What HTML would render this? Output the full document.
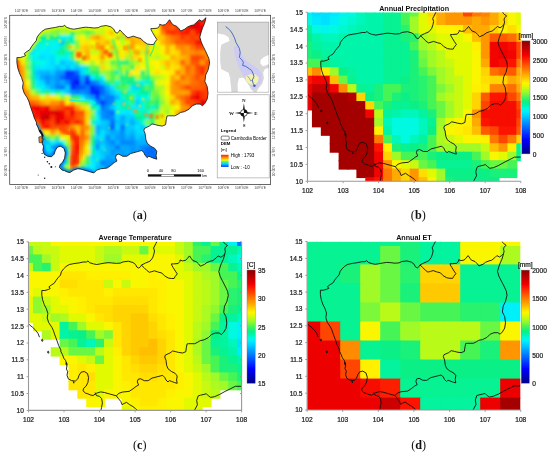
<!DOCTYPE html>
<html><head><meta charset="utf-8"><title>Figure</title>
<style>
html,body{margin:0;padding:0;background:#fff;}
body{width:550px;height:456px;overflow:hidden;}
svg{display:block;}
.tk{font-family:"Liberation Sans",Arial,sans-serif;font-size:6.6px;fill:#222;stroke:#222;stroke-width:0.22px;}
.ttl{font-family:"Liberation Sans",Arial,sans-serif;font-size:7.2px;font-weight:bold;fill:#111;}
.cap{font-family:"Liberation Serif","Times New Roman",serif;font-size:12.2px;fill:#111;}
.ax{stroke:#999;stroke-width:1.1;}
.tka{font-family:"Liberation Sans",Arial,sans-serif;font-size:3.3px;fill:#444;}
.fr{stroke:#444;stroke-width:0.5;}
.lg{font-family:"Liberation Sans",Arial,sans-serif;font-size:4.6px;fill:#000;}
.lgb{font-family:"Liberation Sans",Arial,sans-serif;font-size:4.3px;font-weight:bold;fill:#000;}
.cmp{font-family:"Liberation Serif",serif;font-size:5px;font-weight:bold;fill:#111;}
.tick{stroke:#888;stroke-width:0.8;}
</style></head>
<body>
<svg width="550" height="456" viewBox="0 0 550 456">
<defs><clipPath id="cpa"><path d="M16.9 57.6 L20.1 57.6 L23.5 56.5 L25.6 55.6 L24.2 53.7 L26.9 51.5 L29.7 49.8 L31.6 46.5 L33.7 43.7 L36.2 40.8 L37.1 37.2 L39.2 34.3 L41.9 31.4 L45.3 29.2 L50.0 28.3 L55.5 27.4 L59.5 26.4 L62.9 26.4 L64.7 25.2 L66.3 27.2 L70.4 28.6 L73.8 29.2 L77.2 28.6 L81.3 27.8 L85.3 27.2 L88.6 27.4 L94.0 28.0 L98.1 27.7 L100.8 26.3 L106.3 25.5 L111.0 26.9 L113.7 29.1 L115.1 32.0 L117.1 33.2 L119.2 31.3 L119.8 29.9 L122.6 32.7 L125.3 35.6 L128.0 37.8 L130.6 37.0 L133.3 36.1 L137.1 37.5 L140.9 38.5 L143.7 41.6 L147.5 44.0 L150.8 44.5 L153.6 44.5 L154.5 42.6 L156.9 39.5 L154.9 36.6 L152.6 32.6 L151.2 30.1 L150.8 28.6 L153.0 28.6 L157.8 28.1 L159.7 25.6 L159.7 24.2 L162.0 25.2 L165.2 24.7 L167.2 22.7 L169.5 19.7 L171.4 22.7 L172.8 24.7 L176.6 26.2 L178.9 28.6 L180.7 31.1 L184.9 29.1 L187.6 26.9 L191.0 25.5 L193.7 24.9 L197.1 21.9 L199.2 19.7 L201.9 21.3 L203.9 19.7 L206.0 17.7 L204.6 23.3 L202.6 27.7 L201.2 32.0 L199.8 37.0 L201.2 42.0 L203.2 46.4 L205.3 50.6 L207.3 55.0 L208.9 58.6 L209.6 63.1 L208.1 69.9 L205.7 74.9 L204.9 81.5 L207.2 86.6 L208.1 93.2 L207.2 99.1 L204.9 103.3 L202.5 105.8 L200.1 104.1 L196.2 104.1 L192.3 105.8 L189.1 109.2 L184.3 111.7 L180.4 112.5 L178.0 114.2 L174.8 115.8 L168.5 115.8 L167.0 116.0 L166.3 119.6 L165.6 124.7 L162.2 126.1 L158.1 125.4 L155.4 124.7 L152.0 123.9 L149.3 126.1 L144.6 128.3 L143.9 130.4 L145.2 134.0 L145.9 139.7 L147.3 143.3 L150.7 146.2 L154.7 148.3 L156.8 151.2 L156.1 155.6 L156.8 159.2 L154.1 158.4 L150.7 157.0 L148.6 156.2 L147.3 157.7 L145.2 155.6 L143.9 152.7 L141.8 150.5 L139.1 151.2 L136.0 152.1 L130.7 153.5 L126.8 156.3 L122.8 156.3 L118.9 154.1 L116.3 154.9 L115.6 157.6 L116.9 161.1 L114.3 162.5 L111.0 165.3 L107.1 168.1 L100.5 168.8 L96.6 170.2 L93.9 172.9 L88.2 171.3 L81.6 169.3 L77.8 168.7 L73.8 170.0 L69.9 172.6 L67.3 172.0 L64.6 170.7 L62.0 170.0 L59.4 167.5 L60.0 164.7 L62.7 162.1 L64.6 158.2 L65.3 152.9 L64.0 148.3 L60.7 146.3 L57.5 147.0 L55.4 150.3 L54.1 154.2 L51.5 156.8 L47.5 156.2 L44.2 154.2 L42.9 150.3 L43.6 146.3 L42.3 143.7 L42.9 139.7 L41.6 134.5 L39.6 131.8 L38.2 127.9 L36.3 123.9 L36.7 123.0 L34.3 117.9 L32.7 112.9 L30.3 106.2 L28.8 101.2 L27.2 97.8 L24.0 92.8 L22.5 87.8 L23.2 82.7 L21.6 77.7 L19.3 72.7 L17.7 67.7 L16.9 62.6Z"/></clipPath><filter id="demblur" x="-5%" y="-5%" width="110%" height="110%"><feGaussianBlur stdDeviation="1.8"/></filter><filter id="b06"><feGaussianBlur stdDeviation="0.6"/></filter><filter id="b1"><feGaussianBlur stdDeviation="1"/></filter><filter id="b2" x="-30%" y="-30%" width="160%" height="160%"><feGaussianBlur stdDeviation="2"/></filter></defs>
<g clip-path="url(#cpa)">
<g filter="url(#demblur)">
<rect x="10" y="10" width="5.6" height="5.6" fill="#21f274"/>
<rect x="15" y="10" width="5.6" height="5.6" fill="#12f181"/>
<rect x="20" y="10" width="5.6" height="5.6" fill="#40f55a"/>
<rect x="25" y="10" width="5.6" height="5.6" fill="#1bf179"/>
<rect x="30" y="10" width="5.6" height="5.6" fill="#66f745"/>
<rect x="35" y="10" width="5.6" height="5.6" fill="#74f83e"/>
<rect x="40" y="10" width="5.6" height="5.6" fill="#73f73f"/>
<rect x="45" y="10" width="5.6" height="5.6" fill="#aafa22"/>
<rect x="50" y="10" width="5.6" height="5.6" fill="#73f73f"/>
<rect x="55" y="10" width="5.6" height="5.6" fill="#99fa2c"/>
<rect x="60" y="10" width="5.6" height="5.6" fill="#72f73f"/>
<rect x="65" y="10" width="5.6" height="5.6" fill="#74f83e"/>
<rect x="70" y="10" width="5.6" height="5.6" fill="#98fa2c"/>
<rect x="75" y="10" width="5.6" height="5.6" fill="#bdfa16"/>
<rect x="80" y="10" width="5.6" height="5.6" fill="#85f836"/>
<rect x="85" y="10" width="5.6" height="5.6" fill="#a4fa25"/>
<rect x="90" y="10" width="5.6" height="5.6" fill="#defa02"/>
<rect x="95" y="10" width="5.6" height="5.6" fill="#fff300"/>
<rect x="100" y="10" width="5.6" height="5.6" fill="#e7f900"/>
<rect x="105" y="10" width="5.6" height="5.6" fill="#dffa01"/>
<rect x="110" y="10" width="5.6" height="5.6" fill="#ffe400"/>
<rect x="115" y="10" width="5.6" height="5.6" fill="#d8fa06"/>
<rect x="120" y="10" width="5.6" height="5.6" fill="#ffe600"/>
<rect x="125" y="10" width="5.6" height="5.6" fill="#fcf600"/>
<rect x="130" y="10" width="5.6" height="5.6" fill="#ffe400"/>
<rect x="135" y="10" width="5.6" height="5.6" fill="#ffdc00"/>
<rect x="140" y="10" width="5.6" height="5.6" fill="#ffda00"/>
<rect x="145" y="10" width="5.6" height="5.6" fill="#ffb300"/>
<rect x="150" y="10" width="5.6" height="5.6" fill="#ffc100"/>
<rect x="155" y="10" width="5.6" height="5.6" fill="#ff8500"/>
<rect x="160" y="10" width="5.6" height="5.6" fill="#ff5400"/>
<rect x="165" y="10" width="5.6" height="5.6" fill="#ff4b00"/>
<rect x="170" y="10" width="5.6" height="5.6" fill="#fe3c00"/>
<rect x="175" y="10" width="5.6" height="5.6" fill="#ff4d00"/>
<rect x="180" y="10" width="5.6" height="5.6" fill="#fe3c00"/>
<rect x="185" y="10" width="5.6" height="5.6" fill="#fd2900"/>
<rect x="190" y="10" width="5.6" height="5.6" fill="#f70c00"/>
<rect x="195" y="10" width="5.6" height="5.6" fill="#fc1800"/>
<rect x="200" y="10" width="5.6" height="5.6" fill="#fd1f00"/>
<rect x="205" y="10" width="5.6" height="5.6" fill="#fa1000"/>
<rect x="210" y="10" width="5.6" height="5.6" fill="#fc1700"/>
<rect x="10" y="15" width="5.6" height="5.6" fill="#1ef276"/>
<rect x="15" y="15" width="5.6" height="5.6" fill="#4df552"/>
<rect x="20" y="15" width="5.6" height="5.6" fill="#44f556"/>
<rect x="25" y="15" width="5.6" height="5.6" fill="#2af36c"/>
<rect x="30" y="15" width="5.6" height="5.6" fill="#6af743"/>
<rect x="35" y="15" width="5.6" height="5.6" fill="#85f935"/>
<rect x="40" y="15" width="5.6" height="5.6" fill="#bffa15"/>
<rect x="45" y="15" width="5.6" height="5.6" fill="#bcfa17"/>
<rect x="50" y="15" width="5.6" height="5.6" fill="#8ef931"/>
<rect x="55" y="15" width="5.6" height="5.6" fill="#c5fa11"/>
<rect x="60" y="15" width="5.6" height="5.6" fill="#77f83d"/>
<rect x="65" y="15" width="5.6" height="5.6" fill="#97fa2c"/>
<rect x="70" y="15" width="5.6" height="5.6" fill="#b4fa1c"/>
<rect x="75" y="15" width="5.6" height="5.6" fill="#7ff839"/>
<rect x="80" y="15" width="5.6" height="5.6" fill="#a9fa23"/>
<rect x="85" y="15" width="5.6" height="5.6" fill="#92f92f"/>
<rect x="90" y="15" width="5.6" height="5.6" fill="#e1fa00"/>
<rect x="95" y="15" width="5.6" height="5.6" fill="#f4f700"/>
<rect x="100" y="15" width="5.6" height="5.6" fill="#e6f900"/>
<rect x="105" y="15" width="5.6" height="5.6" fill="#fff300"/>
<rect x="110" y="15" width="5.6" height="5.6" fill="#e6f900"/>
<rect x="115" y="15" width="5.6" height="5.6" fill="#ffef00"/>
<rect x="120" y="15" width="5.6" height="5.6" fill="#fff400"/>
<rect x="125" y="15" width="5.6" height="5.6" fill="#ffe700"/>
<rect x="130" y="15" width="5.6" height="5.6" fill="#ffd100"/>
<rect x="135" y="15" width="5.6" height="5.6" fill="#ffaf00"/>
<rect x="140" y="15" width="5.6" height="5.6" fill="#ffb300"/>
<rect x="145" y="15" width="5.6" height="5.6" fill="#ffc800"/>
<rect x="150" y="15" width="5.6" height="5.6" fill="#ffa300"/>
<rect x="155" y="15" width="5.6" height="5.6" fill="#ffa400"/>
<rect x="160" y="15" width="5.6" height="5.6" fill="#ff5000"/>
<rect x="165" y="15" width="5.6" height="5.6" fill="#fe3b00"/>
<rect x="170" y="15" width="5.6" height="5.6" fill="#fd2100"/>
<rect x="175" y="15" width="5.6" height="5.6" fill="#fd2000"/>
<rect x="180" y="15" width="5.6" height="5.6" fill="#fe2f00"/>
<rect x="185" y="15" width="5.6" height="5.6" fill="#fd1f00"/>
<rect x="190" y="15" width="5.6" height="5.6" fill="#f80d00"/>
<rect x="195" y="15" width="5.6" height="5.6" fill="#fe3100"/>
<rect x="200" y="15" width="5.6" height="5.6" fill="#fc1600"/>
<rect x="205" y="15" width="5.6" height="5.6" fill="#fd2800"/>
<rect x="210" y="15" width="5.6" height="5.6" fill="#fd2b00"/>
<rect x="10" y="20" width="5.6" height="5.6" fill="#0af089"/>
<rect x="15" y="20" width="5.6" height="5.6" fill="#45f556"/>
<rect x="20" y="20" width="5.6" height="5.6" fill="#09f08a"/>
<rect x="25" y="20" width="5.6" height="5.6" fill="#1df277"/>
<rect x="30" y="20" width="5.6" height="5.6" fill="#46f555"/>
<rect x="35" y="20" width="5.6" height="5.6" fill="#9ffa28"/>
<rect x="40" y="20" width="5.6" height="5.6" fill="#71f73f"/>
<rect x="45" y="20" width="5.6" height="5.6" fill="#a6fa24"/>
<rect x="50" y="20" width="5.6" height="5.6" fill="#a7fa24"/>
<rect x="55" y="20" width="5.6" height="5.6" fill="#befa16"/>
<rect x="60" y="20" width="5.6" height="5.6" fill="#b9fa19"/>
<rect x="65" y="20" width="5.6" height="5.6" fill="#bcfa17"/>
<rect x="70" y="20" width="5.6" height="5.6" fill="#88f934"/>
<rect x="75" y="20" width="5.6" height="5.6" fill="#9bfa2a"/>
<rect x="80" y="20" width="5.6" height="5.6" fill="#9efa29"/>
<rect x="85" y="20" width="5.6" height="5.6" fill="#d8fa06"/>
<rect x="90" y="20" width="5.6" height="5.6" fill="#f6f700"/>
<rect x="95" y="20" width="5.6" height="5.6" fill="#c6fa11"/>
<rect x="100" y="20" width="5.6" height="5.6" fill="#c8fa10"/>
<rect x="105" y="20" width="5.6" height="5.6" fill="#d3fa09"/>
<rect x="110" y="20" width="5.6" height="5.6" fill="#e0fa01"/>
<rect x="115" y="20" width="5.6" height="5.6" fill="#f8f600"/>
<rect x="120" y="20" width="5.6" height="5.6" fill="#fff500"/>
<rect x="125" y="20" width="5.6" height="5.6" fill="#faf600"/>
<rect x="130" y="20" width="5.6" height="5.6" fill="#ffec00"/>
<rect x="135" y="20" width="5.6" height="5.6" fill="#ffc900"/>
<rect x="140" y="20" width="5.6" height="5.6" fill="#ffd700"/>
<rect x="145" y="20" width="5.6" height="5.6" fill="#ffc800"/>
<rect x="150" y="20" width="5.6" height="5.6" fill="#ff9000"/>
<rect x="155" y="20" width="5.6" height="5.6" fill="#ff8900"/>
<rect x="160" y="20" width="5.6" height="5.6" fill="#ff6400"/>
<rect x="165" y="20" width="5.6" height="5.6" fill="#fe3b00"/>
<rect x="170" y="20" width="5.6" height="5.6" fill="#fd2c00"/>
<rect x="175" y="20" width="5.6" height="5.6" fill="#ff5e00"/>
<rect x="180" y="20" width="5.6" height="5.6" fill="#ef0000"/>
<rect x="185" y="20" width="5.6" height="5.6" fill="#f10100"/>
<rect x="190" y="20" width="5.6" height="5.6" fill="#e70000"/>
<rect x="195" y="20" width="5.6" height="5.6" fill="#ec0000"/>
<rect x="200" y="20" width="5.6" height="5.6" fill="#fd1f00"/>
<rect x="205" y="20" width="5.6" height="5.6" fill="#fd1e00"/>
<rect x="210" y="20" width="5.6" height="5.6" fill="#fe3c00"/>
<rect x="10" y="25" width="5.6" height="5.6" fill="#3af45f"/>
<rect x="15" y="25" width="5.6" height="5.6" fill="#07f191"/>
<rect x="20" y="25" width="5.6" height="5.6" fill="#03f39f"/>
<rect x="25" y="25" width="5.6" height="5.6" fill="#07f191"/>
<rect x="30" y="25" width="5.6" height="5.6" fill="#17f17c"/>
<rect x="35" y="25" width="5.6" height="5.6" fill="#4ef551"/>
<rect x="40" y="25" width="5.6" height="5.6" fill="#66f745"/>
<rect x="45" y="25" width="5.6" height="5.6" fill="#78f83c"/>
<rect x="50" y="25" width="5.6" height="5.6" fill="#7ff839"/>
<rect x="55" y="25" width="5.6" height="5.6" fill="#75f83e"/>
<rect x="60" y="25" width="5.6" height="5.6" fill="#91f92f"/>
<rect x="65" y="25" width="5.6" height="5.6" fill="#6df742"/>
<rect x="70" y="25" width="5.6" height="5.6" fill="#bdfa16"/>
<rect x="75" y="25" width="5.6" height="5.6" fill="#acfa21"/>
<rect x="80" y="25" width="5.6" height="5.6" fill="#88f934"/>
<rect x="85" y="25" width="5.6" height="5.6" fill="#a7fa24"/>
<rect x="90" y="25" width="5.6" height="5.6" fill="#c8fa0f"/>
<rect x="95" y="25" width="5.6" height="5.6" fill="#d6fa07"/>
<rect x="100" y="25" width="5.6" height="5.6" fill="#c4fa12"/>
<rect x="105" y="25" width="5.6" height="5.6" fill="#fff400"/>
<rect x="110" y="25" width="5.6" height="5.6" fill="#ffe300"/>
<rect x="115" y="25" width="5.6" height="5.6" fill="#f7f600"/>
<rect x="120" y="25" width="5.6" height="5.6" fill="#f8f600"/>
<rect x="125" y="25" width="5.6" height="5.6" fill="#edf800"/>
<rect x="130" y="25" width="5.6" height="5.6" fill="#ffe600"/>
<rect x="135" y="25" width="5.6" height="5.6" fill="#ffce00"/>
<rect x="140" y="25" width="5.6" height="5.6" fill="#ffdd00"/>
<rect x="145" y="25" width="5.6" height="5.6" fill="#ffc400"/>
<rect x="150" y="25" width="5.6" height="5.6" fill="#f1f700"/>
<rect x="155" y="25" width="5.6" height="5.6" fill="#fff000"/>
<rect x="160" y="25" width="5.6" height="5.6" fill="#ff4c00"/>
<rect x="165" y="25" width="5.6" height="5.6" fill="#ff4a00"/>
<rect x="170" y="25" width="5.6" height="5.6" fill="#ff6000"/>
<rect x="175" y="25" width="5.6" height="5.6" fill="#fd2a00"/>
<rect x="180" y="25" width="5.6" height="5.6" fill="#ff5200"/>
<rect x="185" y="25" width="5.6" height="5.6" fill="#fc1800"/>
<rect x="190" y="25" width="5.6" height="5.6" fill="#df0000"/>
<rect x="195" y="25" width="5.6" height="5.6" fill="#e70000"/>
<rect x="200" y="25" width="5.6" height="5.6" fill="#f30400"/>
<rect x="205" y="25" width="5.6" height="5.6" fill="#fd2c00"/>
<rect x="210" y="25" width="5.6" height="5.6" fill="#fd2100"/>
<rect x="10" y="30" width="5.6" height="5.6" fill="#1cf278"/>
<rect x="15" y="30" width="5.6" height="5.6" fill="#3ff45b"/>
<rect x="20" y="30" width="5.6" height="5.6" fill="#08f18d"/>
<rect x="25" y="30" width="5.6" height="5.6" fill="#11f181"/>
<rect x="30" y="30" width="5.6" height="5.6" fill="#08f18e"/>
<rect x="35" y="30" width="5.6" height="5.6" fill="#18f17c"/>
<rect x="40" y="30" width="5.6" height="5.6" fill="#7df839"/>
<rect x="45" y="30" width="5.6" height="5.6" fill="#a1fa27"/>
<rect x="50" y="30" width="5.6" height="5.6" fill="#88f934"/>
<rect x="55" y="30" width="5.6" height="5.6" fill="#7ef839"/>
<rect x="60" y="30" width="5.6" height="5.6" fill="#b1fa1d"/>
<rect x="65" y="30" width="5.6" height="5.6" fill="#a8fa23"/>
<rect x="70" y="30" width="5.6" height="5.6" fill="#2ef369"/>
<rect x="75" y="30" width="5.6" height="5.6" fill="#99fa2c"/>
<rect x="80" y="30" width="5.6" height="5.6" fill="#90f930"/>
<rect x="85" y="30" width="5.6" height="5.6" fill="#56f64d"/>
<rect x="90" y="30" width="5.6" height="5.6" fill="#78f83c"/>
<rect x="95" y="30" width="5.6" height="5.6" fill="#c3fa12"/>
<rect x="100" y="30" width="5.6" height="5.6" fill="#bffa15"/>
<rect x="105" y="30" width="5.6" height="5.6" fill="#ffe200"/>
<rect x="110" y="30" width="5.6" height="5.6" fill="#ffb300"/>
<rect x="115" y="30" width="5.6" height="5.6" fill="#eff800"/>
<rect x="120" y="30" width="5.6" height="5.6" fill="#ffb400"/>
<rect x="125" y="30" width="5.6" height="5.6" fill="#ff9d00"/>
<rect x="130" y="30" width="5.6" height="5.6" fill="#ff8400"/>
<rect x="135" y="30" width="5.6" height="5.6" fill="#ffdb00"/>
<rect x="140" y="30" width="5.6" height="5.6" fill="#f9f600"/>
<rect x="145" y="30" width="5.6" height="5.6" fill="#e7f900"/>
<rect x="150" y="30" width="5.6" height="5.6" fill="#dcfa03"/>
<rect x="155" y="30" width="5.6" height="5.6" fill="#fdf500"/>
<rect x="160" y="30" width="5.6" height="5.6" fill="#ff8200"/>
<rect x="165" y="30" width="5.6" height="5.6" fill="#fe3600"/>
<rect x="170" y="30" width="5.6" height="5.6" fill="#fd2500"/>
<rect x="175" y="30" width="5.6" height="5.6" fill="#fe3900"/>
<rect x="180" y="30" width="5.6" height="5.6" fill="#fd1e00"/>
<rect x="185" y="30" width="5.6" height="5.6" fill="#f60a00"/>
<rect x="190" y="30" width="5.6" height="5.6" fill="#ff4800"/>
<rect x="195" y="30" width="5.6" height="5.6" fill="#f70c00"/>
<rect x="200" y="30" width="5.6" height="5.6" fill="#e50000"/>
<rect x="205" y="30" width="5.6" height="5.6" fill="#ed0000"/>
<rect x="210" y="30" width="5.6" height="5.6" fill="#f00000"/>
<rect x="10" y="35" width="5.6" height="5.6" fill="#54f64e"/>
<rect x="15" y="35" width="5.6" height="5.6" fill="#15f17e"/>
<rect x="20" y="35" width="5.6" height="5.6" fill="#0af087"/>
<rect x="25" y="35" width="5.6" height="5.6" fill="#00f8c7"/>
<rect x="30" y="35" width="5.6" height="5.6" fill="#07f191"/>
<rect x="35" y="35" width="5.6" height="5.6" fill="#19f17a"/>
<rect x="40" y="35" width="5.6" height="5.6" fill="#05f399"/>
<rect x="45" y="35" width="5.6" height="5.6" fill="#05f399"/>
<rect x="50" y="35" width="5.6" height="5.6" fill="#17f17c"/>
<rect x="55" y="35" width="5.6" height="5.6" fill="#07f292"/>
<rect x="60" y="35" width="5.6" height="5.6" fill="#00f3f3"/>
<rect x="65" y="35" width="5.6" height="5.6" fill="#00f7ea"/>
<rect x="70" y="35" width="5.6" height="5.6" fill="#00f6b0"/>
<rect x="75" y="35" width="5.6" height="5.6" fill="#d3fa09"/>
<rect x="80" y="35" width="5.6" height="5.6" fill="#fff300"/>
<rect x="85" y="35" width="5.6" height="5.6" fill="#a8fa23"/>
<rect x="90" y="35" width="5.6" height="5.6" fill="#ffbd00"/>
<rect x="95" y="35" width="5.6" height="5.6" fill="#ff9c00"/>
<rect x="100" y="35" width="5.6" height="5.6" fill="#ffd100"/>
<rect x="105" y="35" width="5.6" height="5.6" fill="#ecf800"/>
<rect x="110" y="35" width="5.6" height="5.6" fill="#ffee00"/>
<rect x="115" y="35" width="5.6" height="5.6" fill="#aefa1f"/>
<rect x="120" y="35" width="5.6" height="5.6" fill="#92f92f"/>
<rect x="125" y="35" width="5.6" height="5.6" fill="#ffa000"/>
<rect x="130" y="35" width="5.6" height="5.6" fill="#ffb500"/>
<rect x="135" y="35" width="5.6" height="5.6" fill="#ffc000"/>
<rect x="140" y="35" width="5.6" height="5.6" fill="#ff8800"/>
<rect x="145" y="35" width="5.6" height="5.6" fill="#ffeb00"/>
<rect x="150" y="35" width="5.6" height="5.6" fill="#ffd800"/>
<rect x="155" y="35" width="5.6" height="5.6" fill="#ffc900"/>
<rect x="160" y="35" width="5.6" height="5.6" fill="#ffc500"/>
<rect x="165" y="35" width="5.6" height="5.6" fill="#ff9200"/>
<rect x="170" y="35" width="5.6" height="5.6" fill="#ff7200"/>
<rect x="175" y="35" width="5.6" height="5.6" fill="#ff6500"/>
<rect x="180" y="35" width="5.6" height="5.6" fill="#fe3800"/>
<rect x="185" y="35" width="5.6" height="5.6" fill="#ff5000"/>
<rect x="190" y="35" width="5.6" height="5.6" fill="#fe3700"/>
<rect x="195" y="35" width="5.6" height="5.6" fill="#ff4a00"/>
<rect x="200" y="35" width="5.6" height="5.6" fill="#e80000"/>
<rect x="205" y="35" width="5.6" height="5.6" fill="#fd2300"/>
<rect x="210" y="35" width="5.6" height="5.6" fill="#fc1800"/>
<rect x="10" y="40" width="5.6" height="5.6" fill="#9ffa29"/>
<rect x="15" y="40" width="5.6" height="5.6" fill="#84f836"/>
<rect x="20" y="40" width="5.6" height="5.6" fill="#02f4a2"/>
<rect x="25" y="40" width="5.6" height="5.6" fill="#01f4a6"/>
<rect x="30" y="40" width="5.6" height="5.6" fill="#00f8d0"/>
<rect x="35" y="40" width="5.6" height="5.6" fill="#00f8c9"/>
<rect x="40" y="40" width="5.6" height="5.6" fill="#00f7c5"/>
<rect x="45" y="40" width="5.6" height="5.6" fill="#00f2f6"/>
<rect x="50" y="40" width="5.6" height="5.6" fill="#00fae1"/>
<rect x="55" y="40" width="5.6" height="5.6" fill="#00f1f6"/>
<rect x="60" y="40" width="5.6" height="5.6" fill="#00c2ff"/>
<rect x="65" y="40" width="5.6" height="5.6" fill="#27f26f"/>
<rect x="70" y="40" width="5.6" height="5.6" fill="#00f5a8"/>
<rect x="75" y="40" width="5.6" height="5.6" fill="#86f935"/>
<rect x="80" y="40" width="5.6" height="5.6" fill="#ffeb00"/>
<rect x="85" y="40" width="5.6" height="5.6" fill="#ffe300"/>
<rect x="90" y="40" width="5.6" height="5.6" fill="#f6f700"/>
<rect x="95" y="40" width="5.6" height="5.6" fill="#ffd900"/>
<rect x="100" y="40" width="5.6" height="5.6" fill="#ffcf00"/>
<rect x="105" y="40" width="5.6" height="5.6" fill="#ffb200"/>
<rect x="110" y="40" width="5.6" height="5.6" fill="#b0fa1e"/>
<rect x="115" y="40" width="5.6" height="5.6" fill="#fff500"/>
<rect x="120" y="40" width="5.6" height="5.6" fill="#c0fa14"/>
<rect x="125" y="40" width="5.6" height="5.6" fill="#dbfa04"/>
<rect x="130" y="40" width="5.6" height="5.6" fill="#ffa300"/>
<rect x="135" y="40" width="5.6" height="5.6" fill="#ffc300"/>
<rect x="140" y="40" width="5.6" height="5.6" fill="#ffc400"/>
<rect x="145" y="40" width="5.6" height="5.6" fill="#ffb800"/>
<rect x="150" y="40" width="5.6" height="5.6" fill="#ffd800"/>
<rect x="155" y="40" width="5.6" height="5.6" fill="#f8f600"/>
<rect x="160" y="40" width="5.6" height="5.6" fill="#ffb800"/>
<rect x="165" y="40" width="5.6" height="5.6" fill="#ff9c00"/>
<rect x="170" y="40" width="5.6" height="5.6" fill="#ff8000"/>
<rect x="175" y="40" width="5.6" height="5.6" fill="#ff5800"/>
<rect x="180" y="40" width="5.6" height="5.6" fill="#ff6100"/>
<rect x="185" y="40" width="5.6" height="5.6" fill="#ff4b00"/>
<rect x="190" y="40" width="5.6" height="5.6" fill="#ff4400"/>
<rect x="195" y="40" width="5.6" height="5.6" fill="#f70c00"/>
<rect x="200" y="40" width="5.6" height="5.6" fill="#fc1700"/>
<rect x="205" y="40" width="5.6" height="5.6" fill="#f20400"/>
<rect x="210" y="40" width="5.6" height="5.6" fill="#ef0000"/>
<rect x="10" y="45" width="5.6" height="5.6" fill="#ccfa0d"/>
<rect x="15" y="45" width="5.6" height="5.6" fill="#a4fa26"/>
<rect x="20" y="45" width="5.6" height="5.6" fill="#25f270"/>
<rect x="25" y="45" width="5.6" height="5.6" fill="#00f7bd"/>
<rect x="30" y="45" width="5.6" height="5.6" fill="#00ebff"/>
<rect x="35" y="45" width="5.6" height="5.6" fill="#00ebff"/>
<rect x="40" y="45" width="5.6" height="5.6" fill="#00f9e4"/>
<rect x="45" y="45" width="5.6" height="5.6" fill="#00effb"/>
<rect x="50" y="45" width="5.6" height="5.6" fill="#00f3f2"/>
<rect x="55" y="45" width="5.6" height="5.6" fill="#00f0fb"/>
<rect x="60" y="45" width="5.6" height="5.6" fill="#03f4a0"/>
<rect x="65" y="45" width="5.6" height="5.6" fill="#45f556"/>
<rect x="70" y="45" width="5.6" height="5.6" fill="#dafa04"/>
<rect x="75" y="45" width="5.6" height="5.6" fill="#84f836"/>
<rect x="80" y="45" width="5.6" height="5.6" fill="#ffcf00"/>
<rect x="85" y="45" width="5.6" height="5.6" fill="#ffc300"/>
<rect x="90" y="45" width="5.6" height="5.6" fill="#d8fa06"/>
<rect x="95" y="45" width="5.6" height="5.6" fill="#ff9900"/>
<rect x="100" y="45" width="5.6" height="5.6" fill="#ff8000"/>
<rect x="105" y="45" width="5.6" height="5.6" fill="#eef800"/>
<rect x="110" y="45" width="5.6" height="5.6" fill="#ffb000"/>
<rect x="115" y="45" width="5.6" height="5.6" fill="#d2fa09"/>
<rect x="120" y="45" width="5.6" height="5.6" fill="#e5f900"/>
<rect x="125" y="45" width="5.6" height="5.6" fill="#ffa800"/>
<rect x="130" y="45" width="5.6" height="5.6" fill="#ff9c00"/>
<rect x="135" y="45" width="5.6" height="5.6" fill="#faf600"/>
<rect x="140" y="45" width="5.6" height="5.6" fill="#ffda00"/>
<rect x="145" y="45" width="5.6" height="5.6" fill="#ffe000"/>
<rect x="150" y="45" width="5.6" height="5.6" fill="#e0fa01"/>
<rect x="155" y="45" width="5.6" height="5.6" fill="#cdfa0c"/>
<rect x="160" y="45" width="5.6" height="5.6" fill="#fff300"/>
<rect x="165" y="45" width="5.6" height="5.6" fill="#ffb100"/>
<rect x="170" y="45" width="5.6" height="5.6" fill="#ffe200"/>
<rect x="175" y="45" width="5.6" height="5.6" fill="#ff9300"/>
<rect x="180" y="45" width="5.6" height="5.6" fill="#ff8500"/>
<rect x="185" y="45" width="5.6" height="5.6" fill="#ff9a00"/>
<rect x="190" y="45" width="5.6" height="5.6" fill="#ff6a00"/>
<rect x="195" y="45" width="5.6" height="5.6" fill="#ff4200"/>
<rect x="200" y="45" width="5.6" height="5.6" fill="#ff4900"/>
<rect x="205" y="45" width="5.6" height="5.6" fill="#ff7400"/>
<rect x="210" y="45" width="5.6" height="5.6" fill="#fc1800"/>
<rect x="10" y="50" width="5.6" height="5.6" fill="#ffac00"/>
<rect x="15" y="50" width="5.6" height="5.6" fill="#ffdc00"/>
<rect x="20" y="50" width="5.6" height="5.6" fill="#2ef369"/>
<rect x="25" y="50" width="5.6" height="5.6" fill="#00f7bf"/>
<rect x="30" y="50" width="5.6" height="5.6" fill="#00eaff"/>
<rect x="35" y="50" width="5.6" height="5.6" fill="#00fae0"/>
<rect x="40" y="50" width="5.6" height="5.6" fill="#00effc"/>
<rect x="45" y="50" width="5.6" height="5.6" fill="#00ecff"/>
<rect x="50" y="50" width="5.6" height="5.6" fill="#00f5ed"/>
<rect x="55" y="50" width="5.6" height="5.6" fill="#00f6b6"/>
<rect x="60" y="50" width="5.6" height="5.6" fill="#09f08a"/>
<rect x="65" y="50" width="5.6" height="5.6" fill="#00f8c8"/>
<rect x="70" y="50" width="5.6" height="5.6" fill="#2af36c"/>
<rect x="75" y="50" width="5.6" height="5.6" fill="#ffcb00"/>
<rect x="80" y="50" width="5.6" height="5.6" fill="#ffd900"/>
<rect x="85" y="50" width="5.6" height="5.6" fill="#ffb300"/>
<rect x="90" y="50" width="5.6" height="5.6" fill="#cafa0e"/>
<rect x="95" y="50" width="5.6" height="5.6" fill="#c8fa0f"/>
<rect x="100" y="50" width="5.6" height="5.6" fill="#ffa900"/>
<rect x="105" y="50" width="5.6" height="5.6" fill="#ffe300"/>
<rect x="110" y="50" width="5.6" height="5.6" fill="#92f92f"/>
<rect x="115" y="50" width="5.6" height="5.6" fill="#ffd600"/>
<rect x="120" y="50" width="5.6" height="5.6" fill="#ecf800"/>
<rect x="125" y="50" width="5.6" height="5.6" fill="#ffda00"/>
<rect x="130" y="50" width="5.6" height="5.6" fill="#c1fa14"/>
<rect x="135" y="50" width="5.6" height="5.6" fill="#ff9e00"/>
<rect x="140" y="50" width="5.6" height="5.6" fill="#c1fa13"/>
<rect x="145" y="50" width="5.6" height="5.6" fill="#ffb600"/>
<rect x="150" y="50" width="5.6" height="5.6" fill="#e7f900"/>
<rect x="155" y="50" width="5.6" height="5.6" fill="#d9fa05"/>
<rect x="160" y="50" width="5.6" height="5.6" fill="#ffec00"/>
<rect x="165" y="50" width="5.6" height="5.6" fill="#ffb200"/>
<rect x="170" y="50" width="5.6" height="5.6" fill="#ffe100"/>
<rect x="175" y="50" width="5.6" height="5.6" fill="#ffd600"/>
<rect x="180" y="50" width="5.6" height="5.6" fill="#ff8e00"/>
<rect x="185" y="50" width="5.6" height="5.6" fill="#ff9300"/>
<rect x="190" y="50" width="5.6" height="5.6" fill="#ff8d00"/>
<rect x="195" y="50" width="5.6" height="5.6" fill="#ff8000"/>
<rect x="200" y="50" width="5.6" height="5.6" fill="#ff8d00"/>
<rect x="205" y="50" width="5.6" height="5.6" fill="#ff7f00"/>
<rect x="210" y="50" width="5.6" height="5.6" fill="#ff7400"/>
<rect x="10" y="55" width="5.6" height="5.6" fill="#ff5800"/>
<rect x="15" y="55" width="5.6" height="5.6" fill="#ff7a00"/>
<rect x="20" y="55" width="5.6" height="5.6" fill="#dffa01"/>
<rect x="25" y="55" width="5.6" height="5.6" fill="#54f64e"/>
<rect x="30" y="55" width="5.6" height="5.6" fill="#00f9db"/>
<rect x="35" y="55" width="5.6" height="5.6" fill="#00ecff"/>
<rect x="40" y="55" width="5.6" height="5.6" fill="#00ddff"/>
<rect x="45" y="55" width="5.6" height="5.6" fill="#00eaff"/>
<rect x="50" y="55" width="5.6" height="5.6" fill="#00deff"/>
<rect x="55" y="55" width="5.6" height="5.6" fill="#00fae1"/>
<rect x="60" y="55" width="5.6" height="5.6" fill="#00f9e5"/>
<rect x="65" y="55" width="5.6" height="5.6" fill="#00effc"/>
<rect x="70" y="55" width="5.6" height="5.6" fill="#44f557"/>
<rect x="75" y="55" width="5.6" height="5.6" fill="#ffe400"/>
<rect x="80" y="55" width="5.6" height="5.6" fill="#c5fa11"/>
<rect x="85" y="55" width="5.6" height="5.6" fill="#ff9c00"/>
<rect x="90" y="55" width="5.6" height="5.6" fill="#fff200"/>
<rect x="95" y="55" width="5.6" height="5.6" fill="#ffe700"/>
<rect x="100" y="55" width="5.6" height="5.6" fill="#ff9600"/>
<rect x="105" y="55" width="5.6" height="5.6" fill="#ffed00"/>
<rect x="110" y="55" width="5.6" height="5.6" fill="#d8fa06"/>
<rect x="115" y="55" width="5.6" height="5.6" fill="#d7fa06"/>
<rect x="120" y="55" width="5.6" height="5.6" fill="#ffe700"/>
<rect x="125" y="55" width="5.6" height="5.6" fill="#a2fa27"/>
<rect x="130" y="55" width="5.6" height="5.6" fill="#ffd500"/>
<rect x="135" y="55" width="5.6" height="5.6" fill="#ffe000"/>
<rect x="140" y="55" width="5.6" height="5.6" fill="#fff300"/>
<rect x="145" y="55" width="5.6" height="5.6" fill="#cdfa0c"/>
<rect x="150" y="55" width="5.6" height="5.6" fill="#cdfa0c"/>
<rect x="155" y="55" width="5.6" height="5.6" fill="#b4fa1c"/>
<rect x="160" y="55" width="5.6" height="5.6" fill="#d8fa06"/>
<rect x="165" y="55" width="5.6" height="5.6" fill="#e9f900"/>
<rect x="170" y="55" width="5.6" height="5.6" fill="#ffb000"/>
<rect x="175" y="55" width="5.6" height="5.6" fill="#ffc900"/>
<rect x="180" y="55" width="5.6" height="5.6" fill="#ffb300"/>
<rect x="185" y="55" width="5.6" height="5.6" fill="#ffa300"/>
<rect x="190" y="55" width="5.6" height="5.6" fill="#ff4700"/>
<rect x="195" y="55" width="5.6" height="5.6" fill="#ff4000"/>
<rect x="200" y="55" width="5.6" height="5.6" fill="#ff5c00"/>
<rect x="205" y="55" width="5.6" height="5.6" fill="#ff8600"/>
<rect x="210" y="55" width="5.6" height="5.6" fill="#ff8a00"/>
<rect x="10" y="60" width="5.6" height="5.6" fill="#fc1900"/>
<rect x="15" y="60" width="5.6" height="5.6" fill="#ff4e00"/>
<rect x="20" y="60" width="5.6" height="5.6" fill="#ffe000"/>
<rect x="25" y="60" width="5.6" height="5.6" fill="#96f92d"/>
<rect x="30" y="60" width="5.6" height="5.6" fill="#00f7bf"/>
<rect x="35" y="60" width="5.6" height="5.6" fill="#00fade"/>
<rect x="40" y="60" width="5.6" height="5.6" fill="#00fae1"/>
<rect x="45" y="60" width="5.6" height="5.6" fill="#00ebff"/>
<rect x="50" y="60" width="5.6" height="5.6" fill="#00daff"/>
<rect x="55" y="60" width="5.6" height="5.6" fill="#00f5ef"/>
<rect x="60" y="60" width="5.6" height="5.6" fill="#00bfff"/>
<rect x="65" y="60" width="5.6" height="5.6" fill="#00dbff"/>
<rect x="70" y="60" width="5.6" height="5.6" fill="#00dbff"/>
<rect x="75" y="60" width="5.6" height="5.6" fill="#26f270"/>
<rect x="80" y="60" width="5.6" height="5.6" fill="#b8fa19"/>
<rect x="85" y="60" width="5.6" height="5.6" fill="#ebf800"/>
<rect x="90" y="60" width="5.6" height="5.6" fill="#a8fa23"/>
<rect x="95" y="60" width="5.6" height="5.6" fill="#f6f600"/>
<rect x="100" y="60" width="5.6" height="5.6" fill="#b5fa1b"/>
<rect x="105" y="60" width="5.6" height="5.6" fill="#d6fa07"/>
<rect x="110" y="60" width="5.6" height="5.6" fill="#4af553"/>
<rect x="115" y="60" width="5.6" height="5.6" fill="#6ff741"/>
<rect x="120" y="60" width="5.6" height="5.6" fill="#16f17d"/>
<rect x="125" y="60" width="5.6" height="5.6" fill="#29f36d"/>
<rect x="130" y="60" width="5.6" height="5.6" fill="#a6fa25"/>
<rect x="135" y="60" width="5.6" height="5.6" fill="#a3fa26"/>
<rect x="140" y="60" width="5.6" height="5.6" fill="#dffa01"/>
<rect x="145" y="60" width="5.6" height="5.6" fill="#d4fa08"/>
<rect x="150" y="60" width="5.6" height="5.6" fill="#f9f600"/>
<rect x="155" y="60" width="5.6" height="5.6" fill="#fff400"/>
<rect x="160" y="60" width="5.6" height="5.6" fill="#ffdc00"/>
<rect x="165" y="60" width="5.6" height="5.6" fill="#ffb700"/>
<rect x="170" y="60" width="5.6" height="5.6" fill="#ffd500"/>
<rect x="175" y="60" width="5.6" height="5.6" fill="#ffc100"/>
<rect x="180" y="60" width="5.6" height="5.6" fill="#ff6100"/>
<rect x="185" y="60" width="5.6" height="5.6" fill="#ff9d00"/>
<rect x="190" y="60" width="5.6" height="5.6" fill="#ff5300"/>
<rect x="195" y="60" width="5.6" height="5.6" fill="#ff5700"/>
<rect x="200" y="60" width="5.6" height="5.6" fill="#ff9a00"/>
<rect x="205" y="60" width="5.6" height="5.6" fill="#ff4f00"/>
<rect x="210" y="60" width="5.6" height="5.6" fill="#ff4900"/>
<rect x="10" y="65" width="5.6" height="5.6" fill="#ec0000"/>
<rect x="15" y="65" width="5.6" height="5.6" fill="#fe3000"/>
<rect x="20" y="65" width="5.6" height="5.6" fill="#ffac00"/>
<rect x="25" y="65" width="5.6" height="5.6" fill="#7ef839"/>
<rect x="30" y="65" width="5.6" height="5.6" fill="#00f5ac"/>
<rect x="35" y="65" width="5.6" height="5.6" fill="#00e3ff"/>
<rect x="40" y="65" width="5.6" height="5.6" fill="#00edff"/>
<rect x="45" y="65" width="5.6" height="5.6" fill="#00e5ff"/>
<rect x="50" y="65" width="5.6" height="5.6" fill="#00e0ff"/>
<rect x="55" y="65" width="5.6" height="5.6" fill="#00c5ff"/>
<rect x="60" y="65" width="5.6" height="5.6" fill="#00e0ff"/>
<rect x="65" y="65" width="5.6" height="5.6" fill="#00c4ff"/>
<rect x="70" y="65" width="5.6" height="5.6" fill="#00deff"/>
<rect x="75" y="65" width="5.6" height="5.6" fill="#00c7ff"/>
<rect x="80" y="65" width="5.6" height="5.6" fill="#00e3ff"/>
<rect x="85" y="65" width="5.6" height="5.6" fill="#02f4a3"/>
<rect x="90" y="65" width="5.6" height="5.6" fill="#6cf742"/>
<rect x="95" y="65" width="5.6" height="5.6" fill="#65f745"/>
<rect x="100" y="65" width="5.6" height="5.6" fill="#ffd300"/>
<rect x="105" y="65" width="5.6" height="5.6" fill="#e4fa00"/>
<rect x="110" y="65" width="5.6" height="5.6" fill="#adfa20"/>
<rect x="115" y="65" width="5.6" height="5.6" fill="#88f934"/>
<rect x="120" y="65" width="5.6" height="5.6" fill="#a3fa26"/>
<rect x="125" y="65" width="5.6" height="5.6" fill="#95f92d"/>
<rect x="130" y="65" width="5.6" height="5.6" fill="#4af553"/>
<rect x="135" y="65" width="5.6" height="5.6" fill="#ffe500"/>
<rect x="140" y="65" width="5.6" height="5.6" fill="#fff500"/>
<rect x="145" y="65" width="5.6" height="5.6" fill="#cefa0c"/>
<rect x="150" y="65" width="5.6" height="5.6" fill="#dffa01"/>
<rect x="155" y="65" width="5.6" height="5.6" fill="#fff400"/>
<rect x="160" y="65" width="5.6" height="5.6" fill="#d0fa0b"/>
<rect x="165" y="65" width="5.6" height="5.6" fill="#ffc500"/>
<rect x="170" y="65" width="5.6" height="5.6" fill="#ffe200"/>
<rect x="175" y="65" width="5.6" height="5.6" fill="#ffdb00"/>
<rect x="180" y="65" width="5.6" height="5.6" fill="#ffa800"/>
<rect x="185" y="65" width="5.6" height="5.6" fill="#ff6200"/>
<rect x="190" y="65" width="5.6" height="5.6" fill="#ff8300"/>
<rect x="195" y="65" width="5.6" height="5.6" fill="#ff4600"/>
<rect x="200" y="65" width="5.6" height="5.6" fill="#fe3100"/>
<rect x="205" y="65" width="5.6" height="5.6" fill="#ff6200"/>
<rect x="210" y="65" width="5.6" height="5.6" fill="#ff6d00"/>
<rect x="10" y="70" width="5.6" height="5.6" fill="#ed0000"/>
<rect x="15" y="70" width="5.6" height="5.6" fill="#fd2a00"/>
<rect x="20" y="70" width="5.6" height="5.6" fill="#ffa300"/>
<rect x="25" y="70" width="5.6" height="5.6" fill="#b7fa1a"/>
<rect x="30" y="70" width="5.6" height="5.6" fill="#02f4a4"/>
<rect x="35" y="70" width="5.6" height="5.6" fill="#00c5ff"/>
<rect x="40" y="70" width="5.6" height="5.6" fill="#00baff"/>
<rect x="45" y="70" width="5.6" height="5.6" fill="#00b4ff"/>
<rect x="50" y="70" width="5.6" height="5.6" fill="#00c8ff"/>
<rect x="55" y="70" width="5.6" height="5.6" fill="#0099ff"/>
<rect x="60" y="70" width="5.6" height="5.6" fill="#0092ff"/>
<rect x="65" y="70" width="5.6" height="5.6" fill="#002eff"/>
<rect x="70" y="70" width="5.6" height="5.6" fill="#0038ff"/>
<rect x="75" y="70" width="5.6" height="5.6" fill="#0070ff"/>
<rect x="80" y="70" width="5.6" height="5.6" fill="#00dcff"/>
<rect x="85" y="70" width="5.6" height="5.6" fill="#00f7c5"/>
<rect x="90" y="70" width="5.6" height="5.6" fill="#2af36c"/>
<rect x="95" y="70" width="5.6" height="5.6" fill="#1df277"/>
<rect x="100" y="70" width="5.6" height="5.6" fill="#9afa2b"/>
<rect x="105" y="70" width="5.6" height="5.6" fill="#8bf933"/>
<rect x="110" y="70" width="5.6" height="5.6" fill="#48f554"/>
<rect x="115" y="70" width="5.6" height="5.6" fill="#01f4a6"/>
<rect x="120" y="70" width="5.6" height="5.6" fill="#bbfa17"/>
<rect x="125" y="70" width="5.6" height="5.6" fill="#26f270"/>
<rect x="130" y="70" width="5.6" height="5.6" fill="#fff300"/>
<rect x="135" y="70" width="5.6" height="5.6" fill="#fff200"/>
<rect x="140" y="70" width="5.6" height="5.6" fill="#1ff275"/>
<rect x="145" y="70" width="5.6" height="5.6" fill="#a1fa27"/>
<rect x="150" y="70" width="5.6" height="5.6" fill="#ecf800"/>
<rect x="155" y="70" width="5.6" height="5.6" fill="#ffe000"/>
<rect x="160" y="70" width="5.6" height="5.6" fill="#fbf600"/>
<rect x="165" y="70" width="5.6" height="5.6" fill="#fff300"/>
<rect x="170" y="70" width="5.6" height="5.6" fill="#ffe600"/>
<rect x="175" y="70" width="5.6" height="5.6" fill="#ff8200"/>
<rect x="180" y="70" width="5.6" height="5.6" fill="#ffae00"/>
<rect x="185" y="70" width="5.6" height="5.6" fill="#ff6f00"/>
<rect x="190" y="70" width="5.6" height="5.6" fill="#ff8400"/>
<rect x="195" y="70" width="5.6" height="5.6" fill="#ff5300"/>
<rect x="200" y="70" width="5.6" height="5.6" fill="#fd2800"/>
<rect x="205" y="70" width="5.6" height="5.6" fill="#ff7a00"/>
<rect x="210" y="70" width="5.6" height="5.6" fill="#fe3500"/>
<rect x="10" y="75" width="5.6" height="5.6" fill="#ec0000"/>
<rect x="15" y="75" width="5.6" height="5.6" fill="#fc1a00"/>
<rect x="20" y="75" width="5.6" height="5.6" fill="#ff9c00"/>
<rect x="25" y="75" width="5.6" height="5.6" fill="#a7fa23"/>
<rect x="30" y="75" width="5.6" height="5.6" fill="#08f18d"/>
<rect x="35" y="75" width="5.6" height="5.6" fill="#00d6ff"/>
<rect x="40" y="75" width="5.6" height="5.6" fill="#00a4ff"/>
<rect x="45" y="75" width="5.6" height="5.6" fill="#0091ff"/>
<rect x="50" y="75" width="5.6" height="5.6" fill="#00a5ff"/>
<rect x="55" y="75" width="5.6" height="5.6" fill="#0093ff"/>
<rect x="60" y="75" width="5.6" height="5.6" fill="#0063ff"/>
<rect x="65" y="75" width="5.6" height="5.6" fill="#0036ff"/>
<rect x="70" y="75" width="5.6" height="5.6" fill="#0040ff"/>
<rect x="75" y="75" width="5.6" height="5.6" fill="#003bff"/>
<rect x="80" y="75" width="5.6" height="5.6" fill="#00a3ff"/>
<rect x="85" y="75" width="5.6" height="5.6" fill="#0046ff"/>
<rect x="90" y="75" width="5.6" height="5.6" fill="#00eeff"/>
<rect x="95" y="75" width="5.6" height="5.6" fill="#06f295"/>
<rect x="100" y="75" width="5.6" height="5.6" fill="#00f8e6"/>
<rect x="105" y="75" width="5.6" height="5.6" fill="#9ffa28"/>
<rect x="110" y="75" width="5.6" height="5.6" fill="#4bf552"/>
<rect x="115" y="75" width="5.6" height="5.6" fill="#89f933"/>
<rect x="120" y="75" width="5.6" height="5.6" fill="#0bf086"/>
<rect x="125" y="75" width="5.6" height="5.6" fill="#28f36e"/>
<rect x="130" y="75" width="5.6" height="5.6" fill="#20f275"/>
<rect x="135" y="75" width="5.6" height="5.6" fill="#b5fa1b"/>
<rect x="140" y="75" width="5.6" height="5.6" fill="#43f557"/>
<rect x="145" y="75" width="5.6" height="5.6" fill="#28f36e"/>
<rect x="150" y="75" width="5.6" height="5.6" fill="#86f935"/>
<rect x="155" y="75" width="5.6" height="5.6" fill="#acfa20"/>
<rect x="160" y="75" width="5.6" height="5.6" fill="#c1fa14"/>
<rect x="165" y="75" width="5.6" height="5.6" fill="#edf800"/>
<rect x="170" y="75" width="5.6" height="5.6" fill="#ffa700"/>
<rect x="175" y="75" width="5.6" height="5.6" fill="#ffc500"/>
<rect x="180" y="75" width="5.6" height="5.6" fill="#ff6500"/>
<rect x="185" y="75" width="5.6" height="5.6" fill="#ff8d00"/>
<rect x="190" y="75" width="5.6" height="5.6" fill="#ff7000"/>
<rect x="195" y="75" width="5.6" height="5.6" fill="#ff4a00"/>
<rect x="200" y="75" width="5.6" height="5.6" fill="#ff6a00"/>
<rect x="205" y="75" width="5.6" height="5.6" fill="#ff5800"/>
<rect x="210" y="75" width="5.6" height="5.6" fill="#fd1d00"/>
<rect x="10" y="80" width="5.6" height="5.6" fill="#da0000"/>
<rect x="15" y="80" width="5.6" height="5.6" fill="#fc1800"/>
<rect x="20" y="80" width="5.6" height="5.6" fill="#ff8e00"/>
<rect x="25" y="80" width="5.6" height="5.6" fill="#faf600"/>
<rect x="30" y="80" width="5.6" height="5.6" fill="#28f36e"/>
<rect x="35" y="80" width="5.6" height="5.6" fill="#00eaff"/>
<rect x="40" y="80" width="5.6" height="5.6" fill="#00d8ff"/>
<rect x="45" y="80" width="5.6" height="5.6" fill="#009aff"/>
<rect x="50" y="80" width="5.6" height="5.6" fill="#00b2ff"/>
<rect x="55" y="80" width="5.6" height="5.6" fill="#0091ff"/>
<rect x="60" y="80" width="5.6" height="5.6" fill="#00afff"/>
<rect x="65" y="80" width="5.6" height="5.6" fill="#0086ff"/>
<rect x="70" y="80" width="5.6" height="5.6" fill="#002eff"/>
<rect x="75" y="80" width="5.6" height="5.6" fill="#0000f9"/>
<rect x="80" y="80" width="5.6" height="5.6" fill="#0084ff"/>
<rect x="85" y="80" width="5.6" height="5.6" fill="#001cff"/>
<rect x="90" y="80" width="5.6" height="5.6" fill="#0075ff"/>
<rect x="95" y="80" width="5.6" height="5.6" fill="#0093ff"/>
<rect x="100" y="80" width="5.6" height="5.6" fill="#00ccff"/>
<rect x="105" y="80" width="5.6" height="5.6" fill="#05f297"/>
<rect x="110" y="80" width="5.6" height="5.6" fill="#47f554"/>
<rect x="115" y="80" width="5.6" height="5.6" fill="#00f9d3"/>
<rect x="120" y="80" width="5.6" height="5.6" fill="#44f557"/>
<rect x="125" y="80" width="5.6" height="5.6" fill="#05f399"/>
<rect x="130" y="80" width="5.6" height="5.6" fill="#0ef083"/>
<rect x="135" y="80" width="5.6" height="5.6" fill="#00f6b2"/>
<rect x="140" y="80" width="5.6" height="5.6" fill="#00f5ee"/>
<rect x="145" y="80" width="5.6" height="5.6" fill="#00f8cb"/>
<rect x="150" y="80" width="5.6" height="5.6" fill="#2ff368"/>
<rect x="155" y="80" width="5.6" height="5.6" fill="#e5f900"/>
<rect x="160" y="80" width="5.6" height="5.6" fill="#f2f700"/>
<rect x="165" y="80" width="5.6" height="5.6" fill="#fbf600"/>
<rect x="170" y="80" width="5.6" height="5.6" fill="#ff9f00"/>
<rect x="175" y="80" width="5.6" height="5.6" fill="#ff7d00"/>
<rect x="180" y="80" width="5.6" height="5.6" fill="#ff9600"/>
<rect x="185" y="80" width="5.6" height="5.6" fill="#ff9600"/>
<rect x="190" y="80" width="5.6" height="5.6" fill="#ff7000"/>
<rect x="195" y="80" width="5.6" height="5.6" fill="#ff6a00"/>
<rect x="200" y="80" width="5.6" height="5.6" fill="#ff5100"/>
<rect x="205" y="80" width="5.6" height="5.6" fill="#ff6a00"/>
<rect x="210" y="80" width="5.6" height="5.6" fill="#ff5b00"/>
<rect x="10" y="85" width="5.6" height="5.6" fill="#f50800"/>
<rect x="15" y="85" width="5.6" height="5.6" fill="#fd1e00"/>
<rect x="20" y="85" width="5.6" height="5.6" fill="#ff6400"/>
<rect x="25" y="85" width="5.6" height="5.6" fill="#ffdf00"/>
<rect x="30" y="85" width="5.6" height="5.6" fill="#39f460"/>
<rect x="35" y="85" width="5.6" height="5.6" fill="#00f9d7"/>
<rect x="40" y="85" width="5.6" height="5.6" fill="#00f0fb"/>
<rect x="45" y="85" width="5.6" height="5.6" fill="#00cdff"/>
<rect x="50" y="85" width="5.6" height="5.6" fill="#00acff"/>
<rect x="55" y="85" width="5.6" height="5.6" fill="#0085ff"/>
<rect x="60" y="85" width="5.6" height="5.6" fill="#0071ff"/>
<rect x="65" y="85" width="5.6" height="5.6" fill="#00c9ff"/>
<rect x="70" y="85" width="5.6" height="5.6" fill="#0027ff"/>
<rect x="75" y="85" width="5.6" height="5.6" fill="#004cff"/>
<rect x="80" y="85" width="5.6" height="5.6" fill="#0054ff"/>
<rect x="85" y="85" width="5.6" height="5.6" fill="#0077ff"/>
<rect x="90" y="85" width="5.6" height="5.6" fill="#0020ff"/>
<rect x="95" y="85" width="5.6" height="5.6" fill="#0044ff"/>
<rect x="100" y="85" width="5.6" height="5.6" fill="#006cff"/>
<rect x="105" y="85" width="5.6" height="5.6" fill="#00b2ff"/>
<rect x="110" y="85" width="5.6" height="5.6" fill="#00e5ff"/>
<rect x="115" y="85" width="5.6" height="5.6" fill="#32f366"/>
<rect x="120" y="85" width="5.6" height="5.6" fill="#4af553"/>
<rect x="125" y="85" width="5.6" height="5.6" fill="#5ef649"/>
<rect x="130" y="85" width="5.6" height="5.6" fill="#00e1ff"/>
<rect x="135" y="85" width="5.6" height="5.6" fill="#00dbff"/>
<rect x="140" y="85" width="5.6" height="5.6" fill="#0cf086"/>
<rect x="145" y="85" width="5.6" height="5.6" fill="#5cf64a"/>
<rect x="150" y="85" width="5.6" height="5.6" fill="#35f463"/>
<rect x="155" y="85" width="5.6" height="5.6" fill="#a4fa26"/>
<rect x="160" y="85" width="5.6" height="5.6" fill="#abfa21"/>
<rect x="165" y="85" width="5.6" height="5.6" fill="#ffe800"/>
<rect x="170" y="85" width="5.6" height="5.6" fill="#ff9d00"/>
<rect x="175" y="85" width="5.6" height="5.6" fill="#ff8e00"/>
<rect x="180" y="85" width="5.6" height="5.6" fill="#ff6d00"/>
<rect x="185" y="85" width="5.6" height="5.6" fill="#ff4000"/>
<rect x="190" y="85" width="5.6" height="5.6" fill="#ff6300"/>
<rect x="195" y="85" width="5.6" height="5.6" fill="#ff5e00"/>
<rect x="200" y="85" width="5.6" height="5.6" fill="#ff5a00"/>
<rect x="205" y="85" width="5.6" height="5.6" fill="#fe3500"/>
<rect x="210" y="85" width="5.6" height="5.6" fill="#fd2500"/>
<rect x="10" y="90" width="5.6" height="5.6" fill="#e70000"/>
<rect x="15" y="90" width="5.6" height="5.6" fill="#fc1b00"/>
<rect x="20" y="90" width="5.6" height="5.6" fill="#ff5b00"/>
<rect x="25" y="90" width="5.6" height="5.6" fill="#ff9800"/>
<rect x="30" y="90" width="5.6" height="5.6" fill="#bffa15"/>
<rect x="35" y="90" width="5.6" height="5.6" fill="#61f648"/>
<rect x="40" y="90" width="5.6" height="5.6" fill="#00f7bb"/>
<rect x="45" y="90" width="5.6" height="5.6" fill="#28f36e"/>
<rect x="50" y="90" width="5.6" height="5.6" fill="#00f4f1"/>
<rect x="55" y="90" width="5.6" height="5.6" fill="#06f296"/>
<rect x="60" y="90" width="5.6" height="5.6" fill="#00f9e3"/>
<rect x="65" y="90" width="5.6" height="5.6" fill="#00c9ff"/>
<rect x="70" y="90" width="5.6" height="5.6" fill="#0091ff"/>
<rect x="75" y="90" width="5.6" height="5.6" fill="#0081ff"/>
<rect x="80" y="90" width="5.6" height="5.6" fill="#0094ff"/>
<rect x="85" y="90" width="5.6" height="5.6" fill="#007fff"/>
<rect x="90" y="90" width="5.6" height="5.6" fill="#0020ff"/>
<rect x="95" y="90" width="5.6" height="5.6" fill="#001aff"/>
<rect x="100" y="90" width="5.6" height="5.6" fill="#0067ff"/>
<rect x="105" y="90" width="5.6" height="5.6" fill="#0094ff"/>
<rect x="110" y="90" width="5.6" height="5.6" fill="#00c6ff"/>
<rect x="115" y="90" width="5.6" height="5.6" fill="#00e9ff"/>
<rect x="120" y="90" width="5.6" height="5.6" fill="#02f4a4"/>
<rect x="125" y="90" width="5.6" height="5.6" fill="#00f8c9"/>
<rect x="130" y="90" width="5.6" height="5.6" fill="#00f7c4"/>
<rect x="135" y="90" width="5.6" height="5.6" fill="#00f7c1"/>
<rect x="140" y="90" width="5.6" height="5.6" fill="#06f296"/>
<rect x="145" y="90" width="5.6" height="5.6" fill="#06f294"/>
<rect x="150" y="90" width="5.6" height="5.6" fill="#67f744"/>
<rect x="155" y="90" width="5.6" height="5.6" fill="#81f838"/>
<rect x="160" y="90" width="5.6" height="5.6" fill="#c5fa11"/>
<rect x="165" y="90" width="5.6" height="5.6" fill="#fff500"/>
<rect x="170" y="90" width="5.6" height="5.6" fill="#ff9a00"/>
<rect x="175" y="90" width="5.6" height="5.6" fill="#ff9b00"/>
<rect x="180" y="90" width="5.6" height="5.6" fill="#ffa400"/>
<rect x="185" y="90" width="5.6" height="5.6" fill="#ff9c00"/>
<rect x="190" y="90" width="5.6" height="5.6" fill="#ff4100"/>
<rect x="195" y="90" width="5.6" height="5.6" fill="#fc1900"/>
<rect x="200" y="90" width="5.6" height="5.6" fill="#fe3200"/>
<rect x="205" y="90" width="5.6" height="5.6" fill="#ff4300"/>
<rect x="210" y="90" width="5.6" height="5.6" fill="#fc1a00"/>
<rect x="10" y="95" width="5.6" height="5.6" fill="#fc1800"/>
<rect x="15" y="95" width="5.6" height="5.6" fill="#ff4c00"/>
<rect x="20" y="95" width="5.6" height="5.6" fill="#ff6c00"/>
<rect x="25" y="95" width="5.6" height="5.6" fill="#ff8800"/>
<rect x="30" y="95" width="5.6" height="5.6" fill="#ffb300"/>
<rect x="35" y="95" width="5.6" height="5.6" fill="#ffbc00"/>
<rect x="40" y="95" width="5.6" height="5.6" fill="#defa02"/>
<rect x="45" y="95" width="5.6" height="5.6" fill="#ffd900"/>
<rect x="50" y="95" width="5.6" height="5.6" fill="#ffe300"/>
<rect x="55" y="95" width="5.6" height="5.6" fill="#e2fa00"/>
<rect x="60" y="95" width="5.6" height="5.6" fill="#88f934"/>
<rect x="65" y="95" width="5.6" height="5.6" fill="#d6fa07"/>
<rect x="70" y="95" width="5.6" height="5.6" fill="#15f17e"/>
<rect x="75" y="95" width="5.6" height="5.6" fill="#2ff368"/>
<rect x="80" y="95" width="5.6" height="5.6" fill="#00ebff"/>
<rect x="85" y="95" width="5.6" height="5.6" fill="#00b0ff"/>
<rect x="90" y="95" width="5.6" height="5.6" fill="#009aff"/>
<rect x="95" y="95" width="5.6" height="5.6" fill="#003eff"/>
<rect x="100" y="95" width="5.6" height="5.6" fill="#0093ff"/>
<rect x="105" y="95" width="5.6" height="5.6" fill="#007cff"/>
<rect x="110" y="95" width="5.6" height="5.6" fill="#0080ff"/>
<rect x="115" y="95" width="5.6" height="5.6" fill="#00bdff"/>
<rect x="120" y="95" width="5.6" height="5.6" fill="#00f9d2"/>
<rect x="125" y="95" width="5.6" height="5.6" fill="#17f17c"/>
<rect x="130" y="95" width="5.6" height="5.6" fill="#45f556"/>
<rect x="135" y="95" width="5.6" height="5.6" fill="#00e4ff"/>
<rect x="140" y="95" width="5.6" height="5.6" fill="#00fadc"/>
<rect x="145" y="95" width="5.6" height="5.6" fill="#00f7e8"/>
<rect x="150" y="95" width="5.6" height="5.6" fill="#77f83c"/>
<rect x="155" y="95" width="5.6" height="5.6" fill="#45f556"/>
<rect x="160" y="95" width="5.6" height="5.6" fill="#adfa20"/>
<rect x="165" y="95" width="5.6" height="5.6" fill="#e8f900"/>
<rect x="170" y="95" width="5.6" height="5.6" fill="#ffd400"/>
<rect x="175" y="95" width="5.6" height="5.6" fill="#ff8700"/>
<rect x="180" y="95" width="5.6" height="5.6" fill="#ff6b00"/>
<rect x="185" y="95" width="5.6" height="5.6" fill="#ff5100"/>
<rect x="190" y="95" width="5.6" height="5.6" fill="#f40700"/>
<rect x="195" y="95" width="5.6" height="5.6" fill="#e70000"/>
<rect x="200" y="95" width="5.6" height="5.6" fill="#fd2d00"/>
<rect x="205" y="95" width="5.6" height="5.6" fill="#fe3b00"/>
<rect x="210" y="95" width="5.6" height="5.6" fill="#e70000"/>
<rect x="10" y="100" width="5.6" height="5.6" fill="#fe3100"/>
<rect x="15" y="100" width="5.6" height="5.6" fill="#ff5a00"/>
<rect x="20" y="100" width="5.6" height="5.6" fill="#fe3100"/>
<rect x="25" y="100" width="5.6" height="5.6" fill="#ff5000"/>
<rect x="30" y="100" width="5.6" height="5.6" fill="#ff6100"/>
<rect x="35" y="100" width="5.6" height="5.6" fill="#ff7800"/>
<rect x="40" y="100" width="5.6" height="5.6" fill="#ff9e00"/>
<rect x="45" y="100" width="5.6" height="5.6" fill="#ffb900"/>
<rect x="50" y="100" width="5.6" height="5.6" fill="#ff9100"/>
<rect x="55" y="100" width="5.6" height="5.6" fill="#ff9300"/>
<rect x="60" y="100" width="5.6" height="5.6" fill="#ff6600"/>
<rect x="65" y="100" width="5.6" height="5.6" fill="#ffed00"/>
<rect x="70" y="100" width="5.6" height="5.6" fill="#ffb000"/>
<rect x="75" y="100" width="5.6" height="5.6" fill="#acfa21"/>
<rect x="80" y="100" width="5.6" height="5.6" fill="#7ef839"/>
<rect x="85" y="100" width="5.6" height="5.6" fill="#49f553"/>
<rect x="90" y="100" width="5.6" height="5.6" fill="#00effb"/>
<rect x="95" y="100" width="5.6" height="5.6" fill="#007fff"/>
<rect x="100" y="100" width="5.6" height="5.6" fill="#003aff"/>
<rect x="105" y="100" width="5.6" height="5.6" fill="#0076ff"/>
<rect x="110" y="100" width="5.6" height="5.6" fill="#008fff"/>
<rect x="115" y="100" width="5.6" height="5.6" fill="#00f8ca"/>
<rect x="120" y="100" width="5.6" height="5.6" fill="#00dfff"/>
<rect x="125" y="100" width="5.6" height="5.6" fill="#00f8ce"/>
<rect x="130" y="100" width="5.6" height="5.6" fill="#2ef369"/>
<rect x="135" y="100" width="5.6" height="5.6" fill="#00d1ff"/>
<rect x="140" y="100" width="5.6" height="5.6" fill="#00f9d9"/>
<rect x="145" y="100" width="5.6" height="5.6" fill="#32f366"/>
<rect x="150" y="100" width="5.6" height="5.6" fill="#42f558"/>
<rect x="155" y="100" width="5.6" height="5.6" fill="#1ff275"/>
<rect x="160" y="100" width="5.6" height="5.6" fill="#8bf932"/>
<rect x="165" y="100" width="5.6" height="5.6" fill="#d1fa0a"/>
<rect x="170" y="100" width="5.6" height="5.6" fill="#ffa900"/>
<rect x="175" y="100" width="5.6" height="5.6" fill="#ffd000"/>
<rect x="180" y="100" width="5.6" height="5.6" fill="#ff7e00"/>
<rect x="185" y="100" width="5.6" height="5.6" fill="#ff4600"/>
<rect x="190" y="100" width="5.6" height="5.6" fill="#ff4a00"/>
<rect x="195" y="100" width="5.6" height="5.6" fill="#fe3600"/>
<rect x="200" y="100" width="5.6" height="5.6" fill="#e60000"/>
<rect x="205" y="100" width="5.6" height="5.6" fill="#f91000"/>
<rect x="210" y="100" width="5.6" height="5.6" fill="#fe3200"/>
<rect x="10" y="105" width="5.6" height="5.6" fill="#fd2600"/>
<rect x="15" y="105" width="5.6" height="5.6" fill="#fe3a00"/>
<rect x="20" y="105" width="5.6" height="5.6" fill="#fe3300"/>
<rect x="25" y="105" width="5.6" height="5.6" fill="#ff5b00"/>
<rect x="30" y="105" width="5.6" height="5.6" fill="#f20400"/>
<rect x="35" y="105" width="5.6" height="5.6" fill="#e70000"/>
<rect x="40" y="105" width="5.6" height="5.6" fill="#fc1700"/>
<rect x="45" y="105" width="5.6" height="5.6" fill="#ec0000"/>
<rect x="50" y="105" width="5.6" height="5.6" fill="#ff6500"/>
<rect x="55" y="105" width="5.6" height="5.6" fill="#ff5300"/>
<rect x="60" y="105" width="5.6" height="5.6" fill="#ff4300"/>
<rect x="65" y="105" width="5.6" height="5.6" fill="#fc1b00"/>
<rect x="70" y="105" width="5.6" height="5.6" fill="#fe3300"/>
<rect x="75" y="105" width="5.6" height="5.6" fill="#ff9600"/>
<rect x="80" y="105" width="5.6" height="5.6" fill="#ffcf00"/>
<rect x="85" y="105" width="5.6" height="5.6" fill="#dcfa03"/>
<rect x="90" y="105" width="5.6" height="5.6" fill="#0ef084"/>
<rect x="95" y="105" width="5.6" height="5.6" fill="#00f9d5"/>
<rect x="100" y="105" width="5.6" height="5.6" fill="#0070ff"/>
<rect x="105" y="105" width="5.6" height="5.6" fill="#0092ff"/>
<rect x="110" y="105" width="5.6" height="5.6" fill="#00c6ff"/>
<rect x="115" y="105" width="5.6" height="5.6" fill="#00f2f5"/>
<rect x="120" y="105" width="5.6" height="5.6" fill="#00f5ab"/>
<rect x="125" y="105" width="5.6" height="5.6" fill="#00f5ae"/>
<rect x="130" y="105" width="5.6" height="5.6" fill="#00f0fa"/>
<rect x="135" y="105" width="5.6" height="5.6" fill="#00f0f9"/>
<rect x="140" y="105" width="5.6" height="5.6" fill="#00f7e8"/>
<rect x="145" y="105" width="5.6" height="5.6" fill="#22f273"/>
<rect x="150" y="105" width="5.6" height="5.6" fill="#00f8cf"/>
<rect x="155" y="105" width="5.6" height="5.6" fill="#0af087"/>
<rect x="160" y="105" width="5.6" height="5.6" fill="#bafa18"/>
<rect x="165" y="105" width="5.6" height="5.6" fill="#b8fa19"/>
<rect x="170" y="105" width="5.6" height="5.6" fill="#d8fa06"/>
<rect x="175" y="105" width="5.6" height="5.6" fill="#fff200"/>
<rect x="180" y="105" width="5.6" height="5.6" fill="#ff9d00"/>
<rect x="185" y="105" width="5.6" height="5.6" fill="#ff8d00"/>
<rect x="190" y="105" width="5.6" height="5.6" fill="#fd1f00"/>
<rect x="195" y="105" width="5.6" height="5.6" fill="#f91000"/>
<rect x="200" y="105" width="5.6" height="5.6" fill="#f00000"/>
<rect x="205" y="105" width="5.6" height="5.6" fill="#ff3e00"/>
<rect x="210" y="105" width="5.6" height="5.6" fill="#ff5000"/>
<rect x="10" y="110" width="5.6" height="5.6" fill="#ff4100"/>
<rect x="15" y="110" width="5.6" height="5.6" fill="#fd2300"/>
<rect x="20" y="110" width="5.6" height="5.6" fill="#f80d00"/>
<rect x="25" y="110" width="5.6" height="5.6" fill="#fc1400"/>
<rect x="30" y="110" width="5.6" height="5.6" fill="#fd2400"/>
<rect x="35" y="110" width="5.6" height="5.6" fill="#f70b00"/>
<rect x="40" y="110" width="5.6" height="5.6" fill="#e70000"/>
<rect x="45" y="110" width="5.6" height="5.6" fill="#e30000"/>
<rect x="50" y="110" width="5.6" height="5.6" fill="#df0000"/>
<rect x="55" y="110" width="5.6" height="5.6" fill="#d90000"/>
<rect x="60" y="110" width="5.6" height="5.6" fill="#ee0000"/>
<rect x="65" y="110" width="5.6" height="5.6" fill="#ff4300"/>
<rect x="70" y="110" width="5.6" height="5.6" fill="#f00000"/>
<rect x="75" y="110" width="5.6" height="5.6" fill="#ff5300"/>
<rect x="80" y="110" width="5.6" height="5.6" fill="#ff5300"/>
<rect x="85" y="110" width="5.6" height="5.6" fill="#ffcf00"/>
<rect x="90" y="110" width="5.6" height="5.6" fill="#94f92e"/>
<rect x="95" y="110" width="5.6" height="5.6" fill="#00dcff"/>
<rect x="100" y="110" width="5.6" height="5.6" fill="#0091ff"/>
<rect x="105" y="110" width="5.6" height="5.6" fill="#007fff"/>
<rect x="110" y="110" width="5.6" height="5.6" fill="#006aff"/>
<rect x="115" y="110" width="5.6" height="5.6" fill="#00f2f5"/>
<rect x="120" y="110" width="5.6" height="5.6" fill="#00f0fb"/>
<rect x="125" y="110" width="5.6" height="5.6" fill="#00e3ff"/>
<rect x="130" y="110" width="5.6" height="5.6" fill="#00effd"/>
<rect x="135" y="110" width="5.6" height="5.6" fill="#2bf36c"/>
<rect x="140" y="110" width="5.6" height="5.6" fill="#00f7bb"/>
<rect x="145" y="110" width="5.6" height="5.6" fill="#00fae0"/>
<rect x="150" y="110" width="5.6" height="5.6" fill="#53f64f"/>
<rect x="155" y="110" width="5.6" height="5.6" fill="#74f83e"/>
<rect x="160" y="110" width="5.6" height="5.6" fill="#d9fa05"/>
<rect x="165" y="110" width="5.6" height="5.6" fill="#93f92e"/>
<rect x="170" y="110" width="5.6" height="5.6" fill="#faf600"/>
<rect x="175" y="110" width="5.6" height="5.6" fill="#ffaf00"/>
<rect x="180" y="110" width="5.6" height="5.6" fill="#ff8700"/>
<rect x="185" y="110" width="5.6" height="5.6" fill="#ff5900"/>
<rect x="190" y="110" width="5.6" height="5.6" fill="#ff8800"/>
<rect x="195" y="110" width="5.6" height="5.6" fill="#ff5500"/>
<rect x="200" y="110" width="5.6" height="5.6" fill="#ff5c00"/>
<rect x="205" y="110" width="5.6" height="5.6" fill="#ff4f00"/>
<rect x="210" y="110" width="5.6" height="5.6" fill="#f30500"/>
<rect x="10" y="115" width="5.6" height="5.6" fill="#fc1b00"/>
<rect x="15" y="115" width="5.6" height="5.6" fill="#f30500"/>
<rect x="20" y="115" width="5.6" height="5.6" fill="#fc1900"/>
<rect x="25" y="115" width="5.6" height="5.6" fill="#d80000"/>
<rect x="30" y="115" width="5.6" height="5.6" fill="#f70b00"/>
<rect x="35" y="115" width="5.6" height="5.6" fill="#fc1b00"/>
<rect x="40" y="115" width="5.6" height="5.6" fill="#d50000"/>
<rect x="45" y="115" width="5.6" height="5.6" fill="#c40000"/>
<rect x="50" y="115" width="5.6" height="5.6" fill="#fd2a00"/>
<rect x="55" y="115" width="5.6" height="5.6" fill="#e90000"/>
<rect x="60" y="115" width="5.6" height="5.6" fill="#ea0000"/>
<rect x="65" y="115" width="5.6" height="5.6" fill="#fd2d00"/>
<rect x="70" y="115" width="5.6" height="5.6" fill="#fd2600"/>
<rect x="75" y="115" width="5.6" height="5.6" fill="#ff5400"/>
<rect x="80" y="115" width="5.6" height="5.6" fill="#ff6800"/>
<rect x="85" y="115" width="5.6" height="5.6" fill="#ffd300"/>
<rect x="90" y="115" width="5.6" height="5.6" fill="#52f64f"/>
<rect x="95" y="115" width="5.6" height="5.6" fill="#00f4ef"/>
<rect x="100" y="115" width="5.6" height="5.6" fill="#0095ff"/>
<rect x="105" y="115" width="5.6" height="5.6" fill="#0083ff"/>
<rect x="110" y="115" width="5.6" height="5.6" fill="#008bff"/>
<rect x="115" y="115" width="5.6" height="5.6" fill="#00d4ff"/>
<rect x="120" y="115" width="5.6" height="5.6" fill="#00a6ff"/>
<rect x="125" y="115" width="5.6" height="5.6" fill="#00cfff"/>
<rect x="130" y="115" width="5.6" height="5.6" fill="#00caff"/>
<rect x="135" y="115" width="5.6" height="5.6" fill="#06f297"/>
<rect x="140" y="115" width="5.6" height="5.6" fill="#02f4a3"/>
<rect x="145" y="115" width="5.6" height="5.6" fill="#00f9d5"/>
<rect x="150" y="115" width="5.6" height="5.6" fill="#28f26e"/>
<rect x="155" y="115" width="5.6" height="5.6" fill="#b1fa1d"/>
<rect x="160" y="115" width="5.6" height="5.6" fill="#d8fa06"/>
<rect x="165" y="115" width="5.6" height="5.6" fill="#faf600"/>
<rect x="170" y="115" width="5.6" height="5.6" fill="#a6fa24"/>
<rect x="175" y="115" width="5.6" height="5.6" fill="#ffed00"/>
<rect x="180" y="115" width="5.6" height="5.6" fill="#ffa000"/>
<rect x="185" y="115" width="5.6" height="5.6" fill="#ff8700"/>
<rect x="190" y="115" width="5.6" height="5.6" fill="#ff6700"/>
<rect x="195" y="115" width="5.6" height="5.6" fill="#ff4e00"/>
<rect x="200" y="115" width="5.6" height="5.6" fill="#fd1f00"/>
<rect x="205" y="115" width="5.6" height="5.6" fill="#ff4200"/>
<rect x="210" y="115" width="5.6" height="5.6" fill="#fe3200"/>
<rect x="10" y="120" width="5.6" height="5.6" fill="#ff6100"/>
<rect x="15" y="120" width="5.6" height="5.6" fill="#ff5a00"/>
<rect x="20" y="120" width="5.6" height="5.6" fill="#fe3800"/>
<rect x="25" y="120" width="5.6" height="5.6" fill="#f90f00"/>
<rect x="30" y="120" width="5.6" height="5.6" fill="#ff5600"/>
<rect x="35" y="120" width="5.6" height="5.6" fill="#ff5900"/>
<rect x="40" y="120" width="5.6" height="5.6" fill="#f10200"/>
<rect x="45" y="120" width="5.6" height="5.6" fill="#fd2c00"/>
<rect x="50" y="120" width="5.6" height="5.6" fill="#ff4200"/>
<rect x="55" y="120" width="5.6" height="5.6" fill="#d50000"/>
<rect x="60" y="120" width="5.6" height="5.6" fill="#fc1b00"/>
<rect x="65" y="120" width="5.6" height="5.6" fill="#f00100"/>
<rect x="70" y="120" width="5.6" height="5.6" fill="#ff4500"/>
<rect x="75" y="120" width="5.6" height="5.6" fill="#fc1800"/>
<rect x="80" y="120" width="5.6" height="5.6" fill="#ff4b00"/>
<rect x="85" y="120" width="5.6" height="5.6" fill="#ffd900"/>
<rect x="90" y="120" width="5.6" height="5.6" fill="#00f6b0"/>
<rect x="95" y="120" width="5.6" height="5.6" fill="#00e7ff"/>
<rect x="100" y="120" width="5.6" height="5.6" fill="#00ceff"/>
<rect x="105" y="120" width="5.6" height="5.6" fill="#00c1ff"/>
<rect x="110" y="120" width="5.6" height="5.6" fill="#0065ff"/>
<rect x="115" y="120" width="5.6" height="5.6" fill="#00c3ff"/>
<rect x="120" y="120" width="5.6" height="5.6" fill="#00b0ff"/>
<rect x="125" y="120" width="5.6" height="5.6" fill="#00d5ff"/>
<rect x="130" y="120" width="5.6" height="5.6" fill="#00abff"/>
<rect x="135" y="120" width="5.6" height="5.6" fill="#00d5ff"/>
<rect x="140" y="120" width="5.6" height="5.6" fill="#00f8c8"/>
<rect x="145" y="120" width="5.6" height="5.6" fill="#82f837"/>
<rect x="150" y="120" width="5.6" height="5.6" fill="#2df36a"/>
<rect x="155" y="120" width="5.6" height="5.6" fill="#d2fa09"/>
<rect x="160" y="120" width="5.6" height="5.6" fill="#ffe200"/>
<rect x="165" y="120" width="5.6" height="5.6" fill="#ffbf00"/>
<rect x="170" y="120" width="5.6" height="5.6" fill="#b7fa1a"/>
<rect x="175" y="120" width="5.6" height="5.6" fill="#fef500"/>
<rect x="180" y="120" width="5.6" height="5.6" fill="#ff9400"/>
<rect x="185" y="120" width="5.6" height="5.6" fill="#ff6500"/>
<rect x="190" y="120" width="5.6" height="5.6" fill="#ff5b00"/>
<rect x="195" y="120" width="5.6" height="5.6" fill="#ff5e00"/>
<rect x="200" y="120" width="5.6" height="5.6" fill="#fd2400"/>
<rect x="205" y="120" width="5.6" height="5.6" fill="#ff4200"/>
<rect x="210" y="120" width="5.6" height="5.6" fill="#fd2300"/>
<rect x="10" y="125" width="5.6" height="5.6" fill="#ffcb00"/>
<rect x="15" y="125" width="5.6" height="5.6" fill="#ffbe00"/>
<rect x="20" y="125" width="5.6" height="5.6" fill="#ffe400"/>
<rect x="25" y="125" width="5.6" height="5.6" fill="#ffaa00"/>
<rect x="30" y="125" width="5.6" height="5.6" fill="#ffed00"/>
<rect x="35" y="125" width="5.6" height="5.6" fill="#ffb000"/>
<rect x="40" y="125" width="5.6" height="5.6" fill="#fe2f00"/>
<rect x="45" y="125" width="5.6" height="5.6" fill="#f60900"/>
<rect x="50" y="125" width="5.6" height="5.6" fill="#ff4d00"/>
<rect x="55" y="125" width="5.6" height="5.6" fill="#ff4d00"/>
<rect x="60" y="125" width="5.6" height="5.6" fill="#ff4700"/>
<rect x="65" y="125" width="5.6" height="5.6" fill="#ff5b00"/>
<rect x="70" y="125" width="5.6" height="5.6" fill="#ff9e00"/>
<rect x="75" y="125" width="5.6" height="5.6" fill="#ffbf00"/>
<rect x="80" y="125" width="5.6" height="5.6" fill="#ff7d00"/>
<rect x="85" y="125" width="5.6" height="5.6" fill="#ff9400"/>
<rect x="90" y="125" width="5.6" height="5.6" fill="#81f838"/>
<rect x="95" y="125" width="5.6" height="5.6" fill="#00afff"/>
<rect x="100" y="125" width="5.6" height="5.6" fill="#00c5ff"/>
<rect x="105" y="125" width="5.6" height="5.6" fill="#00b6ff"/>
<rect x="110" y="125" width="5.6" height="5.6" fill="#0056ff"/>
<rect x="115" y="125" width="5.6" height="5.6" fill="#00d6ff"/>
<rect x="120" y="125" width="5.6" height="5.6" fill="#0073ff"/>
<rect x="125" y="125" width="5.6" height="5.6" fill="#00cbff"/>
<rect x="130" y="125" width="5.6" height="5.6" fill="#00ceff"/>
<rect x="135" y="125" width="5.6" height="5.6" fill="#00e6ff"/>
<rect x="140" y="125" width="5.6" height="5.6" fill="#00cbff"/>
<rect x="145" y="125" width="5.6" height="5.6" fill="#00f9e3"/>
<rect x="150" y="125" width="5.6" height="5.6" fill="#40f55a"/>
<rect x="155" y="125" width="5.6" height="5.6" fill="#77f83d"/>
<rect x="160" y="125" width="5.6" height="5.6" fill="#e7f900"/>
<rect x="165" y="125" width="5.6" height="5.6" fill="#dbfa04"/>
<rect x="170" y="125" width="5.6" height="5.6" fill="#e3fa00"/>
<rect x="175" y="125" width="5.6" height="5.6" fill="#f1f700"/>
<rect x="180" y="125" width="5.6" height="5.6" fill="#ffa900"/>
<rect x="185" y="125" width="5.6" height="5.6" fill="#ff8300"/>
<rect x="190" y="125" width="5.6" height="5.6" fill="#ff6a00"/>
<rect x="195" y="125" width="5.6" height="5.6" fill="#fe3400"/>
<rect x="200" y="125" width="5.6" height="5.6" fill="#fe2f00"/>
<rect x="205" y="125" width="5.6" height="5.6" fill="#ff4100"/>
<rect x="210" y="125" width="5.6" height="5.6" fill="#ff5100"/>
<rect x="10" y="130" width="5.6" height="5.6" fill="#70f740"/>
<rect x="15" y="130" width="5.6" height="5.6" fill="#49f554"/>
<rect x="20" y="130" width="5.6" height="5.6" fill="#4bf553"/>
<rect x="25" y="130" width="5.6" height="5.6" fill="#64f746"/>
<rect x="30" y="130" width="5.6" height="5.6" fill="#22f273"/>
<rect x="35" y="130" width="5.6" height="5.6" fill="#abfa21"/>
<rect x="40" y="130" width="5.6" height="5.6" fill="#ffe000"/>
<rect x="45" y="130" width="5.6" height="5.6" fill="#ffe800"/>
<rect x="50" y="130" width="5.6" height="5.6" fill="#ff9200"/>
<rect x="55" y="130" width="5.6" height="5.6" fill="#ffcd00"/>
<rect x="60" y="130" width="5.6" height="5.6" fill="#ff7900"/>
<rect x="65" y="130" width="5.6" height="5.6" fill="#ff7a00"/>
<rect x="70" y="130" width="5.6" height="5.6" fill="#ffa900"/>
<rect x="75" y="130" width="5.6" height="5.6" fill="#ffcf00"/>
<rect x="80" y="130" width="5.6" height="5.6" fill="#ff6400"/>
<rect x="85" y="130" width="5.6" height="5.6" fill="#ffc400"/>
<rect x="90" y="130" width="5.6" height="5.6" fill="#80f838"/>
<rect x="95" y="130" width="5.6" height="5.6" fill="#00b5ff"/>
<rect x="100" y="130" width="5.6" height="5.6" fill="#00e2ff"/>
<rect x="105" y="130" width="5.6" height="5.6" fill="#00c3ff"/>
<rect x="110" y="130" width="5.6" height="5.6" fill="#00a9ff"/>
<rect x="115" y="130" width="5.6" height="5.6" fill="#00adff"/>
<rect x="120" y="130" width="5.6" height="5.6" fill="#008fff"/>
<rect x="125" y="130" width="5.6" height="5.6" fill="#00c7ff"/>
<rect x="130" y="130" width="5.6" height="5.6" fill="#00b4ff"/>
<rect x="135" y="130" width="5.6" height="5.6" fill="#00d7ff"/>
<rect x="140" y="130" width="5.6" height="5.6" fill="#00dfff"/>
<rect x="145" y="130" width="5.6" height="5.6" fill="#00d3ff"/>
<rect x="150" y="130" width="5.6" height="5.6" fill="#00f5a9"/>
<rect x="155" y="130" width="5.6" height="5.6" fill="#3ff45b"/>
<rect x="160" y="130" width="5.6" height="5.6" fill="#50f650"/>
<rect x="165" y="130" width="5.6" height="5.6" fill="#aefa1f"/>
<rect x="170" y="130" width="5.6" height="5.6" fill="#e1fa00"/>
<rect x="175" y="130" width="5.6" height="5.6" fill="#e5f900"/>
<rect x="180" y="130" width="5.6" height="5.6" fill="#ff9e00"/>
<rect x="185" y="130" width="5.6" height="5.6" fill="#ff9000"/>
<rect x="190" y="130" width="5.6" height="5.6" fill="#ff4700"/>
<rect x="195" y="130" width="5.6" height="5.6" fill="#ff5a00"/>
<rect x="200" y="130" width="5.6" height="5.6" fill="#ff4200"/>
<rect x="205" y="130" width="5.6" height="5.6" fill="#fd2700"/>
<rect x="210" y="130" width="5.6" height="5.6" fill="#ff5200"/>
<rect x="10" y="135" width="5.6" height="5.6" fill="#00e2ff"/>
<rect x="15" y="135" width="5.6" height="5.6" fill="#00eeff"/>
<rect x="20" y="135" width="5.6" height="5.6" fill="#00e5ff"/>
<rect x="25" y="135" width="5.6" height="5.6" fill="#00bdff"/>
<rect x="30" y="135" width="5.6" height="5.6" fill="#00ceff"/>
<rect x="35" y="135" width="5.6" height="5.6" fill="#00deff"/>
<rect x="40" y="135" width="5.6" height="5.6" fill="#3bf45e"/>
<rect x="45" y="135" width="5.6" height="5.6" fill="#3ef45c"/>
<rect x="50" y="135" width="5.6" height="5.6" fill="#91f92f"/>
<rect x="55" y="135" width="5.6" height="5.6" fill="#38f460"/>
<rect x="60" y="135" width="5.6" height="5.6" fill="#f4f700"/>
<rect x="65" y="135" width="5.6" height="5.6" fill="#e6f900"/>
<rect x="70" y="135" width="5.6" height="5.6" fill="#ff8300"/>
<rect x="75" y="135" width="5.6" height="5.6" fill="#ff4a00"/>
<rect x="80" y="135" width="5.6" height="5.6" fill="#ff6800"/>
<rect x="85" y="135" width="5.6" height="5.6" fill="#ff9300"/>
<rect x="90" y="135" width="5.6" height="5.6" fill="#1af179"/>
<rect x="95" y="135" width="5.6" height="5.6" fill="#00dbff"/>
<rect x="100" y="135" width="5.6" height="5.6" fill="#00e2ff"/>
<rect x="105" y="135" width="5.6" height="5.6" fill="#008dff"/>
<rect x="110" y="135" width="5.6" height="5.6" fill="#00b9ff"/>
<rect x="115" y="135" width="5.6" height="5.6" fill="#009fff"/>
<rect x="120" y="135" width="5.6" height="5.6" fill="#0093ff"/>
<rect x="125" y="135" width="5.6" height="5.6" fill="#00b2ff"/>
<rect x="130" y="135" width="5.6" height="5.6" fill="#009cff"/>
<rect x="135" y="135" width="5.6" height="5.6" fill="#00cdff"/>
<rect x="140" y="135" width="5.6" height="5.6" fill="#00b9ff"/>
<rect x="145" y="135" width="5.6" height="5.6" fill="#00b7ff"/>
<rect x="150" y="135" width="5.6" height="5.6" fill="#00dcff"/>
<rect x="155" y="135" width="5.6" height="5.6" fill="#00effb"/>
<rect x="160" y="135" width="5.6" height="5.6" fill="#01f5a7"/>
<rect x="165" y="135" width="5.6" height="5.6" fill="#67f745"/>
<rect x="170" y="135" width="5.6" height="5.6" fill="#55f64d"/>
<rect x="175" y="135" width="5.6" height="5.6" fill="#f0f700"/>
<rect x="180" y="135" width="5.6" height="5.6" fill="#ffd000"/>
<rect x="185" y="135" width="5.6" height="5.6" fill="#ff7a00"/>
<rect x="190" y="135" width="5.6" height="5.6" fill="#fe3d00"/>
<rect x="195" y="135" width="5.6" height="5.6" fill="#ff4000"/>
<rect x="200" y="135" width="5.6" height="5.6" fill="#fe3900"/>
<rect x="205" y="135" width="5.6" height="5.6" fill="#ff4d00"/>
<rect x="210" y="135" width="5.6" height="5.6" fill="#ff6000"/>
<rect x="10" y="140" width="5.6" height="5.6" fill="#0090ff"/>
<rect x="15" y="140" width="5.6" height="5.6" fill="#0097ff"/>
<rect x="20" y="140" width="5.6" height="5.6" fill="#00b4ff"/>
<rect x="25" y="140" width="5.6" height="5.6" fill="#00a6ff"/>
<rect x="30" y="140" width="5.6" height="5.6" fill="#00b1ff"/>
<rect x="35" y="140" width="5.6" height="5.6" fill="#00e5ff"/>
<rect x="40" y="140" width="5.6" height="5.6" fill="#00a5ff"/>
<rect x="45" y="140" width="5.6" height="5.6" fill="#00c2ff"/>
<rect x="50" y="140" width="5.6" height="5.6" fill="#00f4f0"/>
<rect x="55" y="140" width="5.6" height="5.6" fill="#00d5ff"/>
<rect x="60" y="140" width="5.6" height="5.6" fill="#00fae1"/>
<rect x="65" y="140" width="5.6" height="5.6" fill="#a7fa24"/>
<rect x="70" y="140" width="5.6" height="5.6" fill="#ffaf00"/>
<rect x="75" y="140" width="5.6" height="5.6" fill="#ff4d00"/>
<rect x="80" y="140" width="5.6" height="5.6" fill="#ff7e00"/>
<rect x="85" y="140" width="5.6" height="5.6" fill="#ffcc00"/>
<rect x="90" y="140" width="5.6" height="5.6" fill="#0ff083"/>
<rect x="95" y="140" width="5.6" height="5.6" fill="#00acff"/>
<rect x="100" y="140" width="5.6" height="5.6" fill="#00c5ff"/>
<rect x="105" y="140" width="5.6" height="5.6" fill="#00a3ff"/>
<rect x="110" y="140" width="5.6" height="5.6" fill="#0085ff"/>
<rect x="115" y="140" width="5.6" height="5.6" fill="#00b0ff"/>
<rect x="120" y="140" width="5.6" height="5.6" fill="#0087ff"/>
<rect x="125" y="140" width="5.6" height="5.6" fill="#0085ff"/>
<rect x="130" y="140" width="5.6" height="5.6" fill="#0089ff"/>
<rect x="135" y="140" width="5.6" height="5.6" fill="#00abff"/>
<rect x="140" y="140" width="5.6" height="5.6" fill="#00b6ff"/>
<rect x="145" y="140" width="5.6" height="5.6" fill="#00aeff"/>
<rect x="150" y="140" width="5.6" height="5.6" fill="#0098ff"/>
<rect x="155" y="140" width="5.6" height="5.6" fill="#00abff"/>
<rect x="160" y="140" width="5.6" height="5.6" fill="#00d3ff"/>
<rect x="165" y="140" width="5.6" height="5.6" fill="#00f6b5"/>
<rect x="170" y="140" width="5.6" height="5.6" fill="#06f293"/>
<rect x="175" y="140" width="5.6" height="5.6" fill="#4af553"/>
<rect x="180" y="140" width="5.6" height="5.6" fill="#f9f600"/>
<rect x="185" y="140" width="5.6" height="5.6" fill="#ffb200"/>
<rect x="190" y="140" width="5.6" height="5.6" fill="#ff4e00"/>
<rect x="195" y="140" width="5.6" height="5.6" fill="#fe3700"/>
<rect x="200" y="140" width="5.6" height="5.6" fill="#ff5300"/>
<rect x="205" y="140" width="5.6" height="5.6" fill="#fd2b00"/>
<rect x="210" y="140" width="5.6" height="5.6" fill="#ff5f00"/>
<rect x="10" y="145" width="5.6" height="5.6" fill="#00b1ff"/>
<rect x="15" y="145" width="5.6" height="5.6" fill="#00aaff"/>
<rect x="20" y="145" width="5.6" height="5.6" fill="#00a2ff"/>
<rect x="25" y="145" width="5.6" height="5.6" fill="#0081ff"/>
<rect x="30" y="145" width="5.6" height="5.6" fill="#00d9ff"/>
<rect x="35" y="145" width="5.6" height="5.6" fill="#008aff"/>
<rect x="40" y="145" width="5.6" height="5.6" fill="#00d7ff"/>
<rect x="45" y="145" width="5.6" height="5.6" fill="#00f8e5"/>
<rect x="50" y="145" width="5.6" height="5.6" fill="#009eff"/>
<rect x="55" y="145" width="5.6" height="5.6" fill="#00a8ff"/>
<rect x="60" y="145" width="5.6" height="5.6" fill="#00e6ff"/>
<rect x="65" y="145" width="5.6" height="5.6" fill="#2df36a"/>
<rect x="70" y="145" width="5.6" height="5.6" fill="#ff8300"/>
<rect x="75" y="145" width="5.6" height="5.6" fill="#fc1500"/>
<rect x="80" y="145" width="5.6" height="5.6" fill="#ff9e00"/>
<rect x="85" y="145" width="5.6" height="5.6" fill="#e7f900"/>
<rect x="90" y="145" width="5.6" height="5.6" fill="#00f7bf"/>
<rect x="95" y="145" width="5.6" height="5.6" fill="#0099ff"/>
<rect x="100" y="145" width="5.6" height="5.6" fill="#00e1ff"/>
<rect x="105" y="145" width="5.6" height="5.6" fill="#00b6ff"/>
<rect x="110" y="145" width="5.6" height="5.6" fill="#00a8ff"/>
<rect x="115" y="145" width="5.6" height="5.6" fill="#0078ff"/>
<rect x="120" y="145" width="5.6" height="5.6" fill="#00abff"/>
<rect x="125" y="145" width="5.6" height="5.6" fill="#00a6ff"/>
<rect x="130" y="145" width="5.6" height="5.6" fill="#0098ff"/>
<rect x="135" y="145" width="5.6" height="5.6" fill="#00a4ff"/>
<rect x="140" y="145" width="5.6" height="5.6" fill="#0087ff"/>
<rect x="145" y="145" width="5.6" height="5.6" fill="#0074ff"/>
<rect x="150" y="145" width="5.6" height="5.6" fill="#006dff"/>
<rect x="155" y="145" width="5.6" height="5.6" fill="#007eff"/>
<rect x="160" y="145" width="5.6" height="5.6" fill="#0085ff"/>
<rect x="165" y="145" width="5.6" height="5.6" fill="#00a5ff"/>
<rect x="170" y="145" width="5.6" height="5.6" fill="#00c8ff"/>
<rect x="175" y="145" width="5.6" height="5.6" fill="#00f4f0"/>
<rect x="180" y="145" width="5.6" height="5.6" fill="#55f64d"/>
<rect x="185" y="145" width="5.6" height="5.6" fill="#faf600"/>
<rect x="190" y="145" width="5.6" height="5.6" fill="#ff9400"/>
<rect x="195" y="145" width="5.6" height="5.6" fill="#ff4200"/>
<rect x="200" y="145" width="5.6" height="5.6" fill="#ff4800"/>
<rect x="205" y="145" width="5.6" height="5.6" fill="#fe3300"/>
<rect x="210" y="145" width="5.6" height="5.6" fill="#ff4300"/>
<rect x="10" y="150" width="5.6" height="5.6" fill="#00c6ff"/>
<rect x="15" y="150" width="5.6" height="5.6" fill="#00daff"/>
<rect x="20" y="150" width="5.6" height="5.6" fill="#00edff"/>
<rect x="25" y="150" width="5.6" height="5.6" fill="#00b9ff"/>
<rect x="30" y="150" width="5.6" height="5.6" fill="#00fae2"/>
<rect x="35" y="150" width="5.6" height="5.6" fill="#00adff"/>
<rect x="40" y="150" width="5.6" height="5.6" fill="#00d2ff"/>
<rect x="45" y="150" width="5.6" height="5.6" fill="#00c7ff"/>
<rect x="50" y="150" width="5.6" height="5.6" fill="#00e2ff"/>
<rect x="55" y="150" width="5.6" height="5.6" fill="#00e9ff"/>
<rect x="60" y="150" width="5.6" height="5.6" fill="#00d3ff"/>
<rect x="65" y="150" width="5.6" height="5.6" fill="#00f6b1"/>
<rect x="70" y="150" width="5.6" height="5.6" fill="#ff6d00"/>
<rect x="75" y="150" width="5.6" height="5.6" fill="#ff5400"/>
<rect x="80" y="150" width="5.6" height="5.6" fill="#ffb700"/>
<rect x="85" y="150" width="5.6" height="5.6" fill="#ffe600"/>
<rect x="90" y="150" width="5.6" height="5.6" fill="#04f39b"/>
<rect x="95" y="150" width="5.6" height="5.6" fill="#00deff"/>
<rect x="100" y="150" width="5.6" height="5.6" fill="#00c5ff"/>
<rect x="105" y="150" width="5.6" height="5.6" fill="#00beff"/>
<rect x="110" y="150" width="5.6" height="5.6" fill="#0098ff"/>
<rect x="115" y="150" width="5.6" height="5.6" fill="#00aaff"/>
<rect x="120" y="150" width="5.6" height="5.6" fill="#00a2ff"/>
<rect x="125" y="150" width="5.6" height="5.6" fill="#00abff"/>
<rect x="130" y="150" width="5.6" height="5.6" fill="#0092ff"/>
<rect x="135" y="150" width="5.6" height="5.6" fill="#009cff"/>
<rect x="140" y="150" width="5.6" height="5.6" fill="#0084ff"/>
<rect x="145" y="150" width="5.6" height="5.6" fill="#006dff"/>
<rect x="150" y="150" width="5.6" height="5.6" fill="#0067ff"/>
<rect x="155" y="150" width="5.6" height="5.6" fill="#007fff"/>
<rect x="160" y="150" width="5.6" height="5.6" fill="#0060ff"/>
<rect x="165" y="150" width="5.6" height="5.6" fill="#0091ff"/>
<rect x="170" y="150" width="5.6" height="5.6" fill="#0064ff"/>
<rect x="175" y="150" width="5.6" height="5.6" fill="#008fff"/>
<rect x="180" y="150" width="5.6" height="5.6" fill="#00f1f8"/>
<rect x="185" y="150" width="5.6" height="5.6" fill="#b7fa1a"/>
<rect x="190" y="150" width="5.6" height="5.6" fill="#ffa500"/>
<rect x="195" y="150" width="5.6" height="5.6" fill="#ff5b00"/>
<rect x="200" y="150" width="5.6" height="5.6" fill="#ff6100"/>
<rect x="205" y="150" width="5.6" height="5.6" fill="#ff6000"/>
<rect x="210" y="150" width="5.6" height="5.6" fill="#fe3900"/>
<rect x="10" y="155" width="5.6" height="5.6" fill="#00f6b8"/>
<rect x="15" y="155" width="5.6" height="5.6" fill="#00f6b1"/>
<rect x="20" y="155" width="5.6" height="5.6" fill="#00f5ab"/>
<rect x="25" y="155" width="5.6" height="5.6" fill="#00e5ff"/>
<rect x="30" y="155" width="5.6" height="5.6" fill="#00f5ac"/>
<rect x="35" y="155" width="5.6" height="5.6" fill="#00f9da"/>
<rect x="40" y="155" width="5.6" height="5.6" fill="#0cf085"/>
<rect x="45" y="155" width="5.6" height="5.6" fill="#05f399"/>
<rect x="50" y="155" width="5.6" height="5.6" fill="#00f7c4"/>
<rect x="55" y="155" width="5.6" height="5.6" fill="#00a5ff"/>
<rect x="60" y="155" width="5.6" height="5.6" fill="#00f3f3"/>
<rect x="65" y="155" width="5.6" height="5.6" fill="#62f747"/>
<rect x="70" y="155" width="5.6" height="5.6" fill="#ff5f00"/>
<rect x="75" y="155" width="5.6" height="5.6" fill="#ff7b00"/>
<rect x="80" y="155" width="5.6" height="5.6" fill="#ffe200"/>
<rect x="85" y="155" width="5.6" height="5.6" fill="#51f650"/>
<rect x="90" y="155" width="5.6" height="5.6" fill="#00daff"/>
<rect x="95" y="155" width="5.6" height="5.6" fill="#00e5ff"/>
<rect x="100" y="155" width="5.6" height="5.6" fill="#00ccff"/>
<rect x="105" y="155" width="5.6" height="5.6" fill="#00a2ff"/>
<rect x="110" y="155" width="5.6" height="5.6" fill="#00abff"/>
<rect x="115" y="155" width="5.6" height="5.6" fill="#009eff"/>
<rect x="120" y="155" width="5.6" height="5.6" fill="#0089ff"/>
<rect x="125" y="155" width="5.6" height="5.6" fill="#007eff"/>
<rect x="130" y="155" width="5.6" height="5.6" fill="#007eff"/>
<rect x="135" y="155" width="5.6" height="5.6" fill="#009eff"/>
<rect x="140" y="155" width="5.6" height="5.6" fill="#006eff"/>
<rect x="145" y="155" width="5.6" height="5.6" fill="#006eff"/>
<rect x="150" y="155" width="5.6" height="5.6" fill="#0074ff"/>
<rect x="155" y="155" width="5.6" height="5.6" fill="#005cff"/>
<rect x="160" y="155" width="5.6" height="5.6" fill="#006aff"/>
<rect x="165" y="155" width="5.6" height="5.6" fill="#006bff"/>
<rect x="170" y="155" width="5.6" height="5.6" fill="#0085ff"/>
<rect x="175" y="155" width="5.6" height="5.6" fill="#0095ff"/>
<rect x="180" y="155" width="5.6" height="5.6" fill="#00d8ff"/>
<rect x="185" y="155" width="5.6" height="5.6" fill="#74f83e"/>
<rect x="190" y="155" width="5.6" height="5.6" fill="#ffab00"/>
<rect x="195" y="155" width="5.6" height="5.6" fill="#fe3100"/>
<rect x="200" y="155" width="5.6" height="5.6" fill="#ff3e00"/>
<rect x="205" y="155" width="5.6" height="5.6" fill="#ff6100"/>
<rect x="210" y="155" width="5.6" height="5.6" fill="#ff4a00"/>
<rect x="10" y="160" width="5.6" height="5.6" fill="#05f297"/>
<rect x="15" y="160" width="5.6" height="5.6" fill="#14f17f"/>
<rect x="20" y="160" width="5.6" height="5.6" fill="#04f39d"/>
<rect x="25" y="160" width="5.6" height="5.6" fill="#20f275"/>
<rect x="30" y="160" width="5.6" height="5.6" fill="#08f18d"/>
<rect x="35" y="160" width="5.6" height="5.6" fill="#00f7c4"/>
<rect x="40" y="160" width="5.6" height="5.6" fill="#3cf45d"/>
<rect x="45" y="160" width="5.6" height="5.6" fill="#00f4ef"/>
<rect x="50" y="160" width="5.6" height="5.6" fill="#07f292"/>
<rect x="55" y="160" width="5.6" height="5.6" fill="#00dfff"/>
<rect x="60" y="160" width="5.6" height="5.6" fill="#00c9ff"/>
<rect x="65" y="160" width="5.6" height="5.6" fill="#08f18d"/>
<rect x="70" y="160" width="5.6" height="5.6" fill="#ff8e00"/>
<rect x="75" y="160" width="5.6" height="5.6" fill="#ff4b00"/>
<rect x="80" y="160" width="5.6" height="5.6" fill="#a4fa26"/>
<rect x="85" y="160" width="5.6" height="5.6" fill="#3af45f"/>
<rect x="90" y="160" width="5.6" height="5.6" fill="#00f0fb"/>
<rect x="95" y="160" width="5.6" height="5.6" fill="#00d7ff"/>
<rect x="100" y="160" width="5.6" height="5.6" fill="#007bff"/>
<rect x="105" y="160" width="5.6" height="5.6" fill="#0096ff"/>
<rect x="110" y="160" width="5.6" height="5.6" fill="#008dff"/>
<rect x="115" y="160" width="5.6" height="5.6" fill="#00aaff"/>
<rect x="120" y="160" width="5.6" height="5.6" fill="#0088ff"/>
<rect x="125" y="160" width="5.6" height="5.6" fill="#00b1ff"/>
<rect x="130" y="160" width="5.6" height="5.6" fill="#0089ff"/>
<rect x="135" y="160" width="5.6" height="5.6" fill="#007dff"/>
<rect x="140" y="160" width="5.6" height="5.6" fill="#008bff"/>
<rect x="145" y="160" width="5.6" height="5.6" fill="#0078ff"/>
<rect x="150" y="160" width="5.6" height="5.6" fill="#0062ff"/>
<rect x="155" y="160" width="5.6" height="5.6" fill="#0080ff"/>
<rect x="160" y="160" width="5.6" height="5.6" fill="#0060ff"/>
<rect x="165" y="160" width="5.6" height="5.6" fill="#0089ff"/>
<rect x="170" y="160" width="5.6" height="5.6" fill="#0084ff"/>
<rect x="175" y="160" width="5.6" height="5.6" fill="#00a3ff"/>
<rect x="180" y="160" width="5.6" height="5.6" fill="#00ccff"/>
<rect x="185" y="160" width="5.6" height="5.6" fill="#09f18c"/>
<rect x="190" y="160" width="5.6" height="5.6" fill="#ffbc00"/>
<rect x="195" y="160" width="5.6" height="5.6" fill="#ff4c00"/>
<rect x="200" y="160" width="5.6" height="5.6" fill="#fe2e00"/>
<rect x="205" y="160" width="5.6" height="5.6" fill="#ff5e00"/>
<rect x="210" y="160" width="5.6" height="5.6" fill="#fe2e00"/>
<rect x="10" y="165" width="5.6" height="5.6" fill="#00f6ba"/>
<rect x="15" y="165" width="5.6" height="5.6" fill="#01f5a7"/>
<rect x="20" y="165" width="5.6" height="5.6" fill="#02f4a3"/>
<rect x="25" y="165" width="5.6" height="5.6" fill="#43f557"/>
<rect x="30" y="165" width="5.6" height="5.6" fill="#07f293"/>
<rect x="35" y="165" width="5.6" height="5.6" fill="#02f4a4"/>
<rect x="40" y="165" width="5.6" height="5.6" fill="#40f55a"/>
<rect x="45" y="165" width="5.6" height="5.6" fill="#00f6b8"/>
<rect x="50" y="165" width="5.6" height="5.6" fill="#09f08a"/>
<rect x="55" y="165" width="5.6" height="5.6" fill="#18f17b"/>
<rect x="60" y="165" width="5.6" height="5.6" fill="#3df45c"/>
<rect x="65" y="165" width="5.6" height="5.6" fill="#a3fa26"/>
<rect x="70" y="165" width="5.6" height="5.6" fill="#ffd500"/>
<rect x="75" y="165" width="5.6" height="5.6" fill="#f8f600"/>
<rect x="80" y="165" width="5.6" height="5.6" fill="#3af45f"/>
<rect x="85" y="165" width="5.6" height="5.6" fill="#00ecff"/>
<rect x="90" y="165" width="5.6" height="5.6" fill="#00f2f4"/>
<rect x="95" y="165" width="5.6" height="5.6" fill="#00beff"/>
<rect x="100" y="165" width="5.6" height="5.6" fill="#00baff"/>
<rect x="105" y="165" width="5.6" height="5.6" fill="#0082ff"/>
<rect x="110" y="165" width="5.6" height="5.6" fill="#0092ff"/>
<rect x="115" y="165" width="5.6" height="5.6" fill="#00a6ff"/>
<rect x="120" y="165" width="5.6" height="5.6" fill="#009bff"/>
<rect x="125" y="165" width="5.6" height="5.6" fill="#0080ff"/>
<rect x="130" y="165" width="5.6" height="5.6" fill="#0094ff"/>
<rect x="135" y="165" width="5.6" height="5.6" fill="#00a6ff"/>
<rect x="140" y="165" width="5.6" height="5.6" fill="#0070ff"/>
<rect x="145" y="165" width="5.6" height="5.6" fill="#0066ff"/>
<rect x="150" y="165" width="5.6" height="5.6" fill="#006dff"/>
<rect x="155" y="165" width="5.6" height="5.6" fill="#0084ff"/>
<rect x="160" y="165" width="5.6" height="5.6" fill="#008dff"/>
<rect x="165" y="165" width="5.6" height="5.6" fill="#0064ff"/>
<rect x="170" y="165" width="5.6" height="5.6" fill="#0064ff"/>
<rect x="175" y="165" width="5.6" height="5.6" fill="#007bff"/>
<rect x="180" y="165" width="5.6" height="5.6" fill="#00a5ff"/>
<rect x="185" y="165" width="5.6" height="5.6" fill="#05f39a"/>
<rect x="190" y="165" width="5.6" height="5.6" fill="#ffd300"/>
<rect x="195" y="165" width="5.6" height="5.6" fill="#ff5000"/>
<rect x="200" y="165" width="5.6" height="5.6" fill="#ff5800"/>
<rect x="205" y="165" width="5.6" height="5.6" fill="#fd2900"/>
<rect x="210" y="165" width="5.6" height="5.6" fill="#fe3800"/>
<rect x="10" y="170" width="5.6" height="5.6" fill="#00f6b1"/>
<rect x="15" y="170" width="5.6" height="5.6" fill="#25f271"/>
<rect x="20" y="170" width="5.6" height="5.6" fill="#00f6b1"/>
<rect x="25" y="170" width="5.6" height="5.6" fill="#02f4a3"/>
<rect x="30" y="170" width="5.6" height="5.6" fill="#55f64e"/>
<rect x="35" y="170" width="5.6" height="5.6" fill="#30f367"/>
<rect x="40" y="170" width="5.6" height="5.6" fill="#25f271"/>
<rect x="45" y="170" width="5.6" height="5.6" fill="#08f18d"/>
<rect x="50" y="170" width="5.6" height="5.6" fill="#07f191"/>
<rect x="55" y="170" width="5.6" height="5.6" fill="#64f746"/>
<rect x="60" y="170" width="5.6" height="5.6" fill="#08f18f"/>
<rect x="65" y="170" width="5.6" height="5.6" fill="#4af553"/>
<rect x="70" y="170" width="5.6" height="5.6" fill="#e0fa01"/>
<rect x="75" y="170" width="5.6" height="5.6" fill="#7ff839"/>
<rect x="80" y="170" width="5.6" height="5.6" fill="#07f292"/>
<rect x="85" y="170" width="5.6" height="5.6" fill="#00f8cf"/>
<rect x="90" y="170" width="5.6" height="5.6" fill="#00d7ff"/>
<rect x="95" y="170" width="5.6" height="5.6" fill="#00a5ff"/>
<rect x="100" y="170" width="5.6" height="5.6" fill="#00abff"/>
<rect x="105" y="170" width="5.6" height="5.6" fill="#0094ff"/>
<rect x="110" y="170" width="5.6" height="5.6" fill="#0081ff"/>
<rect x="115" y="170" width="5.6" height="5.6" fill="#009cff"/>
<rect x="120" y="170" width="5.6" height="5.6" fill="#0090ff"/>
<rect x="125" y="170" width="5.6" height="5.6" fill="#00a4ff"/>
<rect x="130" y="170" width="5.6" height="5.6" fill="#00aeff"/>
<rect x="135" y="170" width="5.6" height="5.6" fill="#008aff"/>
<rect x="140" y="170" width="5.6" height="5.6" fill="#0084ff"/>
<rect x="145" y="170" width="5.6" height="5.6" fill="#0087ff"/>
<rect x="150" y="170" width="5.6" height="5.6" fill="#0073ff"/>
<rect x="155" y="170" width="5.6" height="5.6" fill="#0068ff"/>
<rect x="160" y="170" width="5.6" height="5.6" fill="#0085ff"/>
<rect x="165" y="170" width="5.6" height="5.6" fill="#008fff"/>
<rect x="170" y="170" width="5.6" height="5.6" fill="#0088ff"/>
<rect x="175" y="170" width="5.6" height="5.6" fill="#0091ff"/>
<rect x="180" y="170" width="5.6" height="5.6" fill="#00b4ff"/>
<rect x="185" y="170" width="5.6" height="5.6" fill="#02f4a2"/>
<rect x="190" y="170" width="5.6" height="5.6" fill="#ffbb00"/>
<rect x="195" y="170" width="5.6" height="5.6" fill="#ff4900"/>
<rect x="200" y="170" width="5.6" height="5.6" fill="#ff5100"/>
<rect x="205" y="170" width="5.6" height="5.6" fill="#ff3e00"/>
<rect x="210" y="170" width="5.6" height="5.6" fill="#ff5e00"/>
<rect x="10" y="175" width="5.6" height="5.6" fill="#05f298"/>
<rect x="15" y="175" width="5.6" height="5.6" fill="#14f17e"/>
<rect x="20" y="175" width="5.6" height="5.6" fill="#0ef084"/>
<rect x="25" y="175" width="5.6" height="5.6" fill="#09f08a"/>
<rect x="30" y="175" width="5.6" height="5.6" fill="#02f4a4"/>
<rect x="35" y="175" width="5.6" height="5.6" fill="#05f298"/>
<rect x="40" y="175" width="5.6" height="5.6" fill="#06f296"/>
<rect x="45" y="175" width="5.6" height="5.6" fill="#19f17b"/>
<rect x="50" y="175" width="5.6" height="5.6" fill="#2bf36b"/>
<rect x="55" y="175" width="5.6" height="5.6" fill="#59f64c"/>
<rect x="60" y="175" width="5.6" height="5.6" fill="#74f83e"/>
<rect x="65" y="175" width="5.6" height="5.6" fill="#67f744"/>
<rect x="70" y="175" width="5.6" height="5.6" fill="#fbf600"/>
<rect x="75" y="175" width="5.6" height="5.6" fill="#e6f900"/>
<rect x="80" y="175" width="5.6" height="5.6" fill="#09f18c"/>
<rect x="85" y="175" width="5.6" height="5.6" fill="#00edff"/>
<rect x="90" y="175" width="5.6" height="5.6" fill="#00dcff"/>
<rect x="95" y="175" width="5.6" height="5.6" fill="#0089ff"/>
<rect x="100" y="175" width="5.6" height="5.6" fill="#009eff"/>
<rect x="105" y="175" width="5.6" height="5.6" fill="#0082ff"/>
<rect x="110" y="175" width="5.6" height="5.6" fill="#00a7ff"/>
<rect x="115" y="175" width="5.6" height="5.6" fill="#00b0ff"/>
<rect x="120" y="175" width="5.6" height="5.6" fill="#0097ff"/>
<rect x="125" y="175" width="5.6" height="5.6" fill="#007eff"/>
<rect x="130" y="175" width="5.6" height="5.6" fill="#009aff"/>
<rect x="135" y="175" width="5.6" height="5.6" fill="#0091ff"/>
<rect x="140" y="175" width="5.6" height="5.6" fill="#008dff"/>
<rect x="145" y="175" width="5.6" height="5.6" fill="#0079ff"/>
<rect x="150" y="175" width="5.6" height="5.6" fill="#0080ff"/>
<rect x="155" y="175" width="5.6" height="5.6" fill="#008cff"/>
<rect x="160" y="175" width="5.6" height="5.6" fill="#0079ff"/>
<rect x="165" y="175" width="5.6" height="5.6" fill="#0073ff"/>
<rect x="170" y="175" width="5.6" height="5.6" fill="#0093ff"/>
<rect x="175" y="175" width="5.6" height="5.6" fill="#0070ff"/>
<rect x="180" y="175" width="5.6" height="5.6" fill="#009fff"/>
<rect x="185" y="175" width="5.6" height="5.6" fill="#00f9d1"/>
<rect x="190" y="175" width="5.6" height="5.6" fill="#ffb700"/>
<rect x="195" y="175" width="5.6" height="5.6" fill="#ff5d00"/>
<rect x="200" y="175" width="5.6" height="5.6" fill="#fd2900"/>
<rect x="205" y="175" width="5.6" height="5.6" fill="#ff4e00"/>
<rect x="210" y="175" width="5.6" height="5.6" fill="#ff6000"/>
<rect x="10" y="180" width="5.6" height="5.6" fill="#02f4a2"/>
<rect x="15" y="180" width="5.6" height="5.6" fill="#05f39a"/>
<rect x="20" y="180" width="5.6" height="5.6" fill="#00f7bb"/>
<rect x="25" y="180" width="5.6" height="5.6" fill="#05f298"/>
<rect x="30" y="180" width="5.6" height="5.6" fill="#05f298"/>
<rect x="35" y="180" width="5.6" height="5.6" fill="#0df085"/>
<rect x="40" y="180" width="5.6" height="5.6" fill="#04f39d"/>
<rect x="45" y="180" width="5.6" height="5.6" fill="#06f295"/>
<rect x="50" y="180" width="5.6" height="5.6" fill="#1af179"/>
<rect x="55" y="180" width="5.6" height="5.6" fill="#60f648"/>
<rect x="60" y="180" width="5.6" height="5.6" fill="#76f83d"/>
<rect x="65" y="180" width="5.6" height="5.6" fill="#8cf932"/>
<rect x="70" y="180" width="5.6" height="5.6" fill="#dbfa03"/>
<rect x="75" y="180" width="5.6" height="5.6" fill="#e8f900"/>
<rect x="80" y="180" width="5.6" height="5.6" fill="#09f18c"/>
<rect x="85" y="180" width="5.6" height="5.6" fill="#00dfff"/>
<rect x="90" y="180" width="5.6" height="5.6" fill="#00adff"/>
<rect x="95" y="180" width="5.6" height="5.6" fill="#00b6ff"/>
<rect x="100" y="180" width="5.6" height="5.6" fill="#00aeff"/>
<rect x="105" y="180" width="5.6" height="5.6" fill="#009eff"/>
<rect x="110" y="180" width="5.6" height="5.6" fill="#0094ff"/>
<rect x="115" y="180" width="5.6" height="5.6" fill="#009aff"/>
<rect x="120" y="180" width="5.6" height="5.6" fill="#0086ff"/>
<rect x="125" y="180" width="5.6" height="5.6" fill="#00b2ff"/>
<rect x="130" y="180" width="5.6" height="5.6" fill="#008dff"/>
<rect x="135" y="180" width="5.6" height="5.6" fill="#0097ff"/>
<rect x="140" y="180" width="5.6" height="5.6" fill="#0093ff"/>
<rect x="145" y="180" width="5.6" height="5.6" fill="#008bff"/>
<rect x="150" y="180" width="5.6" height="5.6" fill="#0076ff"/>
<rect x="155" y="180" width="5.6" height="5.6" fill="#006cff"/>
<rect x="160" y="180" width="5.6" height="5.6" fill="#007bff"/>
<rect x="165" y="180" width="5.6" height="5.6" fill="#0062ff"/>
<rect x="170" y="180" width="5.6" height="5.6" fill="#008cff"/>
<rect x="175" y="180" width="5.6" height="5.6" fill="#0077ff"/>
<rect x="180" y="180" width="5.6" height="5.6" fill="#00a3ff"/>
<rect x="185" y="180" width="5.6" height="5.6" fill="#00f8e6"/>
<rect x="190" y="180" width="5.6" height="5.6" fill="#ffd100"/>
<rect x="195" y="180" width="5.6" height="5.6" fill="#ff5500"/>
<rect x="200" y="180" width="5.6" height="5.6" fill="#ff4a00"/>
<rect x="205" y="180" width="5.6" height="5.6" fill="#ff5900"/>
<rect x="210" y="180" width="5.6" height="5.6" fill="#ff6400"/>
</g>
<path d="M16.9 57.6 L20.1 57.6 L23.5 56.5 L25.6 55.6 L24.2 53.7 L26.9 51.5 L29.7 49.8 L31.6 46.5 L33.7 43.7 L36.2 40.8 L37.1 37.2 L39.2 34.3 L41.9 31.4 L45.3 29.2 L50.0 28.3 L55.5 27.4 L59.5 26.4 L62.9 26.4 L64.7 25.2 L66.3 27.2 L70.4 28.6 L73.8 29.2 L77.2 28.6 L81.3 27.8 L85.3 27.2 L88.6 27.4 L94.0 28.0 L98.1 27.7 L100.8 26.3 L106.3 25.5 L111.0 26.9 L113.7 29.1 L115.1 32.0 L117.1 33.2 L119.2 31.3 L119.8 29.9" fill="none" stroke="#e1fa00" stroke-width="5" stroke-linejoin="round" filter="url(#b1)" opacity="0.85"/>
<path d="M37.0 126.0 L39.0 131.0 L41.5 135.0 L43.0 140.0 L43.0 146.0 L43.5 152.0 L46.0 156.0 L51.0 156.5 L54.0 153.0 L56.0 148.0 L60.0 146.0 L64.0 148.5 L65.5 153.0 L64.5 158.0 L61.0 164.0 L60.5 168.0 L64.0 170.5 L69.0 172.5 L76.0 169.0 L84.0 170.0 L92.0 172.5" fill="none" stroke="#0078ff" stroke-width="4.5" stroke-linecap="round" stroke-linejoin="round" filter="url(#b1)" opacity="0.90"/>
<path d="M43.0 141.0 L47.0 146.0 L50.0 150.0 L53.0 150.0" fill="none" stroke="#00d9ff" stroke-width="3.0" stroke-linecap="round" stroke-linejoin="round" filter="url(#b1)" opacity="0.80"/>
<path d="M72.0 132.0 L76.0 140.0 L77.0 150.0 L75.0 160.0 L73.0 165.0" fill="none" stroke="#f70c00" stroke-width="6.0" stroke-linecap="round" stroke-linejoin="round" filter="url(#b2)" opacity="0.90"/>
<path d="M80.0 134.0 L82.0 145.0 L80.0 158.0" fill="none" stroke="#ff7800" stroke-width="4.0" stroke-linecap="round" stroke-linejoin="round" filter="url(#b2)" opacity="0.60"/>
<path d="M60.0 128.0 L66.0 132.0 L70.0 134.0" fill="none" stroke="#ff4600" stroke-width="4.0" stroke-linecap="round" stroke-linejoin="round" filter="url(#b1)" opacity="0.80"/>
<path d="M70.0 100.0 L78.0 101.0 L88.0 101.0 L95.0 103.0" fill="none" stroke="#00fae1" stroke-width="1.4" stroke-linecap="round" stroke-linejoin="round" filter="url(#b06)" opacity="0.80"/>
<path d="M148.0 40.0 L147.0 50.0 L146.5 58.0 L147.5 66.0 L148.0 74.0 L150.0 84.0 L150.0 95.0 L147.0 105.0 L143.0 115.0" fill="none" stroke="#00f7bc" stroke-width="1.6" stroke-linecap="round" stroke-linejoin="round" filter="url(#b1)" opacity="0.75"/>
<path d="M155.0 42.0 L153.0 50.0 L150.0 56.0" fill="none" stroke="#07f293" stroke-width="1.2" stroke-linecap="round" stroke-linejoin="round" filter="url(#b06)" opacity="0.70"/>
<path d="M113.0 40.0 L116.0 50.0 L118.0 60.0 L121.0 72.0 L124.0 85.0" fill="none" stroke="#07f293" stroke-width="2.2" stroke-linecap="round" stroke-linejoin="round" filter="url(#b1)" opacity="0.60"/>
<path d="M128.0 45.0 L131.0 56.0 L133.0 68.0" fill="none" stroke="#46f555" stroke-width="1.6" stroke-linecap="round" stroke-linejoin="round" filter="url(#b1)" opacity="0.50"/>
<ellipse cx="79.0" cy="55.0" rx="2.9" ry="2.9" fill="#ff4600" filter="url(#b1)" opacity="0.80"/>
<ellipse cx="84.0" cy="58.0" rx="2.4" ry="2.4" fill="#ff5a00" filter="url(#b1)" opacity="0.80"/>
<ellipse cx="106.0" cy="52.0" rx="2.6" ry="2.6" fill="#ff4600" filter="url(#b1)" opacity="0.80"/>
<ellipse cx="110.0" cy="55.0" rx="2.6" ry="2.6" fill="#fe3200" filter="url(#b1)" opacity="0.80"/>
<ellipse cx="98.0" cy="44.0" rx="2.2" ry="2.2" fill="#ff9600" filter="url(#b1)" opacity="0.80"/>
<ellipse cx="92.0" cy="47.0" rx="1.8" ry="1.8" fill="#ffaa00" filter="url(#b1)" opacity="0.80"/>
<ellipse cx="125.0" cy="48.0" rx="2.4" ry="2.4" fill="#ff9600" filter="url(#b1)" opacity="0.80"/>
<ellipse cx="135.0" cy="52.0" rx="2.2" ry="2.2" fill="#ffaa00" filter="url(#b1)" opacity="0.80"/>
<ellipse cx="70.0" cy="47.0" rx="1.8" ry="1.8" fill="#ffaa00" filter="url(#b1)" opacity="0.80"/>
<ellipse cx="60.0" cy="41.0" rx="1.7" ry="1.7" fill="#f9f600" filter="url(#b1)" opacity="0.80"/>
<ellipse cx="48.0" cy="38.0" rx="1.7" ry="1.7" fill="#f9f600" filter="url(#b1)" opacity="0.80"/>
<ellipse cx="118.0" cy="38.0" rx="1.8" ry="1.8" fill="#ffaa00" filter="url(#b1)" opacity="0.80"/>
<ellipse cx="140.0" cy="60.0" rx="2.2" ry="2.2" fill="#ff9600" filter="url(#b1)" opacity="0.80"/>
<ellipse cx="102.0" cy="62.0" rx="2.0" ry="2.0" fill="#ffbf00" filter="url(#b1)" opacity="0.80"/>
<ellipse cx="130.0" cy="75.0" rx="2.0" ry="2.0" fill="#ffd400" filter="url(#b1)" opacity="0.80"/>
<ellipse cx="138.0" cy="85.0" rx="1.8" ry="1.8" fill="#ffd400" filter="url(#b1)" opacity="0.80"/>
<ellipse cx="125.0" cy="92.0" rx="1.8" ry="1.8" fill="#ffd400" filter="url(#b1)" opacity="0.80"/>
<ellipse cx="124.0" cy="104.0" rx="1.8" ry="1.8" fill="#ffbf00" filter="url(#b1)" opacity="0.80"/>
<ellipse cx="129.0" cy="108.0" rx="1.5" ry="1.5" fill="#ffaa00" filter="url(#b1)" opacity="0.80"/>
<ellipse cx="135.0" cy="111.0" rx="2.0" ry="2.0" fill="#ff9600" filter="url(#b1)" opacity="0.80"/>
<ellipse cx="140.0" cy="106.0" rx="1.5" ry="1.5" fill="#ffd400" filter="url(#b1)" opacity="0.80"/>
<ellipse cx="146.0" cy="115.0" rx="2.0" ry="2.0" fill="#ff9600" filter="url(#b1)" opacity="0.80"/>
<ellipse cx="151.0" cy="116.0" rx="2.4" ry="2.4" fill="#ff7800" filter="url(#b1)" opacity="0.80"/>
<ellipse cx="157.0" cy="117.0" rx="2.2" ry="2.2" fill="#ff7800" filter="url(#b1)" opacity="0.80"/>
<ellipse cx="162.0" cy="116.0" rx="2.0" ry="2.0" fill="#ff9600" filter="url(#b1)" opacity="0.80"/>
<ellipse cx="118.0" cy="112.0" rx="1.3" ry="1.3" fill="#ffe700" filter="url(#b1)" opacity="0.80"/>
<ellipse cx="131.0" cy="98.0" rx="1.5" ry="1.5" fill="#ffe700" filter="url(#b1)" opacity="0.80"/>
<ellipse cx="143.0" cy="99.0" rx="1.5" ry="1.5" fill="#ffe700" filter="url(#b1)" opacity="0.80"/>
<ellipse cx="114.0" cy="104.0" rx="1.1" ry="1.1" fill="#e1fa00" filter="url(#b1)" opacity="0.80"/>
<ellipse cx="109.0" cy="128.0" rx="1.0" ry="1.0" fill="#c7fa10" filter="url(#b1)" opacity="0.80"/>
<ellipse cx="127.0" cy="125.0" rx="1.0" ry="1.0" fill="#a0fa28" filter="url(#b1)" opacity="0.80"/>
<ellipse cx="101.0" cy="140.0" rx="0.9" ry="0.9" fill="#a0fa28" filter="url(#b1)" opacity="0.80"/>
<ellipse cx="105.0" cy="150.0" rx="0.9" ry="0.9" fill="#a0fa28" filter="url(#b1)" opacity="0.80"/>
<ellipse cx="97.0" cy="160.0" rx="0.9" ry="0.9" fill="#a0fa28" filter="url(#b1)" opacity="0.80"/>
<ellipse cx="40.0" cy="40.0" rx="1.5" ry="1.5" fill="#c7fa10" filter="url(#b1)" opacity="0.80"/>
<ellipse cx="47.0" cy="44.0" rx="1.3" ry="1.3" fill="#a0fa28" filter="url(#b1)" opacity="0.80"/>
<ellipse cx="36.0" cy="48.0" rx="1.1" ry="1.1" fill="#a0fa28" filter="url(#b1)" opacity="0.80"/>
<ellipse cx="55.0" cy="36.0" rx="1.3" ry="1.3" fill="#e1fa00" filter="url(#b1)" opacity="0.80"/>
</g>
<path d="M16.9 57.6 L20.1 57.6 L23.5 56.5 L25.6 55.6 L24.2 53.7 L26.9 51.5 L29.7 49.8 L31.6 46.5 L33.7 43.7 L36.2 40.8 L37.1 37.2 L39.2 34.3 L41.9 31.4 L45.3 29.2 L50.0 28.3 L55.5 27.4 L59.5 26.4 L62.9 26.4 L64.7 25.2 L66.3 27.2 L70.4 28.6 L73.8 29.2 L77.2 28.6 L81.3 27.8 L85.3 27.2 L88.6 27.4 L94.0 28.0 L98.1 27.7 L100.8 26.3 L106.3 25.5 L111.0 26.9 L113.7 29.1 L115.1 32.0 L117.1 33.2 L119.2 31.3 L119.8 29.9 L122.6 32.7 L125.3 35.6 L128.0 37.8 L130.6 37.0 L133.3 36.1 L137.1 37.5 L140.9 38.5 L143.7 41.6 L147.5 44.0 L150.8 44.5 L153.6 44.5 L154.5 42.6 L156.9 39.5 L154.9 36.6 L152.6 32.6 L151.2 30.1 L150.8 28.6 L153.0 28.6 L157.8 28.1 L159.7 25.6 L159.7 24.2 L162.0 25.2 L165.2 24.7 L167.2 22.7 L169.5 19.7 L171.4 22.7 L172.8 24.7 L176.6 26.2 L178.9 28.6 L180.7 31.1 L184.9 29.1 L187.6 26.9 L191.0 25.5 L193.7 24.9 L197.1 21.9 L199.2 19.7 L201.9 21.3 L203.9 19.7 L206.0 17.7 L204.6 23.3 L202.6 27.7 L201.2 32.0 L199.8 37.0 L201.2 42.0 L203.2 46.4 L205.3 50.6 L207.3 55.0 L208.9 58.6 L209.6 63.1 L208.1 69.9 L205.7 74.9 L204.9 81.5 L207.2 86.6 L208.1 93.2 L207.2 99.1 L204.9 103.3 L202.5 105.8 L200.1 104.1 L196.2 104.1 L192.3 105.8 L189.1 109.2 L184.3 111.7 L180.4 112.5 L178.0 114.2 L174.8 115.8 L168.5 115.8 L167.0 116.0 L166.3 119.6 L165.6 124.7 L162.2 126.1 L158.1 125.4 L155.4 124.7 L152.0 123.9 L149.3 126.1 L144.6 128.3 L143.9 130.4 L145.2 134.0 L145.9 139.7 L147.3 143.3 L150.7 146.2 L154.7 148.3 L156.8 151.2 L156.1 155.6 L156.8 159.2 L154.1 158.4 L150.7 157.0 L148.6 156.2 L147.3 157.7 L145.2 155.6 L143.9 152.7 L141.8 150.5 L139.1 151.2 L136.0 152.1 L130.7 153.5 L126.8 156.3 L122.8 156.3 L118.9 154.1 L116.3 154.9 L115.6 157.6 L116.9 161.1 L114.3 162.5 L111.0 165.3 L107.1 168.1 L100.5 168.8 L96.6 170.2 L93.9 172.9 L88.2 171.3 L81.6 169.3 L77.8 168.7 L73.8 170.0 L69.9 172.6 L67.3 172.0 L64.6 170.7 L62.0 170.0 L59.4 167.5 L60.0 164.7 L62.7 162.1 L64.6 158.2 L65.3 152.9 L64.0 148.3 L60.7 146.3 L57.5 147.0 L55.4 150.3 L54.1 154.2 L51.5 156.8 L47.5 156.2 L44.2 154.2 L42.9 150.3 L43.6 146.3 L42.3 143.7 L42.9 139.7 L41.6 134.5 L39.6 131.8 L38.2 127.9 L36.3 123.9 L36.7 123.0 L34.3 117.9 L32.7 112.9 L30.3 106.2 L28.8 101.2 L27.2 97.8 L24.0 92.8 L22.5 87.8 L23.2 82.7 L21.6 77.7 L19.3 72.7 L17.7 67.7 L16.9 62.6Z" fill="none" stroke="#111" stroke-width="0.8" stroke-linejoin="round"/>
<path d="M38.8 137 L41.5 136.5 L42.2 139.5 L41.6 142.8 L39.2 142.6 Z" fill="#f08a20" stroke="#111" stroke-width="0.6"/>
<path d="M39.5 130 L41.5 133 L43 136.5" fill="none" stroke="#111" stroke-width="1.6"/>
<circle cx="42.1" cy="153.3" r="0.6" fill="#111"/>
<circle cx="44.7" cy="157.2" r="0.7" fill="#111"/>
<circle cx="47.4" cy="161.8" r="0.8" fill="#111"/>
<circle cx="49.3" cy="163.8" r="0.8" fill="#111"/>
<circle cx="51.3" cy="167.1" r="1.0" fill="#111"/>
<circle cx="55.3" cy="166.8" r="0.5" fill="#111"/>
<circle cx="38.2" cy="175.0" r="0.5" fill="#111"/>
<circle cx="44.7" cy="178.3" r="0.7" fill="#111"/>
<g id="inset">
<rect x="217.4" y="22.1" width="51.4" height="70" fill="#d8d8d8" stroke="#9a9a9a" stroke-width="0.6"/>
<path d="M217.7 33.6 L224 34.6 L228.6 37.3 L229.6 41.1 L224.9 42.9 L221.2 44.8 L220.2 52.2 L220.2 61.6 L221.2 69 L224.9 70.9 L228.6 72.7 L230.1 78.3 L230.9 85.8 L231.4 91.8 L217.7 91.8Z" fill="#fff"/>
<path d="M237.9 91.8 L237.6 83.9 L238.9 78.3 L242.6 77.4 L246.3 79.2 L248.2 83.9 L251 89.5 L253.8 91.8Z" fill="#fff"/>
<path d="M268.5 55 L264 56.9 L260.7 59.7 L260.3 63.4 L263.1 66.2 L265.9 65.3 L268.5 64.3Z" fill="#fff"/>
<path d="M268.5 68.1 L264.9 69 L263.1 72.7 L264 78.3 L262.1 83.9 L258.4 88.6 L256.6 91.8 L268.5 91.8Z" fill="#fff"/>
<path d="M234.2 46.7 L237.9 45.7 L240.7 52.2 L243.5 57.8 L247.2 61.6 L252.8 65.3 L258.4 69 L262.1 74.6 L261.2 82 L257.5 86.7 L253.8 89.5 L250 85.8 L246.3 82 L243.5 76.5 L240.7 70.9 L237.9 65.3 L236.1 59.7 L234.2 52.2Z" fill="#cdcaf4"/>
<path d="M245.4 76.5 L250 74.2 L255.6 74.6 L258.8 77.4 L258 82 L254.7 84.8 L250 84.3 L246.3 81.7Z" fill="#f5f2ae"/>
<path d="M225.6 26.5 L229.6 29.7 L232 33 L234.5 37.9 L236.1 42.7 L239.4 48.4 L240.2 52.5 L239.4 57.3 L241.8 59.8 L243.4 62.2 L242.6 65.5 L245.8 66.3 L249.1 68.7 L251.5 70.3 L253.1 73.6 L254 76.8 L252.3 80.1 L253.1 83.3 L254.8 85.7" fill="none" stroke="#3a62b8" stroke-width="0.9"/>
<path d="M247.5 76 L249.5 78.5 L250.7 80.9 L252.3 80.1" fill="none" stroke="#4a6fc0" stroke-width="0.6"/>
<ellipse cx="254.4" cy="85.8" rx="1.4" ry="1.1" fill="#3a5fb0"/>
</g>
<g id="legend">
<rect x="217.2" y="94.8" width="52" height="83.1" fill="#fff" stroke="#9a9a9a" stroke-width="0.6"/>
<path d="M243.9 103.3 L244.9 110 L242.9 110Z M243.9 122.5 L244.9 115.8 L242.9 115.8Z M234.6 112.9 L241.2 111.9 L241.2 113.9Z M253.2 112.9 L246.6 111.9 L246.6 113.9Z" fill="#111"/>
<circle cx="243.9" cy="112.9" r="3.4" fill="#fff" stroke="#111" stroke-width="0.7"/>
<path d="M243.9 112.9 L243.9 109.5 A3.4 3.4 0 0 1 247.3 112.9 Z" fill="#111"/>
<path d="M243.9 112.9 L243.9 116.3 A3.4 3.4 0 0 1 240.5 112.9 Z" fill="#111"/>
<text x="243.9" y="101.6" class="cmp" text-anchor="middle">N</text>
<text x="244.2" y="127" class="cmp" text-anchor="middle">S</text>
<text x="231.6" y="114.6" class="cmp" text-anchor="middle">W</text>
<text x="255.9" y="114.6" class="cmp" text-anchor="middle">E</text>
<text x="220.8" y="132.3" class="lgb">Legend</text>
<rect x="221.2" y="136.1" width="8" height="3.9" rx="1" fill="#fff" stroke="#222" stroke-width="0.6"/>
<text x="230.8" y="139.6" class="lg">Cambodia Border</text>
<text x="220.8" y="145.4" class="lgb">DEM</text>
<text x="220.8" y="150.6" class="lgb" style="font-weight:normal">[m]</text>
<rect x="221" y="154.8" width="7.6" height="12.1" fill="url(#demlg)"/>
<text x="230.8" y="157.1" class="lg">High : 1793</text>
<text x="230.8" y="169" class="lg">Low : -10</text>
</g>
<g id="scalebar">
<rect x="147.9" y="174.3" width="13.2" height="2.3" fill="#111"/>
<rect x="161.1" y="174.5" width="13" height="1.9" fill="#fff" stroke="#111" stroke-width="0.4"/>
<rect x="174.1" y="174.3" width="27" height="2.3" fill="#111"/>
<text x="147.9" y="172" class="lg" text-anchor="middle" style="font-size:4px">0</text>
<text x="161.1" y="172" class="lg" text-anchor="middle" style="font-size:4px">40</text>
<text x="173.4" y="172" class="lg" text-anchor="middle" style="font-size:4px">80</text>
<text x="200.7" y="172" class="lg" text-anchor="middle" style="font-size:4px">160</text>
<text x="202.3" y="177" class="lg" style="font-size:3.6px">km</text>
</g>
<defs><linearGradient id="demlg" x1="0" y1="0" x2="0" y2="1">
<stop offset="0" stop-color="#ff1a00"/><stop offset="0.25" stop-color="#ff9900"/><stop offset="0.45" stop-color="#f5f500"/><stop offset="0.6" stop-color="#30f0a0"/><stop offset="0.75" stop-color="#00d8ff"/><stop offset="1" stop-color="#0030ff"/>
</linearGradient></defs>

<text x="21.5" y="12.4" class="tka" text-anchor="middle">102&#176;30'E</text>
<text x="21.5" y="189.4" class="tka" text-anchor="middle">102&#176;30'E</text>
<line x1="21.5" y1="14.2" x2="21.5" y2="15.3" class="fr"/>
<line x1="21.5" y1="184.5" x2="21.5" y2="185.6" class="fr"/>
<text x="39.9" y="12.4" class="tka" text-anchor="middle">103&#176;0'E</text>
<text x="39.9" y="189.4" class="tka" text-anchor="middle">103&#176;0'E</text>
<line x1="39.9" y1="14.2" x2="39.9" y2="15.3" class="fr"/>
<line x1="39.9" y1="184.5" x2="39.9" y2="185.6" class="fr"/>
<text x="58.2" y="12.4" class="tka" text-anchor="middle">103&#176;30'E</text>
<text x="58.2" y="189.4" class="tka" text-anchor="middle">103&#176;30'E</text>
<line x1="58.2" y1="14.2" x2="58.2" y2="15.3" class="fr"/>
<line x1="58.2" y1="184.5" x2="58.2" y2="185.6" class="fr"/>
<text x="76.6" y="12.4" class="tka" text-anchor="middle">104&#176;0'E</text>
<text x="76.6" y="189.4" class="tka" text-anchor="middle">104&#176;0'E</text>
<line x1="76.6" y1="14.2" x2="76.6" y2="15.3" class="fr"/>
<line x1="76.6" y1="184.5" x2="76.6" y2="185.6" class="fr"/>
<text x="94.9" y="12.4" class="tka" text-anchor="middle">104&#176;30'E</text>
<text x="94.9" y="189.4" class="tka" text-anchor="middle">104&#176;30'E</text>
<line x1="94.9" y1="14.2" x2="94.9" y2="15.3" class="fr"/>
<line x1="94.9" y1="184.5" x2="94.9" y2="185.6" class="fr"/>
<text x="113.2" y="12.4" class="tka" text-anchor="middle">105&#176;0'E</text>
<text x="113.2" y="189.4" class="tka" text-anchor="middle">105&#176;0'E</text>
<line x1="113.2" y1="14.2" x2="113.2" y2="15.3" class="fr"/>
<line x1="113.2" y1="184.5" x2="113.2" y2="185.6" class="fr"/>
<text x="131.6" y="12.4" class="tka" text-anchor="middle">105&#176;30'E</text>
<text x="131.6" y="189.4" class="tka" text-anchor="middle">105&#176;30'E</text>
<line x1="131.6" y1="14.2" x2="131.6" y2="15.3" class="fr"/>
<line x1="131.6" y1="184.5" x2="131.6" y2="185.6" class="fr"/>
<text x="150.0" y="12.4" class="tka" text-anchor="middle">106&#176;0'E</text>
<text x="150.0" y="189.4" class="tka" text-anchor="middle">106&#176;0'E</text>
<line x1="150.0" y1="14.2" x2="150.0" y2="15.3" class="fr"/>
<line x1="150.0" y1="184.5" x2="150.0" y2="185.6" class="fr"/>
<text x="168.3" y="12.4" class="tka" text-anchor="middle">106&#176;30'E</text>
<text x="168.3" y="189.4" class="tka" text-anchor="middle">106&#176;30'E</text>
<line x1="168.3" y1="14.2" x2="168.3" y2="15.3" class="fr"/>
<line x1="168.3" y1="184.5" x2="168.3" y2="185.6" class="fr"/>
<text x="186.7" y="12.4" class="tka" text-anchor="middle">107&#176;0'E</text>
<text x="186.7" y="189.4" class="tka" text-anchor="middle">107&#176;0'E</text>
<line x1="186.7" y1="14.2" x2="186.7" y2="15.3" class="fr"/>
<line x1="186.7" y1="184.5" x2="186.7" y2="185.6" class="fr"/>
<text x="205.0" y="12.4" class="tka" text-anchor="middle">107&#176;30'E</text>
<text x="205.0" y="189.4" class="tka" text-anchor="middle">107&#176;30'E</text>
<line x1="205.0" y1="14.2" x2="205.0" y2="15.3" class="fr"/>
<line x1="205.0" y1="184.5" x2="205.0" y2="185.6" class="fr"/>
<text x="223.4" y="12.4" class="tka" text-anchor="middle">108&#176;0'E</text>
<text x="223.4" y="189.4" class="tka" text-anchor="middle">108&#176;0'E</text>
<line x1="223.4" y1="14.2" x2="223.4" y2="15.3" class="fr"/>
<line x1="223.4" y1="184.5" x2="223.4" y2="185.6" class="fr"/>
<text x="241.7" y="12.4" class="tka" text-anchor="middle">108&#176;30'E</text>
<text x="241.7" y="189.4" class="tka" text-anchor="middle">108&#176;30'E</text>
<line x1="241.7" y1="14.2" x2="241.7" y2="15.3" class="fr"/>
<line x1="241.7" y1="184.5" x2="241.7" y2="185.6" class="fr"/>
<text x="260.1" y="12.4" class="tka" text-anchor="middle">109&#176;0'E</text>
<text x="260.1" y="189.4" class="tka" text-anchor="middle">109&#176;0'E</text>
<line x1="260.1" y1="14.2" x2="260.1" y2="15.3" class="fr"/>
<line x1="260.1" y1="184.5" x2="260.1" y2="185.6" class="fr"/>
<text x="0" y="0" class="tka" text-anchor="middle" transform="translate(7.2 22.8) rotate(-90)">14&#176;30'N</text>
<text x="0" y="0" class="tka" text-anchor="middle" transform="translate(275.4 22.8) rotate(-90)">14&#176;30'N</text>
<line x1="8.6" y1="22.8" x2="9.7" y2="22.8" class="fr"/>
<line x1="270.6" y1="22.8" x2="271.7" y2="22.8" class="fr"/>
<text x="0" y="0" class="tka" text-anchor="middle" transform="translate(7.2 41.2) rotate(-90)">14&#176;0'N</text>
<text x="0" y="0" class="tka" text-anchor="middle" transform="translate(275.4 41.2) rotate(-90)">14&#176;0'N</text>
<line x1="8.6" y1="41.2" x2="9.7" y2="41.2" class="fr"/>
<line x1="270.6" y1="41.2" x2="271.7" y2="41.2" class="fr"/>
<text x="0" y="0" class="tka" text-anchor="middle" transform="translate(7.2 59.7) rotate(-90)">13&#176;30'N</text>
<text x="0" y="0" class="tka" text-anchor="middle" transform="translate(275.4 59.7) rotate(-90)">13&#176;30'N</text>
<line x1="8.6" y1="59.7" x2="9.7" y2="59.7" class="fr"/>
<line x1="270.6" y1="59.7" x2="271.7" y2="59.7" class="fr"/>
<text x="0" y="0" class="tka" text-anchor="middle" transform="translate(7.2 78.1) rotate(-90)">13&#176;0'N</text>
<text x="0" y="0" class="tka" text-anchor="middle" transform="translate(275.4 78.1) rotate(-90)">13&#176;0'N</text>
<line x1="8.6" y1="78.1" x2="9.7" y2="78.1" class="fr"/>
<line x1="270.6" y1="78.1" x2="271.7" y2="78.1" class="fr"/>
<text x="0" y="0" class="tka" text-anchor="middle" transform="translate(7.2 96.6) rotate(-90)">12&#176;30'N</text>
<text x="0" y="0" class="tka" text-anchor="middle" transform="translate(275.4 96.6) rotate(-90)">12&#176;30'N</text>
<line x1="8.6" y1="96.6" x2="9.7" y2="96.6" class="fr"/>
<line x1="270.6" y1="96.6" x2="271.7" y2="96.6" class="fr"/>
<text x="0" y="0" class="tka" text-anchor="middle" transform="translate(7.2 115.0) rotate(-90)">12&#176;0'N</text>
<text x="0" y="0" class="tka" text-anchor="middle" transform="translate(275.4 115.0) rotate(-90)">12&#176;0'N</text>
<line x1="8.6" y1="115.0" x2="9.7" y2="115.0" class="fr"/>
<line x1="270.6" y1="115.0" x2="271.7" y2="115.0" class="fr"/>
<text x="0" y="0" class="tka" text-anchor="middle" transform="translate(7.2 133.5) rotate(-90)">11&#176;30'N</text>
<text x="0" y="0" class="tka" text-anchor="middle" transform="translate(275.4 133.5) rotate(-90)">11&#176;30'N</text>
<line x1="8.6" y1="133.5" x2="9.7" y2="133.5" class="fr"/>
<line x1="270.6" y1="133.5" x2="271.7" y2="133.5" class="fr"/>
<text x="0" y="0" class="tka" text-anchor="middle" transform="translate(7.2 152.0) rotate(-90)">11&#176;0'N</text>
<text x="0" y="0" class="tka" text-anchor="middle" transform="translate(275.4 152.0) rotate(-90)">11&#176;0'N</text>
<line x1="8.6" y1="152.0" x2="9.7" y2="152.0" class="fr"/>
<line x1="270.6" y1="152.0" x2="271.7" y2="152.0" class="fr"/>
<text x="0" y="0" class="tka" text-anchor="middle" transform="translate(7.2 170.4) rotate(-90)">10&#176;30'N</text>
<text x="0" y="0" class="tka" text-anchor="middle" transform="translate(275.4 170.4) rotate(-90)">10&#176;30'N</text>
<line x1="8.6" y1="170.4" x2="9.7" y2="170.4" class="fr"/>
<line x1="270.6" y1="170.4" x2="271.7" y2="170.4" class="fr"/>
<rect x="9.7" y="15.3" width="260.9" height="169.2" fill="none" stroke="#444" stroke-width="0.8"/>
<defs>
<linearGradient id="jet" x1="0" y1="0" x2="0" y2="1"><stop offset="0.0000" stop-color="#8c0000"/><stop offset="0.0156" stop-color="#980000"/><stop offset="0.0312" stop-color="#a50000"/><stop offset="0.0469" stop-color="#b10000"/><stop offset="0.0625" stop-color="#be0000"/><stop offset="0.0781" stop-color="#ca0000"/><stop offset="0.0938" stop-color="#d70000"/><stop offset="0.1094" stop-color="#e40000"/><stop offset="0.1250" stop-color="#f00000"/><stop offset="0.1406" stop-color="#f80c00"/><stop offset="0.1562" stop-color="#fc1a00"/><stop offset="0.1719" stop-color="#fd2a00"/><stop offset="0.1875" stop-color="#fe3a00"/><stop offset="0.2031" stop-color="#ff4900"/><stop offset="0.2188" stop-color="#ff5900"/><stop offset="0.2344" stop-color="#ff6800"/><stop offset="0.2500" stop-color="#ff7800"/><stop offset="0.2656" stop-color="#ff8800"/><stop offset="0.2812" stop-color="#ff9700"/><stop offset="0.2969" stop-color="#ffa700"/><stop offset="0.3125" stop-color="#ffb700"/><stop offset="0.3281" stop-color="#ffc700"/><stop offset="0.3438" stop-color="#ffd800"/><stop offset="0.3594" stop-color="#ffe700"/><stop offset="0.3750" stop-color="#fff500"/><stop offset="0.3906" stop-color="#ecf800"/><stop offset="0.4062" stop-color="#d9fa05"/><stop offset="0.4219" stop-color="#c5fa12"/><stop offset="0.4375" stop-color="#b0fa1e"/><stop offset="0.4531" stop-color="#9afa2b"/><stop offset="0.4688" stop-color="#7ef839"/><stop offset="0.4844" stop-color="#62f747"/><stop offset="0.5000" stop-color="#46f555"/><stop offset="0.5156" stop-color="#2ff369"/><stop offset="0.5312" stop-color="#17f17c"/><stop offset="0.5469" stop-color="#08f18f"/><stop offset="0.5625" stop-color="#02f4a1"/><stop offset="0.5781" stop-color="#00f6b9"/><stop offset="0.5938" stop-color="#00f9d6"/><stop offset="0.6094" stop-color="#00f6ec"/><stop offset="0.6250" stop-color="#00eeff"/><stop offset="0.6406" stop-color="#00e1ff"/><stop offset="0.6562" stop-color="#00d4ff"/><stop offset="0.6719" stop-color="#00c6ff"/><stop offset="0.6875" stop-color="#00b6ff"/><stop offset="0.7031" stop-color="#00a7ff"/><stop offset="0.7188" stop-color="#0097ff"/><stop offset="0.7344" stop-color="#0088ff"/><stop offset="0.7500" stop-color="#0078ff"/><stop offset="0.7656" stop-color="#0069ff"/><stop offset="0.7812" stop-color="#005aff"/><stop offset="0.7969" stop-color="#004bff"/><stop offset="0.8125" stop-color="#003cff"/><stop offset="0.8281" stop-color="#002dff"/><stop offset="0.8438" stop-color="#001eff"/><stop offset="0.8594" stop-color="#000fff"/><stop offset="0.8750" stop-color="#0000ff"/><stop offset="0.8906" stop-color="#0000f0"/><stop offset="0.9062" stop-color="#0000e1"/><stop offset="0.9219" stop-color="#0000d2"/><stop offset="0.9375" stop-color="#0000c3"/><stop offset="0.9531" stop-color="#0000b4"/><stop offset="0.9688" stop-color="#0000a5"/><stop offset="0.9844" stop-color="#000096"/><stop offset="1.0000" stop-color="#000087"/></linearGradient>
<clipPath id="cpb"><rect x="307.5" y="12.3" width="213.3" height="169"/></clipPath>
<clipPath id="cpc"><rect x="28.5" y="241.8" width="213.1" height="168.6"/></clipPath>
<clipPath id="cpd"><rect x="307.1" y="241.6" width="213.2" height="168.4"/></clipPath>
</defs>
<g clip-path="url(#cpb)"><rect x="307.50" y="12.30" width="5.44" height="5.22" fill="#00f0f9"/>
<rect x="311.94" y="12.30" width="9.89" height="5.22" fill="#00e1ff"/>
<rect x="320.83" y="12.30" width="9.89" height="5.22" fill="#00e1ff"/>
<rect x="329.72" y="12.30" width="9.89" height="5.22" fill="#00eaff"/>
<rect x="338.61" y="12.30" width="9.89" height="5.22" fill="#00f5ed"/>
<rect x="347.49" y="12.30" width="9.89" height="5.22" fill="#00fae1"/>
<rect x="356.38" y="12.30" width="9.89" height="5.22" fill="#00f7bc"/>
<rect x="365.27" y="12.30" width="9.89" height="5.22" fill="#00f5aa"/>
<rect x="374.16" y="12.30" width="9.89" height="5.22" fill="#00f5aa"/>
<rect x="383.04" y="12.30" width="9.89" height="5.22" fill="#07f293"/>
<rect x="391.93" y="12.30" width="9.89" height="5.22" fill="#07f293"/>
<rect x="400.82" y="12.30" width="9.89" height="5.22" fill="#46f555"/>
<rect x="409.71" y="12.30" width="9.89" height="5.22" fill="#6af743"/>
<rect x="418.59" y="12.30" width="9.89" height="5.22" fill="#e1fa00"/>
<rect x="427.48" y="12.30" width="9.89" height="5.22" fill="#ffd400"/>
<rect x="436.37" y="12.30" width="9.89" height="5.22" fill="#ffaa00"/>
<rect x="445.26" y="12.30" width="9.89" height="5.22" fill="#ff9600"/>
<rect x="454.14" y="12.30" width="9.89" height="5.22" fill="#ff9600"/>
<rect x="463.03" y="12.30" width="9.89" height="5.22" fill="#ff4600"/>
<rect x="471.92" y="12.30" width="9.89" height="5.22" fill="#ff7800"/>
<rect x="480.81" y="12.30" width="9.89" height="5.22" fill="#ff8200"/>
<rect x="489.69" y="12.30" width="9.89" height="5.22" fill="#ffaa00"/>
<rect x="498.58" y="12.30" width="9.89" height="5.22" fill="#ffd400"/>
<rect x="507.47" y="12.30" width="9.89" height="5.22" fill="#f9f600"/>
<rect x="516.36" y="12.30" width="5.44" height="5.22" fill="#e1fa00"/>
<rect x="307.50" y="16.52" width="5.44" height="9.45" fill="#00fae1"/>
<rect x="311.94" y="16.52" width="9.89" height="9.45" fill="#00eaff"/>
<rect x="320.83" y="16.52" width="9.89" height="9.45" fill="#00e1ff"/>
<rect x="329.72" y="16.52" width="9.89" height="9.45" fill="#00f0f9"/>
<rect x="338.61" y="16.52" width="9.89" height="9.45" fill="#00fae1"/>
<rect x="347.49" y="16.52" width="9.89" height="9.45" fill="#00f8cf"/>
<rect x="356.38" y="16.52" width="9.89" height="9.45" fill="#00f7bc"/>
<rect x="365.27" y="16.52" width="9.89" height="9.45" fill="#00f5aa"/>
<rect x="374.16" y="16.52" width="9.89" height="9.45" fill="#00f5aa"/>
<rect x="383.04" y="16.52" width="9.89" height="9.45" fill="#07f293"/>
<rect x="391.93" y="16.52" width="9.89" height="9.45" fill="#07f293"/>
<rect x="400.82" y="16.52" width="9.89" height="9.45" fill="#46f555"/>
<rect x="409.71" y="16.52" width="9.89" height="9.45" fill="#a0fa28"/>
<rect x="418.59" y="16.52" width="9.89" height="9.45" fill="#e1fa00"/>
<rect x="427.48" y="16.52" width="9.89" height="9.45" fill="#ffe700"/>
<rect x="436.37" y="16.52" width="9.89" height="9.45" fill="#ffaa00"/>
<rect x="445.26" y="16.52" width="9.89" height="9.45" fill="#ff9600"/>
<rect x="454.14" y="16.52" width="9.89" height="9.45" fill="#ff9600"/>
<rect x="463.03" y="16.52" width="9.89" height="9.45" fill="#ff9600"/>
<rect x="471.92" y="16.52" width="9.89" height="9.45" fill="#ffaa00"/>
<rect x="480.81" y="16.52" width="9.89" height="9.45" fill="#ff9600"/>
<rect x="489.69" y="16.52" width="9.89" height="9.45" fill="#ffaa00"/>
<rect x="498.58" y="16.52" width="9.89" height="9.45" fill="#ffd400"/>
<rect x="507.47" y="16.52" width="9.89" height="9.45" fill="#f9f600"/>
<rect x="516.36" y="16.52" width="5.44" height="9.45" fill="#e1fa00"/>
<rect x="307.50" y="24.98" width="5.44" height="9.45" fill="#03f39e"/>
<rect x="311.94" y="24.98" width="9.89" height="9.45" fill="#00fae1"/>
<rect x="320.83" y="24.98" width="9.89" height="9.45" fill="#00f5ed"/>
<rect x="329.72" y="24.98" width="9.89" height="9.45" fill="#00fae1"/>
<rect x="338.61" y="24.98" width="9.89" height="9.45" fill="#00f8cf"/>
<rect x="347.49" y="24.98" width="9.89" height="9.45" fill="#00f7bc"/>
<rect x="356.38" y="24.98" width="9.89" height="9.45" fill="#00f5aa"/>
<rect x="365.27" y="24.98" width="9.89" height="9.45" fill="#00f5aa"/>
<rect x="374.16" y="24.98" width="9.89" height="9.45" fill="#00f5aa"/>
<rect x="383.04" y="24.98" width="9.89" height="9.45" fill="#07f293"/>
<rect x="391.93" y="24.98" width="9.89" height="9.45" fill="#07f293"/>
<rect x="400.82" y="24.98" width="9.89" height="9.45" fill="#28f26e"/>
<rect x="409.71" y="24.98" width="9.89" height="9.45" fill="#a0fa28"/>
<rect x="418.59" y="24.98" width="9.89" height="9.45" fill="#e1fa00"/>
<rect x="427.48" y="24.98" width="9.89" height="9.45" fill="#e1fa00"/>
<rect x="436.37" y="24.98" width="9.89" height="9.45" fill="#f9f600"/>
<rect x="445.26" y="24.98" width="9.89" height="9.45" fill="#f9f600"/>
<rect x="454.14" y="24.98" width="9.89" height="9.45" fill="#fff000"/>
<rect x="463.03" y="24.98" width="9.89" height="9.45" fill="#ffbf00"/>
<rect x="471.92" y="24.98" width="9.89" height="9.45" fill="#ffaa00"/>
<rect x="480.81" y="24.98" width="9.89" height="9.45" fill="#ffaa00"/>
<rect x="489.69" y="24.98" width="9.89" height="9.45" fill="#ffd400"/>
<rect x="498.58" y="24.98" width="9.89" height="9.45" fill="#fff000"/>
<rect x="507.47" y="24.98" width="9.89" height="9.45" fill="#ffde00"/>
<rect x="516.36" y="24.98" width="5.44" height="9.45" fill="#f9f600"/>
<rect x="307.50" y="33.42" width="5.44" height="9.45" fill="#0af087"/>
<rect x="311.94" y="33.42" width="9.89" height="9.45" fill="#00f5aa"/>
<rect x="320.83" y="33.42" width="9.89" height="9.45" fill="#00f7bc"/>
<rect x="329.72" y="33.42" width="9.89" height="9.45" fill="#00f7bc"/>
<rect x="338.61" y="33.42" width="9.89" height="9.45" fill="#00f5aa"/>
<rect x="347.49" y="33.42" width="9.89" height="9.45" fill="#00f5aa"/>
<rect x="356.38" y="33.42" width="9.89" height="9.45" fill="#00f5aa"/>
<rect x="365.27" y="33.42" width="9.89" height="9.45" fill="#00f5aa"/>
<rect x="374.16" y="33.42" width="9.89" height="9.45" fill="#00f5aa"/>
<rect x="383.04" y="33.42" width="9.89" height="9.45" fill="#07f293"/>
<rect x="391.93" y="33.42" width="9.89" height="9.45" fill="#07f293"/>
<rect x="400.82" y="33.42" width="9.89" height="9.45" fill="#19f17b"/>
<rect x="409.71" y="33.42" width="9.89" height="9.45" fill="#28f26e"/>
<rect x="418.59" y="33.42" width="9.89" height="9.45" fill="#adfa20"/>
<rect x="427.48" y="33.42" width="9.89" height="9.45" fill="#c7fa10"/>
<rect x="436.37" y="33.42" width="9.89" height="9.45" fill="#e1fa00"/>
<rect x="445.26" y="33.42" width="9.89" height="9.45" fill="#e1fa00"/>
<rect x="454.14" y="33.42" width="9.89" height="9.45" fill="#e1fa00"/>
<rect x="463.03" y="33.42" width="9.89" height="9.45" fill="#f9f600"/>
<rect x="471.92" y="33.42" width="9.89" height="9.45" fill="#ffbf00"/>
<rect x="480.81" y="33.42" width="9.89" height="9.45" fill="#ff9600"/>
<rect x="489.69" y="33.42" width="9.89" height="9.45" fill="#ff5a00"/>
<rect x="498.58" y="33.42" width="9.89" height="9.45" fill="#ff5a00"/>
<rect x="507.47" y="33.42" width="9.89" height="9.45" fill="#ff6e00"/>
<rect x="516.36" y="33.42" width="5.44" height="9.45" fill="#ffaa00"/>
<rect x="307.50" y="41.88" width="5.44" height="9.45" fill="#19f17b"/>
<rect x="311.94" y="41.88" width="9.89" height="9.45" fill="#03f39e"/>
<rect x="320.83" y="41.88" width="9.89" height="9.45" fill="#00f5aa"/>
<rect x="329.72" y="41.88" width="9.89" height="9.45" fill="#00f5aa"/>
<rect x="338.61" y="41.88" width="9.89" height="9.45" fill="#00f5aa"/>
<rect x="347.49" y="41.88" width="9.89" height="9.45" fill="#00f5aa"/>
<rect x="356.38" y="41.88" width="9.89" height="9.45" fill="#00f5aa"/>
<rect x="365.27" y="41.88" width="9.89" height="9.45" fill="#00f5aa"/>
<rect x="374.16" y="41.88" width="9.89" height="9.45" fill="#00f5aa"/>
<rect x="383.04" y="41.88" width="9.89" height="9.45" fill="#07f293"/>
<rect x="391.93" y="41.88" width="9.89" height="9.45" fill="#07f293"/>
<rect x="400.82" y="41.88" width="9.89" height="9.45" fill="#07f293"/>
<rect x="409.71" y="41.88" width="9.89" height="9.45" fill="#46f555"/>
<rect x="418.59" y="41.88" width="9.89" height="9.45" fill="#a0fa28"/>
<rect x="427.48" y="41.88" width="9.89" height="9.45" fill="#bafa18"/>
<rect x="436.37" y="41.88" width="9.89" height="9.45" fill="#e1fa00"/>
<rect x="445.26" y="41.88" width="9.89" height="9.45" fill="#e1fa00"/>
<rect x="454.14" y="41.88" width="9.89" height="9.45" fill="#e1fa00"/>
<rect x="463.03" y="41.88" width="9.89" height="9.45" fill="#e1fa00"/>
<rect x="471.92" y="41.88" width="9.89" height="9.45" fill="#fff000"/>
<rect x="480.81" y="41.88" width="9.89" height="9.45" fill="#ff9600"/>
<rect x="489.69" y="41.88" width="9.89" height="9.45" fill="#f20400"/>
<rect x="498.58" y="41.88" width="9.89" height="9.45" fill="#f20400"/>
<rect x="507.47" y="41.88" width="9.89" height="9.45" fill="#f70c00"/>
<rect x="516.36" y="41.88" width="5.44" height="9.45" fill="#ff4600"/>
<rect x="307.50" y="50.33" width="5.44" height="9.45" fill="#19f17b"/>
<rect x="311.94" y="50.33" width="9.89" height="9.45" fill="#0af087"/>
<rect x="320.83" y="50.33" width="9.89" height="9.45" fill="#03f39e"/>
<rect x="329.72" y="50.33" width="9.89" height="9.45" fill="#00f5aa"/>
<rect x="338.61" y="50.33" width="9.89" height="9.45" fill="#00f5aa"/>
<rect x="347.49" y="50.33" width="9.89" height="9.45" fill="#00f5aa"/>
<rect x="356.38" y="50.33" width="9.89" height="9.45" fill="#00f5aa"/>
<rect x="365.27" y="50.33" width="9.89" height="9.45" fill="#00f5aa"/>
<rect x="374.16" y="50.33" width="9.89" height="9.45" fill="#00f5aa"/>
<rect x="383.04" y="50.33" width="9.89" height="9.45" fill="#07f293"/>
<rect x="391.93" y="50.33" width="9.89" height="9.45" fill="#07f293"/>
<rect x="400.82" y="50.33" width="9.89" height="9.45" fill="#07f293"/>
<rect x="409.71" y="50.33" width="9.89" height="9.45" fill="#19f17b"/>
<rect x="418.59" y="50.33" width="9.89" height="9.45" fill="#7cf83a"/>
<rect x="427.48" y="50.33" width="9.89" height="9.45" fill="#a0fa28"/>
<rect x="436.37" y="50.33" width="9.89" height="9.45" fill="#bafa18"/>
<rect x="445.26" y="50.33" width="9.89" height="9.45" fill="#e1fa00"/>
<rect x="454.14" y="50.33" width="9.89" height="9.45" fill="#e1fa00"/>
<rect x="463.03" y="50.33" width="9.89" height="9.45" fill="#e1fa00"/>
<rect x="471.92" y="50.33" width="9.89" height="9.45" fill="#f9f600"/>
<rect x="480.81" y="50.33" width="9.89" height="9.45" fill="#ff9600"/>
<rect x="489.69" y="50.33" width="9.89" height="9.45" fill="#f20400"/>
<rect x="498.58" y="50.33" width="9.89" height="9.45" fill="#ec0000"/>
<rect x="507.47" y="50.33" width="9.89" height="9.45" fill="#f20400"/>
<rect x="516.36" y="50.33" width="5.44" height="9.45" fill="#ff4600"/>
<rect x="307.50" y="58.77" width="5.44" height="9.45" fill="#46f555"/>
<rect x="311.94" y="58.77" width="9.89" height="9.45" fill="#46f555"/>
<rect x="320.83" y="58.77" width="9.89" height="9.45" fill="#0af087"/>
<rect x="329.72" y="58.77" width="9.89" height="9.45" fill="#03f39e"/>
<rect x="338.61" y="58.77" width="9.89" height="9.45" fill="#00f5aa"/>
<rect x="347.49" y="58.77" width="9.89" height="9.45" fill="#00f5aa"/>
<rect x="356.38" y="58.77" width="9.89" height="9.45" fill="#00f5aa"/>
<rect x="365.27" y="58.77" width="9.89" height="9.45" fill="#00f5aa"/>
<rect x="374.16" y="58.77" width="9.89" height="9.45" fill="#00f5aa"/>
<rect x="383.04" y="58.77" width="9.89" height="9.45" fill="#07f293"/>
<rect x="391.93" y="58.77" width="9.89" height="9.45" fill="#07f293"/>
<rect x="400.82" y="58.77" width="9.89" height="9.45" fill="#07f293"/>
<rect x="409.71" y="58.77" width="9.89" height="9.45" fill="#19f17b"/>
<rect x="418.59" y="58.77" width="9.89" height="9.45" fill="#6af743"/>
<rect x="427.48" y="58.77" width="9.89" height="9.45" fill="#a0fa28"/>
<rect x="436.37" y="58.77" width="9.89" height="9.45" fill="#bafa18"/>
<rect x="445.26" y="58.77" width="9.89" height="9.45" fill="#c7fa10"/>
<rect x="454.14" y="58.77" width="9.89" height="9.45" fill="#e1fa00"/>
<rect x="463.03" y="58.77" width="9.89" height="9.45" fill="#e1fa00"/>
<rect x="471.92" y="58.77" width="9.89" height="9.45" fill="#f9f600"/>
<rect x="480.81" y="58.77" width="9.89" height="9.45" fill="#ffaa00"/>
<rect x="489.69" y="58.77" width="9.89" height="9.45" fill="#f20400"/>
<rect x="498.58" y="58.77" width="9.89" height="9.45" fill="#f70c00"/>
<rect x="507.47" y="58.77" width="9.89" height="9.45" fill="#fc1400"/>
<rect x="516.36" y="58.77" width="5.44" height="9.45" fill="#ff7800"/>
<rect x="307.50" y="67.22" width="5.44" height="9.45" fill="#ffbf00"/>
<rect x="311.94" y="67.22" width="9.89" height="9.45" fill="#ff8c00"/>
<rect x="320.83" y="67.22" width="9.89" height="9.45" fill="#ffe700"/>
<rect x="329.72" y="67.22" width="9.89" height="9.45" fill="#a0fa28"/>
<rect x="338.61" y="67.22" width="9.89" height="9.45" fill="#0af087"/>
<rect x="347.49" y="67.22" width="9.89" height="9.45" fill="#03f39e"/>
<rect x="356.38" y="67.22" width="9.89" height="9.45" fill="#00f5aa"/>
<rect x="365.27" y="67.22" width="9.89" height="9.45" fill="#00f5aa"/>
<rect x="374.16" y="67.22" width="9.89" height="9.45" fill="#00f5aa"/>
<rect x="383.04" y="67.22" width="9.89" height="9.45" fill="#07f293"/>
<rect x="391.93" y="67.22" width="9.89" height="9.45" fill="#07f293"/>
<rect x="400.82" y="67.22" width="9.89" height="9.45" fill="#07f293"/>
<rect x="409.71" y="67.22" width="9.89" height="9.45" fill="#19f17b"/>
<rect x="418.59" y="67.22" width="9.89" height="9.45" fill="#46f555"/>
<rect x="427.48" y="67.22" width="9.89" height="9.45" fill="#7cf83a"/>
<rect x="436.37" y="67.22" width="9.89" height="9.45" fill="#a0fa28"/>
<rect x="445.26" y="67.22" width="9.89" height="9.45" fill="#bafa18"/>
<rect x="454.14" y="67.22" width="9.89" height="9.45" fill="#e1fa00"/>
<rect x="463.03" y="67.22" width="9.89" height="9.45" fill="#e1fa00"/>
<rect x="471.92" y="67.22" width="9.89" height="9.45" fill="#f9f600"/>
<rect x="480.81" y="67.22" width="9.89" height="9.45" fill="#ffd400"/>
<rect x="489.69" y="67.22" width="9.89" height="9.45" fill="#ff6e00"/>
<rect x="498.58" y="67.22" width="9.89" height="9.45" fill="#ff5a00"/>
<rect x="507.47" y="67.22" width="9.89" height="9.45" fill="#ff5a00"/>
<rect x="516.36" y="67.22" width="5.44" height="9.45" fill="#ffaa00"/>
<rect x="307.50" y="75.67" width="5.44" height="9.45" fill="#fc1400"/>
<rect x="311.94" y="75.67" width="9.89" height="9.45" fill="#f20400"/>
<rect x="320.83" y="75.67" width="9.89" height="9.45" fill="#f20400"/>
<rect x="329.72" y="75.67" width="9.89" height="9.45" fill="#ffbf00"/>
<rect x="338.61" y="75.67" width="9.89" height="9.45" fill="#6af743"/>
<rect x="347.49" y="75.67" width="9.89" height="9.45" fill="#07f293"/>
<rect x="356.38" y="75.67" width="9.89" height="9.45" fill="#00f5aa"/>
<rect x="365.27" y="75.67" width="9.89" height="9.45" fill="#00f5aa"/>
<rect x="374.16" y="75.67" width="9.89" height="9.45" fill="#00f5aa"/>
<rect x="383.04" y="75.67" width="9.89" height="9.45" fill="#07f293"/>
<rect x="391.93" y="75.67" width="9.89" height="9.45" fill="#07f293"/>
<rect x="400.82" y="75.67" width="9.89" height="9.45" fill="#0af087"/>
<rect x="409.71" y="75.67" width="9.89" height="9.45" fill="#19f17b"/>
<rect x="418.59" y="75.67" width="9.89" height="9.45" fill="#28f26e"/>
<rect x="427.48" y="75.67" width="9.89" height="9.45" fill="#46f555"/>
<rect x="436.37" y="75.67" width="9.89" height="9.45" fill="#a0fa28"/>
<rect x="445.26" y="75.67" width="9.89" height="9.45" fill="#bafa18"/>
<rect x="454.14" y="75.67" width="9.89" height="9.45" fill="#c7fa10"/>
<rect x="463.03" y="75.67" width="9.89" height="9.45" fill="#e1fa00"/>
<rect x="471.92" y="75.67" width="9.89" height="9.45" fill="#f9f600"/>
<rect x="480.81" y="75.67" width="9.89" height="9.45" fill="#ffde00"/>
<rect x="489.69" y="75.67" width="9.89" height="9.45" fill="#ffd400"/>
<rect x="498.58" y="75.67" width="9.89" height="9.45" fill="#ffd400"/>
<rect x="507.47" y="75.67" width="9.89" height="9.45" fill="#ffaa00"/>
<rect x="516.36" y="75.67" width="5.44" height="9.45" fill="#ffbf00"/>
<rect x="307.50" y="84.12" width="5.44" height="9.45" fill="#ec0000"/>
<rect x="311.94" y="84.12" width="9.89" height="9.45" fill="#c40000"/>
<rect x="320.83" y="84.12" width="9.89" height="9.45" fill="#c40000"/>
<rect x="329.72" y="84.12" width="9.89" height="9.45" fill="#f20400"/>
<rect x="338.61" y="84.12" width="9.89" height="9.45" fill="#ff8c00"/>
<rect x="347.49" y="84.12" width="9.89" height="9.45" fill="#bafa18"/>
<rect x="356.38" y="84.12" width="9.89" height="9.45" fill="#07f293"/>
<rect x="365.27" y="84.12" width="9.89" height="9.45" fill="#03f39e"/>
<rect x="374.16" y="84.12" width="9.89" height="9.45" fill="#19f17b"/>
<rect x="383.04" y="84.12" width="9.89" height="9.45" fill="#46f555"/>
<rect x="391.93" y="84.12" width="9.89" height="9.45" fill="#46f555"/>
<rect x="400.82" y="84.12" width="9.89" height="9.45" fill="#19f17b"/>
<rect x="409.71" y="84.12" width="9.89" height="9.45" fill="#19f17b"/>
<rect x="418.59" y="84.12" width="9.89" height="9.45" fill="#28f26e"/>
<rect x="427.48" y="84.12" width="9.89" height="9.45" fill="#46f555"/>
<rect x="436.37" y="84.12" width="9.89" height="9.45" fill="#7cf83a"/>
<rect x="445.26" y="84.12" width="9.89" height="9.45" fill="#a0fa28"/>
<rect x="454.14" y="84.12" width="9.89" height="9.45" fill="#c7fa10"/>
<rect x="463.03" y="84.12" width="9.89" height="9.45" fill="#e1fa00"/>
<rect x="471.92" y="84.12" width="9.89" height="9.45" fill="#fff000"/>
<rect x="480.81" y="84.12" width="9.89" height="9.45" fill="#ffe700"/>
<rect x="489.69" y="84.12" width="9.89" height="9.45" fill="#ff8200"/>
<rect x="498.58" y="84.12" width="9.89" height="9.45" fill="#ff8200"/>
<rect x="507.47" y="84.12" width="9.89" height="9.45" fill="#ff6e00"/>
<rect x="516.36" y="84.12" width="5.44" height="9.45" fill="#ffaa00"/>
<rect x="307.50" y="92.57" width="5.44" height="9.45" fill="#ec0000"/>
<rect x="311.94" y="92.57" width="9.89" height="9.45" fill="#a40000"/>
<rect x="320.83" y="92.57" width="9.89" height="9.45" fill="#a40000"/>
<rect x="329.72" y="92.57" width="9.89" height="9.45" fill="#a40000"/>
<rect x="338.61" y="92.57" width="9.89" height="9.45" fill="#a40000"/>
<rect x="347.49" y="92.57" width="9.89" height="9.45" fill="#b40000"/>
<rect x="356.38" y="92.57" width="9.89" height="9.45" fill="#ffd400"/>
<rect x="365.27" y="92.57" width="9.89" height="9.45" fill="#0af087"/>
<rect x="374.16" y="92.57" width="9.89" height="9.45" fill="#19f17b"/>
<rect x="383.04" y="92.57" width="9.89" height="9.45" fill="#46f555"/>
<rect x="391.93" y="92.57" width="9.89" height="9.45" fill="#19f17b"/>
<rect x="400.82" y="92.57" width="9.89" height="9.45" fill="#0af087"/>
<rect x="409.71" y="92.57" width="9.89" height="9.45" fill="#19f17b"/>
<rect x="418.59" y="92.57" width="9.89" height="9.45" fill="#28f26e"/>
<rect x="427.48" y="92.57" width="9.89" height="9.45" fill="#46f555"/>
<rect x="436.37" y="92.57" width="9.89" height="9.45" fill="#a0fa28"/>
<rect x="445.26" y="92.57" width="9.89" height="9.45" fill="#bafa18"/>
<rect x="454.14" y="92.57" width="9.89" height="9.45" fill="#c7fa10"/>
<rect x="463.03" y="92.57" width="9.89" height="9.45" fill="#e1fa00"/>
<rect x="471.92" y="92.57" width="9.89" height="9.45" fill="#ffd400"/>
<rect x="480.81" y="92.57" width="9.89" height="9.45" fill="#ff5a00"/>
<rect x="489.69" y="92.57" width="9.89" height="9.45" fill="#fc1400"/>
<rect x="498.58" y="92.57" width="9.89" height="9.45" fill="#fc1400"/>
<rect x="507.47" y="92.57" width="9.89" height="9.45" fill="#ff4600"/>
<rect x="516.36" y="92.57" width="5.44" height="9.45" fill="#ff7800"/>
<rect x="307.50" y="101.02" width="5.44" height="9.45" fill="#ec0000"/>
<rect x="311.94" y="101.02" width="9.89" height="9.45" fill="#a40000"/>
<rect x="320.83" y="101.02" width="9.89" height="9.45" fill="#a40000"/>
<rect x="329.72" y="101.02" width="9.89" height="9.45" fill="#a40000"/>
<rect x="338.61" y="101.02" width="9.89" height="9.45" fill="#a40000"/>
<rect x="347.49" y="101.02" width="9.89" height="9.45" fill="#a40000"/>
<rect x="356.38" y="101.02" width="9.89" height="9.45" fill="#a40000"/>
<rect x="365.27" y="101.02" width="9.89" height="9.45" fill="#ffd400"/>
<rect x="374.16" y="101.02" width="9.89" height="9.45" fill="#46f555"/>
<rect x="383.04" y="101.02" width="9.89" height="9.45" fill="#19f17b"/>
<rect x="391.93" y="101.02" width="9.89" height="9.45" fill="#07f293"/>
<rect x="400.82" y="101.02" width="9.89" height="9.45" fill="#07f293"/>
<rect x="409.71" y="101.02" width="9.89" height="9.45" fill="#0af087"/>
<rect x="418.59" y="101.02" width="9.89" height="9.45" fill="#19f17b"/>
<rect x="427.48" y="101.02" width="9.89" height="9.45" fill="#46f555"/>
<rect x="436.37" y="101.02" width="9.89" height="9.45" fill="#6af743"/>
<rect x="445.26" y="101.02" width="9.89" height="9.45" fill="#a0fa28"/>
<rect x="454.14" y="101.02" width="9.89" height="9.45" fill="#c7fa10"/>
<rect x="463.03" y="101.02" width="9.89" height="9.45" fill="#e1fa00"/>
<rect x="471.92" y="101.02" width="9.89" height="9.45" fill="#ffd400"/>
<rect x="480.81" y="101.02" width="9.89" height="9.45" fill="#ff4600"/>
<rect x="489.69" y="101.02" width="9.89" height="9.45" fill="#f70c00"/>
<rect x="498.58" y="101.02" width="9.89" height="9.45" fill="#f70c00"/>
<rect x="507.47" y="101.02" width="9.89" height="9.45" fill="#f70c00"/>
<rect x="516.36" y="101.02" width="5.44" height="9.45" fill="#ff4600"/>
<rect x="311.94" y="109.47" width="9.89" height="9.45" fill="#a40000"/>
<rect x="320.83" y="109.47" width="9.89" height="9.45" fill="#a40000"/>
<rect x="329.72" y="109.47" width="9.89" height="9.45" fill="#a40000"/>
<rect x="338.61" y="109.47" width="9.89" height="9.45" fill="#a40000"/>
<rect x="347.49" y="109.47" width="9.89" height="9.45" fill="#a40000"/>
<rect x="356.38" y="109.47" width="9.89" height="9.45" fill="#a40000"/>
<rect x="365.27" y="109.47" width="9.89" height="9.45" fill="#f20400"/>
<rect x="374.16" y="109.47" width="9.89" height="9.45" fill="#bafa18"/>
<rect x="383.04" y="109.47" width="9.89" height="9.45" fill="#03f39e"/>
<rect x="391.93" y="109.47" width="9.89" height="9.45" fill="#00f5aa"/>
<rect x="400.82" y="109.47" width="9.89" height="9.45" fill="#00f7bc"/>
<rect x="409.71" y="109.47" width="9.89" height="9.45" fill="#00f7bc"/>
<rect x="418.59" y="109.47" width="9.89" height="9.45" fill="#03f39e"/>
<rect x="427.48" y="109.47" width="9.89" height="9.45" fill="#19f17b"/>
<rect x="436.37" y="109.47" width="9.89" height="9.45" fill="#6af743"/>
<rect x="445.26" y="109.47" width="9.89" height="9.45" fill="#a0fa28"/>
<rect x="454.14" y="109.47" width="9.89" height="9.45" fill="#c7fa10"/>
<rect x="463.03" y="109.47" width="9.89" height="9.45" fill="#f9f600"/>
<rect x="471.92" y="109.47" width="9.89" height="9.45" fill="#ff9600"/>
<rect x="480.81" y="109.47" width="9.89" height="9.45" fill="#f70c00"/>
<rect x="489.69" y="109.47" width="9.89" height="9.45" fill="#f70c00"/>
<rect x="498.58" y="109.47" width="9.89" height="9.45" fill="#f70c00"/>
<rect x="507.47" y="109.47" width="9.89" height="9.45" fill="#f70c00"/>
<rect x="516.36" y="109.47" width="5.44" height="9.45" fill="#fe3200"/>
<rect x="311.94" y="117.92" width="9.89" height="9.45" fill="#a40000"/>
<rect x="320.83" y="117.92" width="9.89" height="9.45" fill="#a40000"/>
<rect x="329.72" y="117.92" width="9.89" height="9.45" fill="#a40000"/>
<rect x="338.61" y="117.92" width="9.89" height="9.45" fill="#a40000"/>
<rect x="347.49" y="117.92" width="9.89" height="9.45" fill="#a40000"/>
<rect x="356.38" y="117.92" width="9.89" height="9.45" fill="#a40000"/>
<rect x="365.27" y="117.92" width="9.89" height="9.45" fill="#a40000"/>
<rect x="374.16" y="117.92" width="9.89" height="9.45" fill="#a0fa28"/>
<rect x="383.04" y="117.92" width="9.89" height="9.45" fill="#00f7bc"/>
<rect x="391.93" y="117.92" width="9.89" height="9.45" fill="#00fae1"/>
<rect x="400.82" y="117.92" width="9.89" height="9.45" fill="#00fae1"/>
<rect x="409.71" y="117.92" width="9.89" height="9.45" fill="#00fae1"/>
<rect x="418.59" y="117.92" width="9.89" height="9.45" fill="#00f7bc"/>
<rect x="427.48" y="117.92" width="9.89" height="9.45" fill="#07f293"/>
<rect x="436.37" y="117.92" width="9.89" height="9.45" fill="#a0fa28"/>
<rect x="445.26" y="117.92" width="9.89" height="9.45" fill="#e1fa00"/>
<rect x="454.14" y="117.92" width="9.89" height="9.45" fill="#f9f600"/>
<rect x="463.03" y="117.92" width="9.89" height="9.45" fill="#fff000"/>
<rect x="471.92" y="117.92" width="9.89" height="9.45" fill="#ffaa00"/>
<rect x="480.81" y="117.92" width="9.89" height="9.45" fill="#fc1400"/>
<rect x="489.69" y="117.92" width="9.89" height="9.45" fill="#f70c00"/>
<rect x="498.58" y="117.92" width="9.89" height="9.45" fill="#f70c00"/>
<rect x="507.47" y="117.92" width="9.89" height="9.45" fill="#f70c00"/>
<rect x="516.36" y="117.92" width="5.44" height="9.45" fill="#ff4600"/>
<rect x="320.83" y="126.37" width="9.89" height="9.45" fill="#a40000"/>
<rect x="329.72" y="126.37" width="9.89" height="9.45" fill="#a40000"/>
<rect x="338.61" y="126.37" width="9.89" height="9.45" fill="#a40000"/>
<rect x="347.49" y="126.37" width="9.89" height="9.45" fill="#a40000"/>
<rect x="356.38" y="126.37" width="9.89" height="9.45" fill="#a40000"/>
<rect x="365.27" y="126.37" width="9.89" height="9.45" fill="#a40000"/>
<rect x="374.16" y="126.37" width="9.89" height="9.45" fill="#fff000"/>
<rect x="383.04" y="126.37" width="9.89" height="9.45" fill="#00f5aa"/>
<rect x="391.93" y="126.37" width="9.89" height="9.45" fill="#00fae1"/>
<rect x="400.82" y="126.37" width="9.89" height="9.45" fill="#00fae1"/>
<rect x="409.71" y="126.37" width="9.89" height="9.45" fill="#00fae1"/>
<rect x="418.59" y="126.37" width="9.89" height="9.45" fill="#00f7bc"/>
<rect x="427.48" y="126.37" width="9.89" height="9.45" fill="#0af087"/>
<rect x="436.37" y="126.37" width="9.89" height="9.45" fill="#adfa20"/>
<rect x="445.26" y="126.37" width="9.89" height="9.45" fill="#f9f600"/>
<rect x="454.14" y="126.37" width="9.89" height="9.45" fill="#fff000"/>
<rect x="463.03" y="126.37" width="9.89" height="9.45" fill="#ffe700"/>
<rect x="471.92" y="126.37" width="9.89" height="9.45" fill="#ffbf00"/>
<rect x="480.81" y="126.37" width="9.89" height="9.45" fill="#ff5a00"/>
<rect x="489.69" y="126.37" width="9.89" height="9.45" fill="#ff4600"/>
<rect x="498.58" y="126.37" width="9.89" height="9.45" fill="#fc1400"/>
<rect x="507.47" y="126.37" width="9.89" height="9.45" fill="#fc1400"/>
<rect x="516.36" y="126.37" width="5.44" height="9.45" fill="#ff5a00"/>
<rect x="329.72" y="134.82" width="9.89" height="9.45" fill="#a40000"/>
<rect x="338.61" y="134.82" width="9.89" height="9.45" fill="#a40000"/>
<rect x="347.49" y="134.82" width="9.89" height="9.45" fill="#a40000"/>
<rect x="356.38" y="134.82" width="9.89" height="9.45" fill="#a40000"/>
<rect x="365.27" y="134.82" width="9.89" height="9.45" fill="#a40000"/>
<rect x="374.16" y="134.82" width="9.89" height="9.45" fill="#ff7800"/>
<rect x="383.04" y="134.82" width="9.89" height="9.45" fill="#46f555"/>
<rect x="391.93" y="134.82" width="9.89" height="9.45" fill="#00f7bc"/>
<rect x="400.82" y="134.82" width="9.89" height="9.45" fill="#00fae1"/>
<rect x="409.71" y="134.82" width="9.89" height="9.45" fill="#00f7bc"/>
<rect x="418.59" y="134.82" width="9.89" height="9.45" fill="#03f39e"/>
<rect x="427.48" y="134.82" width="9.89" height="9.45" fill="#46f555"/>
<rect x="436.37" y="134.82" width="9.89" height="9.45" fill="#adfa20"/>
<rect x="445.26" y="134.82" width="9.89" height="9.45" fill="#c7fa10"/>
<rect x="454.14" y="134.82" width="9.89" height="9.45" fill="#e1fa00"/>
<rect x="463.03" y="134.82" width="9.89" height="9.45" fill="#f9f600"/>
<rect x="471.92" y="134.82" width="9.89" height="9.45" fill="#f9f600"/>
<rect x="480.81" y="134.82" width="9.89" height="9.45" fill="#fff000"/>
<rect x="489.69" y="134.82" width="9.89" height="9.45" fill="#ff7800"/>
<rect x="498.58" y="134.82" width="9.89" height="9.45" fill="#ff4600"/>
<rect x="507.47" y="134.82" width="9.89" height="9.45" fill="#ff7800"/>
<rect x="516.36" y="134.82" width="5.44" height="9.45" fill="#ffd400"/>
<rect x="329.72" y="143.28" width="9.89" height="9.45" fill="#a40000"/>
<rect x="338.61" y="143.28" width="9.89" height="9.45" fill="#a40000"/>
<rect x="347.49" y="143.28" width="9.89" height="9.45" fill="#a40000"/>
<rect x="356.38" y="143.28" width="9.89" height="9.45" fill="#a40000"/>
<rect x="365.27" y="143.28" width="9.89" height="9.45" fill="#a40000"/>
<rect x="374.16" y="143.28" width="9.89" height="9.45" fill="#fc1400"/>
<rect x="383.04" y="143.28" width="9.89" height="9.45" fill="#fff000"/>
<rect x="391.93" y="143.28" width="9.89" height="9.45" fill="#19f17b"/>
<rect x="400.82" y="143.28" width="9.89" height="9.45" fill="#07f293"/>
<rect x="409.71" y="143.28" width="9.89" height="9.45" fill="#0af087"/>
<rect x="418.59" y="143.28" width="9.89" height="9.45" fill="#19f17b"/>
<rect x="427.48" y="143.28" width="9.89" height="9.45" fill="#46f555"/>
<rect x="436.37" y="143.28" width="9.89" height="9.45" fill="#a0fa28"/>
<rect x="445.26" y="143.28" width="9.89" height="9.45" fill="#a0fa28"/>
<rect x="454.14" y="143.28" width="9.89" height="9.45" fill="#a0fa28"/>
<rect x="463.03" y="143.28" width="9.89" height="9.45" fill="#a0fa28"/>
<rect x="471.92" y="143.28" width="9.89" height="9.45" fill="#a0fa28"/>
<rect x="480.81" y="143.28" width="9.89" height="9.45" fill="#c7fa10"/>
<rect x="489.69" y="143.28" width="9.89" height="9.45" fill="#ffbf00"/>
<rect x="498.58" y="143.28" width="9.89" height="9.45" fill="#ff9600"/>
<rect x="507.47" y="143.28" width="9.89" height="9.45" fill="#fff000"/>
<rect x="516.36" y="143.28" width="5.44" height="9.45" fill="#07f293"/>
<rect x="338.61" y="151.72" width="9.89" height="9.45" fill="#a40000"/>
<rect x="347.49" y="151.72" width="9.89" height="9.45" fill="#a40000"/>
<rect x="356.38" y="151.72" width="9.89" height="9.45" fill="#a40000"/>
<rect x="365.27" y="151.72" width="9.89" height="9.45" fill="#a40000"/>
<rect x="374.16" y="151.72" width="9.89" height="9.45" fill="#f20400"/>
<rect x="383.04" y="151.72" width="9.89" height="9.45" fill="#ffd400"/>
<rect x="391.93" y="151.72" width="9.89" height="9.45" fill="#a0fa28"/>
<rect x="400.82" y="151.72" width="9.89" height="9.45" fill="#46f555"/>
<rect x="409.71" y="151.72" width="9.89" height="9.45" fill="#46f555"/>
<rect x="418.59" y="151.72" width="9.89" height="9.45" fill="#46f555"/>
<rect x="427.48" y="151.72" width="9.89" height="9.45" fill="#19f17b"/>
<rect x="436.37" y="151.72" width="9.89" height="9.45" fill="#0af087"/>
<rect x="445.26" y="151.72" width="9.89" height="9.45" fill="#0af087"/>
<rect x="454.14" y="151.72" width="9.89" height="9.45" fill="#0af087"/>
<rect x="463.03" y="151.72" width="9.89" height="9.45" fill="#0af087"/>
<rect x="471.92" y="151.72" width="9.89" height="9.45" fill="#46f555"/>
<rect x="480.81" y="151.72" width="9.89" height="9.45" fill="#a0fa28"/>
<rect x="489.69" y="151.72" width="9.89" height="9.45" fill="#f9f600"/>
<rect x="498.58" y="151.72" width="9.89" height="9.45" fill="#e1fa00"/>
<rect x="507.47" y="151.72" width="9.89" height="9.45" fill="#a0fa28"/>
<rect x="516.36" y="151.72" width="5.44" height="9.45" fill="#07f293"/>
<rect x="338.61" y="160.18" width="9.89" height="9.45" fill="#a40000"/>
<rect x="347.49" y="160.18" width="9.89" height="9.45" fill="#a40000"/>
<rect x="356.38" y="160.18" width="9.89" height="9.45" fill="#a40000"/>
<rect x="365.27" y="160.18" width="9.89" height="9.45" fill="#a40000"/>
<rect x="374.16" y="160.18" width="9.89" height="9.45" fill="#f20400"/>
<rect x="383.04" y="160.18" width="9.89" height="9.45" fill="#ff9600"/>
<rect x="391.93" y="160.18" width="9.89" height="9.45" fill="#f9f600"/>
<rect x="400.82" y="160.18" width="9.89" height="9.45" fill="#e1fa00"/>
<rect x="409.71" y="160.18" width="9.89" height="9.45" fill="#c7fa10"/>
<rect x="418.59" y="160.18" width="9.89" height="9.45" fill="#6af743"/>
<rect x="427.48" y="160.18" width="9.89" height="9.45" fill="#46f555"/>
<rect x="436.37" y="160.18" width="9.89" height="9.45" fill="#07f293"/>
<rect x="445.26" y="160.18" width="9.89" height="9.45" fill="#07f293"/>
<rect x="454.14" y="160.18" width="9.89" height="9.45" fill="#07f293"/>
<rect x="463.03" y="160.18" width="9.89" height="9.45" fill="#07f293"/>
<rect x="471.92" y="160.18" width="9.89" height="9.45" fill="#19f17b"/>
<rect x="480.81" y="160.18" width="9.89" height="9.45" fill="#46f555"/>
<rect x="489.69" y="160.18" width="9.89" height="9.45" fill="#6af743"/>
<rect x="498.58" y="160.18" width="9.89" height="9.45" fill="#6af743"/>
<rect x="507.47" y="160.18" width="9.89" height="9.45" fill="#46f555"/>
<rect x="356.38" y="168.62" width="9.89" height="9.45" fill="#a40000"/>
<rect x="365.27" y="168.62" width="9.89" height="9.45" fill="#a40000"/>
<rect x="374.16" y="168.62" width="9.89" height="9.45" fill="#f20400"/>
<rect x="383.04" y="168.62" width="9.89" height="9.45" fill="#ff7800"/>
<rect x="391.93" y="168.62" width="9.89" height="9.45" fill="#ffaa00"/>
<rect x="400.82" y="168.62" width="9.89" height="9.45" fill="#ffd400"/>
<rect x="409.71" y="168.62" width="9.89" height="9.45" fill="#ff9600"/>
<rect x="418.59" y="168.62" width="9.89" height="9.45" fill="#ffde00"/>
<rect x="427.48" y="168.62" width="9.89" height="9.45" fill="#e1fa00"/>
<rect x="436.37" y="168.62" width="9.89" height="9.45" fill="#a0fa28"/>
<rect x="445.26" y="168.62" width="9.89" height="9.45" fill="#0af087"/>
<rect x="454.14" y="168.62" width="9.89" height="9.45" fill="#0af087"/>
<rect x="463.03" y="168.62" width="9.89" height="9.45" fill="#0af087"/>
<rect x="471.92" y="168.62" width="9.89" height="9.45" fill="#0af087"/>
<rect x="480.81" y="168.62" width="9.89" height="9.45" fill="#0af087"/>
<rect x="489.69" y="168.62" width="9.89" height="9.45" fill="#19f17b"/>
<rect x="498.58" y="168.62" width="9.89" height="9.45" fill="#19f17b"/>
<rect x="507.47" y="168.62" width="9.89" height="9.45" fill="#19f17b"/>
<rect x="365.27" y="177.07" width="9.89" height="5.23" fill="#f20400"/>
<rect x="374.16" y="177.07" width="9.89" height="5.23" fill="#fc1400"/>
<rect x="383.04" y="177.07" width="9.89" height="5.23" fill="#ff7800"/>
<rect x="391.93" y="177.07" width="9.89" height="5.23" fill="#ffaa00"/>
<rect x="400.82" y="177.07" width="9.89" height="5.23" fill="#ffd400"/>
<rect x="409.71" y="177.07" width="9.89" height="5.23" fill="#ff9600"/>
<rect x="418.59" y="177.07" width="9.89" height="5.23" fill="#ffbf00"/>
<rect x="427.48" y="177.07" width="9.89" height="5.23" fill="#f9f600"/>
<rect x="436.37" y="177.07" width="9.89" height="5.23" fill="#a0fa28"/>
<rect x="445.26" y="177.07" width="9.89" height="5.23" fill="#19f17b"/>
<rect x="454.14" y="177.07" width="9.89" height="5.23" fill="#0af087"/>
<rect x="463.03" y="177.07" width="9.89" height="5.23" fill="#0af087"/>
<rect x="471.92" y="177.07" width="9.89" height="5.23" fill="#0af087"/>
<rect x="480.81" y="177.07" width="9.89" height="5.23" fill="#0af087"/>
<rect x="489.69" y="177.07" width="9.89" height="5.23" fill="#0af087"/></g>
<g clip-path="url(#cpb)" fill="none" stroke="#111" stroke-width="0.9" stroke-linejoin="round">
<path d="M320.8 61.1 L323.9 61.1 L327.2 60.1 L329.2 59.2 L327.9 57.5 L330.5 55.5 L333.2 53.9 L335.1 50.9 L337.1 48.3 L339.5 45.7 L340.4 42.4 L342.4 39.7 L345.0 37.1 L348.3 35.1 L352.9 34.2 L358.2 33.4 L362.1 32.5 L365.4 32.5 L367.1 31.4 L368.7 33.2 L372.6 34.5 L375.9 35.1 L379.2 34.5 L383.2 33.8 L387.1 33.2 L390.3 33.4 L395.5 34.0 L399.5 33.7 L402.1 32.4 L407.4 31.7 L412.0 33.0 L414.6 35.0 L415.9 37.6 L417.9 38.7 L419.9 37.0 L420.5 35.7 L423.2 38.3 L425.8 40.9 L428.4 42.9 L431.0 42.2 L433.6 41.4 L437.3 42.7 L440.9 43.6 L443.6 46.4 L447.3 48.6 L450.5 49.1 L453.2 49.1 L454.1 47.3 L456.4 44.5 L454.5 41.8 L452.3 38.2 L450.9 35.9 L450.5 34.5 L452.7 34.5 L457.3 34.1 L459.1 31.8 L459.1 30.5 L461.4 31.4 L464.5 30.9 L466.4 29.1 L468.6 26.4 L470.5 29.1 L471.8 30.9 L475.5 32.3 L477.7 34.5 L479.5 36.8 L483.6 35.0 L486.2 33.0 L489.5 31.7 L492.1 31.1 L495.4 28.4 L497.4 26.4 L500.0 27.8 L502.0 26.4 L504.0 24.5 L502.6 29.7 L500.7 33.7 L499.3 37.6 L498.0 42.2 L499.3 46.8 L501.3 50.8 L503.3 54.7 L505.3 58.7 L506.8 62.0 L507.5 66.1 L506.0 72.3 L503.7 76.9 L502.9 83.0 L505.2 87.6 L506.0 93.7 L505.2 99.1 L502.9 102.9 L500.6 105.2 L498.3 103.7 L494.5 103.7 L490.7 105.2 L487.6 108.3 L483.0 110.6 L479.2 111.4 L476.9 112.9 L473.8 114.4 L467.7 114.4 L466.2 114.6 L465.5 117.9 L464.9 122.5 L461.6 123.8 L457.6 123.2 L455.0 122.5 L451.7 121.8 L449.1 123.8 L444.5 125.8 L443.8 127.8 L445.1 131.1 L445.8 136.3 L447.1 139.6 L450.4 142.2 L454.3 144.2 L456.3 146.8 L455.7 150.8 L456.3 154.1 L453.7 153.4 L450.4 152.1 L448.4 151.4 L447.1 152.8 L445.1 150.8 L443.8 148.2 L441.8 146.2 L439.2 146.8 L436.2 147.6 L431.1 148.9 L427.3 151.5 L423.4 151.5 L419.6 149.5 L417.1 150.2 L416.4 152.7 L417.7 155.9 L415.2 157.2 L412.0 159.7 L408.2 162.3 L401.8 162.9 L398.0 164.2 L395.4 166.7 L389.9 165.2 L383.5 163.4 L379.8 162.8 L375.9 164.0 L372.2 166.4 L369.6 165.9 L367.0 164.7 L364.5 164.0 L362.0 161.7 L362.6 159.2 L365.2 156.8 L367.0 153.2 L367.7 148.4 L366.4 144.2 L363.2 142.3 L360.1 143.0 L358.1 146.0 L356.9 149.6 L354.3 151.9 L350.5 151.4 L347.3 149.6 L346.0 146.0 L346.7 142.3 L345.4 139.9 L346.0 136.3 L344.7 131.5 L342.8 129.0 L341.5 125.5 L339.6 121.8 L340.0 121.0 L337.7 116.3 L336.1 111.7 L333.8 105.6 L332.3 101.0 L330.8 97.9 L327.7 93.3 L326.2 88.7 L326.9 84.1 L325.4 79.5 L323.1 74.9 L321.6 70.3 L320.8 65.7Z"/>
<path d="M420.5 35.7 L424.5 33.7 L429.1 31.7 L431.7 28.4 L433.0 24.5 L433.6 21.5 L432.7 18.5 L433.7 16.6 L435.0 14.0 L436.3 11.3"/>
<path d="M504.0 24.5 L504.6 21.8 L504.0 19.9 L504.6 17.9 L506.6 15.9 L504.6 14.6 L503.3 13.3 L502.6 12.0"/>
<path d="M307.5 94.5 L308.5 95.6 L311.6 98.0 L314.7 101.0 L317.0 104.1 L318.5 107.9"/>
<path d="M395.4 166.7 L397.4 169.3 L399.9 172.4 L401.2 175.6 L403.1 174.4 L405.6 173.3 L408.8 175.6 L412.0 177.5 L414.5 179.4 L416.4 181.3"/>
<path d="M374.1 163.5 L375.6 166.5 L378.5 167.2 L380.7 169.4 L381.5 173.8 L380.7 178.2 L380.0 181.3"/>
<path d="M473.5 181.3 L476.5 175.8 L475.8 171.3 L477.3 166.8 L479.5 166.1 L483.2 165.3 L485.5 164.6 L487.7 166.8 L489.9 168.3 L493.7 167.6 L498.9 165.3 L504.1 162.4 L510.0 159.4 L514.5 157.1 L520.8 157.1"/>
<path d="M320.5 110.5 L321.5 110.0 L322.0 111.5 L321.0 112.0 L320.5 110.5"/>
<path d="M326.5 122.5 L327.5 122.0 L328.0 123.5 L327.0 124.0 L326.5 122.5"/>
<path d="M345.0 133.5 L346.0 134.0 L345.8 136.0 L345.0 135.5 L345.0 133.5"/>
<path d="M352.3 152.5 L353.0 153.0 L352.8 154.0 L352.3 152.5"/>
</g>
<text x="414.1" y="10.5" class="ttl" text-anchor="middle">Annual Precipitation</text>
<text x="302.9" y="14.7" class="tk" text-anchor="end">15</text>
<line x1="305.6" y1="12.3" x2="307.5" y2="12.3" class="tick"/>
<text x="302.9" y="31.6" class="tk" text-anchor="end">14.5</text>
<line x1="305.6" y1="29.2" x2="307.5" y2="29.2" class="tick"/>
<text x="302.9" y="48.5" class="tk" text-anchor="end">14</text>
<line x1="305.6" y1="46.1" x2="307.5" y2="46.1" class="tick"/>
<text x="302.9" y="65.4" class="tk" text-anchor="end">13.5</text>
<line x1="305.6" y1="63.0" x2="307.5" y2="63.0" class="tick"/>
<text x="302.9" y="82.3" class="tk" text-anchor="end">13</text>
<line x1="305.6" y1="79.9" x2="307.5" y2="79.9" class="tick"/>
<text x="302.9" y="99.2" class="tk" text-anchor="end">12.5</text>
<line x1="305.6" y1="96.8" x2="307.5" y2="96.8" class="tick"/>
<text x="302.9" y="116.1" class="tk" text-anchor="end">12</text>
<line x1="305.6" y1="113.7" x2="307.5" y2="113.7" class="tick"/>
<text x="302.9" y="133.0" class="tk" text-anchor="end">11.5</text>
<line x1="305.6" y1="130.6" x2="307.5" y2="130.6" class="tick"/>
<text x="302.9" y="149.9" class="tk" text-anchor="end">11</text>
<line x1="305.6" y1="147.5" x2="307.5" y2="147.5" class="tick"/>
<text x="302.9" y="166.8" class="tk" text-anchor="end">10.5</text>
<line x1="305.6" y1="164.4" x2="307.5" y2="164.4" class="tick"/>
<text x="302.9" y="183.7" class="tk" text-anchor="end">10</text>
<line x1="305.6" y1="181.3" x2="307.5" y2="181.3" class="tick"/>
<text x="307.5" y="192.8" class="tk" text-anchor="middle">102</text>
<line x1="307.5" y1="181.3" x2="307.5" y2="183.2" class="tick"/>
<text x="343.1" y="192.8" class="tk" text-anchor="middle">103</text>
<line x1="343.1" y1="181.3" x2="343.1" y2="183.2" class="tick"/>
<text x="378.6" y="192.8" class="tk" text-anchor="middle">104</text>
<line x1="378.6" y1="181.3" x2="378.6" y2="183.2" class="tick"/>
<text x="414.1" y="192.8" class="tk" text-anchor="middle">105</text>
<line x1="414.1" y1="181.3" x2="414.1" y2="183.2" class="tick"/>
<text x="449.7" y="192.8" class="tk" text-anchor="middle">106</text>
<line x1="449.7" y1="181.3" x2="449.7" y2="183.2" class="tick"/>
<text x="485.2" y="192.8" class="tk" text-anchor="middle">107</text>
<line x1="485.2" y1="181.3" x2="485.2" y2="183.2" class="tick"/>
<text x="520.8" y="192.8" class="tk" text-anchor="middle">108</text>
<line x1="520.8" y1="181.3" x2="520.8" y2="183.2" class="tick"/>
<line x1="307.5" y1="12.3" x2="307.5" y2="181.3" class="ax"/>
<line x1="307.5" y1="181.3" x2="520.8" y2="181.3" class="ax"/>
<rect x="521.8" y="40.9" width="8.2" height="113.0" fill="url(#jet)" stroke="#777" stroke-width="0.4"/>
<text x="532.8" y="43.8" class="tk">3000</text>
<text x="532.8" y="62.6" class="tk">2500</text>
<text x="532.8" y="81.5" class="tk">2000</text>
<text x="532.8" y="100.3" class="tk">1500</text>
<text x="532.8" y="119.1" class="tk">1000</text>
<text x="532.8" y="138.0" class="tk">500</text>
<text x="532.8" y="156.8" class="tk">0</text>
<text x="525.9" y="37.5" class="tk" text-anchor="middle">[mm]</text>
<g clip-path="url(#cpc)"><rect x="28.50" y="241.80" width="5.44" height="5.22" fill="#c7fa10"/>
<rect x="32.94" y="241.80" width="9.88" height="5.22" fill="#c7fa10"/>
<rect x="41.82" y="241.80" width="9.88" height="5.22" fill="#c7fa10"/>
<rect x="50.70" y="241.80" width="9.88" height="5.22" fill="#f9f600"/>
<rect x="59.58" y="241.80" width="9.88" height="5.22" fill="#f9f600"/>
<rect x="68.46" y="241.80" width="9.88" height="5.22" fill="#f9f600"/>
<rect x="77.34" y="241.80" width="9.88" height="5.22" fill="#f9f600"/>
<rect x="86.21" y="241.80" width="9.88" height="5.22" fill="#f9f600"/>
<rect x="95.09" y="241.80" width="9.88" height="5.22" fill="#f9f600"/>
<rect x="103.97" y="241.80" width="9.88" height="5.22" fill="#f9f600"/>
<rect x="112.85" y="241.80" width="9.88" height="5.22" fill="#f9f600"/>
<rect x="121.73" y="241.80" width="9.88" height="5.22" fill="#f9f600"/>
<rect x="130.61" y="241.80" width="9.88" height="5.22" fill="#f9f600"/>
<rect x="139.49" y="241.80" width="9.88" height="5.22" fill="#f9f600"/>
<rect x="148.37" y="241.80" width="9.88" height="5.22" fill="#f9f600"/>
<rect x="157.25" y="241.80" width="9.88" height="5.22" fill="#f9f600"/>
<rect x="166.13" y="241.80" width="9.88" height="5.22" fill="#f9f600"/>
<rect x="175.01" y="241.80" width="9.88" height="5.22" fill="#c7fa10"/>
<rect x="183.89" y="241.80" width="9.88" height="5.22" fill="#a0fa28"/>
<rect x="192.76" y="241.80" width="9.88" height="5.22" fill="#28f26e"/>
<rect x="201.64" y="241.80" width="9.88" height="5.22" fill="#07f293"/>
<rect x="210.52" y="241.80" width="9.88" height="5.22" fill="#6af743"/>
<rect x="219.40" y="241.80" width="9.88" height="5.22" fill="#07f293"/>
<rect x="228.28" y="241.80" width="9.88" height="5.22" fill="#00f0f9"/>
<rect x="237.16" y="241.80" width="5.44" height="5.22" fill="#0078ff"/>
<rect x="28.50" y="246.02" width="5.44" height="9.43" fill="#6af743"/>
<rect x="32.94" y="246.02" width="9.88" height="9.43" fill="#bafa18"/>
<rect x="41.82" y="246.02" width="9.88" height="9.43" fill="#c7fa10"/>
<rect x="50.70" y="246.02" width="9.88" height="9.43" fill="#c7fa10"/>
<rect x="59.58" y="246.02" width="9.88" height="9.43" fill="#e1fa00"/>
<rect x="68.46" y="246.02" width="9.88" height="9.43" fill="#e1fa00"/>
<rect x="77.34" y="246.02" width="9.88" height="9.43" fill="#e1fa00"/>
<rect x="86.21" y="246.02" width="9.88" height="9.43" fill="#e1fa00"/>
<rect x="95.09" y="246.02" width="9.88" height="9.43" fill="#c7fa10"/>
<rect x="103.97" y="246.02" width="9.88" height="9.43" fill="#adfa20"/>
<rect x="112.85" y="246.02" width="9.88" height="9.43" fill="#adfa20"/>
<rect x="121.73" y="246.02" width="9.88" height="9.43" fill="#c7fa10"/>
<rect x="130.61" y="246.02" width="9.88" height="9.43" fill="#c7fa10"/>
<rect x="139.49" y="246.02" width="9.88" height="9.43" fill="#6af743"/>
<rect x="148.37" y="246.02" width="9.88" height="9.43" fill="#e1fa00"/>
<rect x="157.25" y="246.02" width="9.88" height="9.43" fill="#e1fa00"/>
<rect x="166.13" y="246.02" width="9.88" height="9.43" fill="#e1fa00"/>
<rect x="175.01" y="246.02" width="9.88" height="9.43" fill="#c7fa10"/>
<rect x="183.89" y="246.02" width="9.88" height="9.43" fill="#a0fa28"/>
<rect x="192.76" y="246.02" width="9.88" height="9.43" fill="#46f555"/>
<rect x="201.64" y="246.02" width="9.88" height="9.43" fill="#46f555"/>
<rect x="210.52" y="246.02" width="9.88" height="9.43" fill="#07f293"/>
<rect x="219.40" y="246.02" width="9.88" height="9.43" fill="#07f293"/>
<rect x="228.28" y="246.02" width="9.88" height="9.43" fill="#07f293"/>
<rect x="237.16" y="246.02" width="5.44" height="9.43" fill="#00f7bc"/>
<rect x="28.50" y="254.44" width="5.44" height="9.43" fill="#46f555"/>
<rect x="32.94" y="254.44" width="9.88" height="9.43" fill="#46f555"/>
<rect x="41.82" y="254.44" width="9.88" height="9.43" fill="#a0fa28"/>
<rect x="50.70" y="254.44" width="9.88" height="9.43" fill="#c7fa10"/>
<rect x="59.58" y="254.44" width="9.88" height="9.43" fill="#e1fa00"/>
<rect x="68.46" y="254.44" width="9.88" height="9.43" fill="#e1fa00"/>
<rect x="77.34" y="254.44" width="9.88" height="9.43" fill="#e1fa00"/>
<rect x="86.21" y="254.44" width="9.88" height="9.43" fill="#e1fa00"/>
<rect x="95.09" y="254.44" width="9.88" height="9.43" fill="#c7fa10"/>
<rect x="103.97" y="254.44" width="9.88" height="9.43" fill="#a0fa28"/>
<rect x="112.85" y="254.44" width="9.88" height="9.43" fill="#a0fa28"/>
<rect x="121.73" y="254.44" width="9.88" height="9.43" fill="#e1fa00"/>
<rect x="130.61" y="254.44" width="9.88" height="9.43" fill="#e1fa00"/>
<rect x="139.49" y="254.44" width="9.88" height="9.43" fill="#e1fa00"/>
<rect x="148.37" y="254.44" width="9.88" height="9.43" fill="#f9f600"/>
<rect x="157.25" y="254.44" width="9.88" height="9.43" fill="#f9f600"/>
<rect x="166.13" y="254.44" width="9.88" height="9.43" fill="#f9f600"/>
<rect x="175.01" y="254.44" width="9.88" height="9.43" fill="#e1fa00"/>
<rect x="183.89" y="254.44" width="9.88" height="9.43" fill="#a0fa28"/>
<rect x="192.76" y="254.44" width="9.88" height="9.43" fill="#46f555"/>
<rect x="201.64" y="254.44" width="9.88" height="9.43" fill="#28f26e"/>
<rect x="210.52" y="254.44" width="9.88" height="9.43" fill="#07f293"/>
<rect x="219.40" y="254.44" width="9.88" height="9.43" fill="#07f293"/>
<rect x="228.28" y="254.44" width="9.88" height="9.43" fill="#00f7bc"/>
<rect x="237.16" y="254.44" width="5.44" height="9.43" fill="#00fae1"/>
<rect x="28.50" y="262.88" width="5.44" height="9.43" fill="#c7fa10"/>
<rect x="32.94" y="262.88" width="9.88" height="9.43" fill="#46f555"/>
<rect x="41.82" y="262.88" width="9.88" height="9.43" fill="#28f26e"/>
<rect x="50.70" y="262.88" width="9.88" height="9.43" fill="#c7fa10"/>
<rect x="59.58" y="262.88" width="9.88" height="9.43" fill="#f9f600"/>
<rect x="68.46" y="262.88" width="9.88" height="9.43" fill="#f9f600"/>
<rect x="77.34" y="262.88" width="9.88" height="9.43" fill="#f9f600"/>
<rect x="86.21" y="262.88" width="9.88" height="9.43" fill="#f9f600"/>
<rect x="95.09" y="262.88" width="9.88" height="9.43" fill="#f9f600"/>
<rect x="103.97" y="262.88" width="9.88" height="9.43" fill="#f9f600"/>
<rect x="112.85" y="262.88" width="9.88" height="9.43" fill="#f9f600"/>
<rect x="121.73" y="262.88" width="9.88" height="9.43" fill="#f9f600"/>
<rect x="130.61" y="262.88" width="9.88" height="9.43" fill="#f9f600"/>
<rect x="139.49" y="262.88" width="9.88" height="9.43" fill="#f9f600"/>
<rect x="148.37" y="262.88" width="9.88" height="9.43" fill="#f9f600"/>
<rect x="157.25" y="262.88" width="9.88" height="9.43" fill="#f9f600"/>
<rect x="166.13" y="262.88" width="9.88" height="9.43" fill="#f9f600"/>
<rect x="175.01" y="262.88" width="9.88" height="9.43" fill="#e1fa00"/>
<rect x="183.89" y="262.88" width="9.88" height="9.43" fill="#c7fa10"/>
<rect x="192.76" y="262.88" width="9.88" height="9.43" fill="#a0fa28"/>
<rect x="201.64" y="262.88" width="9.88" height="9.43" fill="#a0fa28"/>
<rect x="210.52" y="262.88" width="9.88" height="9.43" fill="#6af743"/>
<rect x="219.40" y="262.88" width="9.88" height="9.43" fill="#46f555"/>
<rect x="228.28" y="262.88" width="9.88" height="9.43" fill="#07f293"/>
<rect x="237.16" y="262.88" width="5.44" height="9.43" fill="#00f7bc"/>
<rect x="28.50" y="271.31" width="5.44" height="9.43" fill="#f9f600"/>
<rect x="32.94" y="271.31" width="9.88" height="9.43" fill="#f9f600"/>
<rect x="41.82" y="271.31" width="9.88" height="9.43" fill="#f9f600"/>
<rect x="50.70" y="271.31" width="9.88" height="9.43" fill="#f9f600"/>
<rect x="59.58" y="271.31" width="9.88" height="9.43" fill="#ffe700"/>
<rect x="68.46" y="271.31" width="9.88" height="9.43" fill="#ffe700"/>
<rect x="77.34" y="271.31" width="9.88" height="9.43" fill="#ffe700"/>
<rect x="86.21" y="271.31" width="9.88" height="9.43" fill="#fff000"/>
<rect x="95.09" y="271.31" width="9.88" height="9.43" fill="#fff000"/>
<rect x="103.97" y="271.31" width="9.88" height="9.43" fill="#fff000"/>
<rect x="112.85" y="271.31" width="9.88" height="9.43" fill="#fff000"/>
<rect x="121.73" y="271.31" width="9.88" height="9.43" fill="#fff000"/>
<rect x="130.61" y="271.31" width="9.88" height="9.43" fill="#f9f600"/>
<rect x="139.49" y="271.31" width="9.88" height="9.43" fill="#f9f600"/>
<rect x="148.37" y="271.31" width="9.88" height="9.43" fill="#fff000"/>
<rect x="157.25" y="271.31" width="9.88" height="9.43" fill="#f9f600"/>
<rect x="166.13" y="271.31" width="9.88" height="9.43" fill="#f9f600"/>
<rect x="175.01" y="271.31" width="9.88" height="9.43" fill="#e1fa00"/>
<rect x="183.89" y="271.31" width="9.88" height="9.43" fill="#e1fa00"/>
<rect x="192.76" y="271.31" width="9.88" height="9.43" fill="#c7fa10"/>
<rect x="201.64" y="271.31" width="9.88" height="9.43" fill="#adfa20"/>
<rect x="210.52" y="271.31" width="9.88" height="9.43" fill="#a0fa28"/>
<rect x="219.40" y="271.31" width="9.88" height="9.43" fill="#46f555"/>
<rect x="228.28" y="271.31" width="9.88" height="9.43" fill="#46f555"/>
<rect x="237.16" y="271.31" width="5.44" height="9.43" fill="#07f293"/>
<rect x="28.50" y="279.74" width="5.44" height="9.43" fill="#f9f600"/>
<rect x="32.94" y="279.74" width="9.88" height="9.43" fill="#f9f600"/>
<rect x="41.82" y="279.74" width="9.88" height="9.43" fill="#f9f600"/>
<rect x="50.70" y="279.74" width="9.88" height="9.43" fill="#f9f600"/>
<rect x="59.58" y="279.74" width="9.88" height="9.43" fill="#ffde00"/>
<rect x="68.46" y="279.74" width="9.88" height="9.43" fill="#ffde00"/>
<rect x="77.34" y="279.74" width="9.88" height="9.43" fill="#ffe700"/>
<rect x="86.21" y="279.74" width="9.88" height="9.43" fill="#ffe700"/>
<rect x="95.09" y="279.74" width="9.88" height="9.43" fill="#ffe700"/>
<rect x="103.97" y="279.74" width="9.88" height="9.43" fill="#c7fa10"/>
<rect x="112.85" y="279.74" width="9.88" height="9.43" fill="#f9f600"/>
<rect x="121.73" y="279.74" width="9.88" height="9.43" fill="#c7fa10"/>
<rect x="130.61" y="279.74" width="9.88" height="9.43" fill="#f9f600"/>
<rect x="139.49" y="279.74" width="9.88" height="9.43" fill="#f9f600"/>
<rect x="148.37" y="279.74" width="9.88" height="9.43" fill="#fff000"/>
<rect x="157.25" y="279.74" width="9.88" height="9.43" fill="#fff000"/>
<rect x="166.13" y="279.74" width="9.88" height="9.43" fill="#f9f600"/>
<rect x="175.01" y="279.74" width="9.88" height="9.43" fill="#f9f600"/>
<rect x="183.89" y="279.74" width="9.88" height="9.43" fill="#e1fa00"/>
<rect x="192.76" y="279.74" width="9.88" height="9.43" fill="#c7fa10"/>
<rect x="201.64" y="279.74" width="9.88" height="9.43" fill="#bafa18"/>
<rect x="210.52" y="279.74" width="9.88" height="9.43" fill="#a0fa28"/>
<rect x="219.40" y="279.74" width="9.88" height="9.43" fill="#6af743"/>
<rect x="228.28" y="279.74" width="9.88" height="9.43" fill="#46f555"/>
<rect x="237.16" y="279.74" width="5.44" height="9.43" fill="#28f26e"/>
<rect x="28.50" y="288.17" width="5.44" height="9.43" fill="#f9f600"/>
<rect x="32.94" y="288.17" width="9.88" height="9.43" fill="#e1fa00"/>
<rect x="41.82" y="288.17" width="9.88" height="9.43" fill="#f9f600"/>
<rect x="50.70" y="288.17" width="9.88" height="9.43" fill="#f9f600"/>
<rect x="59.58" y="288.17" width="9.88" height="9.43" fill="#fff000"/>
<rect x="68.46" y="288.17" width="9.88" height="9.43" fill="#ffe700"/>
<rect x="77.34" y="288.17" width="9.88" height="9.43" fill="#ffe700"/>
<rect x="86.21" y="288.17" width="9.88" height="9.43" fill="#ffe700"/>
<rect x="95.09" y="288.17" width="9.88" height="9.43" fill="#ffe700"/>
<rect x="103.97" y="288.17" width="9.88" height="9.43" fill="#fff000"/>
<rect x="112.85" y="288.17" width="9.88" height="9.43" fill="#ffe700"/>
<rect x="121.73" y="288.17" width="9.88" height="9.43" fill="#ffe700"/>
<rect x="130.61" y="288.17" width="9.88" height="9.43" fill="#ffe700"/>
<rect x="139.49" y="288.17" width="9.88" height="9.43" fill="#ffe700"/>
<rect x="148.37" y="288.17" width="9.88" height="9.43" fill="#ffe700"/>
<rect x="157.25" y="288.17" width="9.88" height="9.43" fill="#fff000"/>
<rect x="166.13" y="288.17" width="9.88" height="9.43" fill="#f9f600"/>
<rect x="175.01" y="288.17" width="9.88" height="9.43" fill="#f9f600"/>
<rect x="183.89" y="288.17" width="9.88" height="9.43" fill="#e1fa00"/>
<rect x="192.76" y="288.17" width="9.88" height="9.43" fill="#c7fa10"/>
<rect x="201.64" y="288.17" width="9.88" height="9.43" fill="#bafa18"/>
<rect x="210.52" y="288.17" width="9.88" height="9.43" fill="#a0fa28"/>
<rect x="219.40" y="288.17" width="9.88" height="9.43" fill="#6af743"/>
<rect x="228.28" y="288.17" width="9.88" height="9.43" fill="#28f26e"/>
<rect x="237.16" y="288.17" width="5.44" height="9.43" fill="#19f17b"/>
<rect x="28.50" y="296.60" width="5.44" height="9.43" fill="#e1fa00"/>
<rect x="32.94" y="296.60" width="9.88" height="9.43" fill="#8ef931"/>
<rect x="41.82" y="296.60" width="9.88" height="9.43" fill="#c7fa10"/>
<rect x="50.70" y="296.60" width="9.88" height="9.43" fill="#e1fa00"/>
<rect x="59.58" y="296.60" width="9.88" height="9.43" fill="#f9f600"/>
<rect x="68.46" y="296.60" width="9.88" height="9.43" fill="#f9f600"/>
<rect x="77.34" y="296.60" width="9.88" height="9.43" fill="#fff000"/>
<rect x="86.21" y="296.60" width="9.88" height="9.43" fill="#ffe700"/>
<rect x="95.09" y="296.60" width="9.88" height="9.43" fill="#ffe700"/>
<rect x="103.97" y="296.60" width="9.88" height="9.43" fill="#ffe700"/>
<rect x="112.85" y="296.60" width="9.88" height="9.43" fill="#ffde00"/>
<rect x="121.73" y="296.60" width="9.88" height="9.43" fill="#ffde00"/>
<rect x="130.61" y="296.60" width="9.88" height="9.43" fill="#ffde00"/>
<rect x="139.49" y="296.60" width="9.88" height="9.43" fill="#ffde00"/>
<rect x="148.37" y="296.60" width="9.88" height="9.43" fill="#ffe700"/>
<rect x="157.25" y="296.60" width="9.88" height="9.43" fill="#fff000"/>
<rect x="166.13" y="296.60" width="9.88" height="9.43" fill="#f9f600"/>
<rect x="175.01" y="296.60" width="9.88" height="9.43" fill="#f9f600"/>
<rect x="183.89" y="296.60" width="9.88" height="9.43" fill="#e1fa00"/>
<rect x="192.76" y="296.60" width="9.88" height="9.43" fill="#c7fa10"/>
<rect x="201.64" y="296.60" width="9.88" height="9.43" fill="#bafa18"/>
<rect x="210.52" y="296.60" width="9.88" height="9.43" fill="#a0fa28"/>
<rect x="219.40" y="296.60" width="9.88" height="9.43" fill="#6af743"/>
<rect x="228.28" y="296.60" width="9.88" height="9.43" fill="#28f26e"/>
<rect x="237.16" y="296.60" width="5.44" height="9.43" fill="#19f17b"/>
<rect x="28.50" y="305.02" width="5.44" height="9.43" fill="#e1fa00"/>
<rect x="32.94" y="305.02" width="9.88" height="9.43" fill="#8ef931"/>
<rect x="41.82" y="305.02" width="9.88" height="9.43" fill="#a0fa28"/>
<rect x="50.70" y="305.02" width="9.88" height="9.43" fill="#e1fa00"/>
<rect x="59.58" y="305.02" width="9.88" height="9.43" fill="#e1fa00"/>
<rect x="68.46" y="305.02" width="9.88" height="9.43" fill="#f9f600"/>
<rect x="77.34" y="305.02" width="9.88" height="9.43" fill="#fff000"/>
<rect x="86.21" y="305.02" width="9.88" height="9.43" fill="#ffe700"/>
<rect x="95.09" y="305.02" width="9.88" height="9.43" fill="#ffde00"/>
<rect x="103.97" y="305.02" width="9.88" height="9.43" fill="#ffde00"/>
<rect x="112.85" y="305.02" width="9.88" height="9.43" fill="#ffd400"/>
<rect x="121.73" y="305.02" width="9.88" height="9.43" fill="#ffd400"/>
<rect x="130.61" y="305.02" width="9.88" height="9.43" fill="#ffd400"/>
<rect x="139.49" y="305.02" width="9.88" height="9.43" fill="#ffd400"/>
<rect x="148.37" y="305.02" width="9.88" height="9.43" fill="#ffe700"/>
<rect x="157.25" y="305.02" width="9.88" height="9.43" fill="#fff000"/>
<rect x="166.13" y="305.02" width="9.88" height="9.43" fill="#f9f600"/>
<rect x="175.01" y="305.02" width="9.88" height="9.43" fill="#f9f600"/>
<rect x="183.89" y="305.02" width="9.88" height="9.43" fill="#e1fa00"/>
<rect x="192.76" y="305.02" width="9.88" height="9.43" fill="#c7fa10"/>
<rect x="201.64" y="305.02" width="9.88" height="9.43" fill="#adfa20"/>
<rect x="210.52" y="305.02" width="9.88" height="9.43" fill="#8ef931"/>
<rect x="219.40" y="305.02" width="9.88" height="9.43" fill="#46f555"/>
<rect x="228.28" y="305.02" width="9.88" height="9.43" fill="#19f17b"/>
<rect x="237.16" y="305.02" width="5.44" height="9.43" fill="#07f293"/>
<rect x="28.50" y="313.45" width="5.44" height="9.43" fill="#e1fa00"/>
<rect x="32.94" y="313.45" width="9.88" height="9.43" fill="#e1fa00"/>
<rect x="41.82" y="313.45" width="9.88" height="9.43" fill="#c7fa10"/>
<rect x="50.70" y="313.45" width="9.88" height="9.43" fill="#a0fa28"/>
<rect x="59.58" y="313.45" width="9.88" height="9.43" fill="#adfa20"/>
<rect x="68.46" y="313.45" width="9.88" height="9.43" fill="#e1fa00"/>
<rect x="77.34" y="313.45" width="9.88" height="9.43" fill="#e1fa00"/>
<rect x="86.21" y="313.45" width="9.88" height="9.43" fill="#f9f600"/>
<rect x="95.09" y="313.45" width="9.88" height="9.43" fill="#ffe700"/>
<rect x="103.97" y="313.45" width="9.88" height="9.43" fill="#ffde00"/>
<rect x="112.85" y="313.45" width="9.88" height="9.43" fill="#ffd400"/>
<rect x="121.73" y="313.45" width="9.88" height="9.43" fill="#ffd400"/>
<rect x="130.61" y="313.45" width="9.88" height="9.43" fill="#ffc900"/>
<rect x="139.49" y="313.45" width="9.88" height="9.43" fill="#ffc900"/>
<rect x="148.37" y="313.45" width="9.88" height="9.43" fill="#ffde00"/>
<rect x="157.25" y="313.45" width="9.88" height="9.43" fill="#ffe700"/>
<rect x="166.13" y="313.45" width="9.88" height="9.43" fill="#fff000"/>
<rect x="175.01" y="313.45" width="9.88" height="9.43" fill="#f9f600"/>
<rect x="183.89" y="313.45" width="9.88" height="9.43" fill="#e1fa00"/>
<rect x="192.76" y="313.45" width="9.88" height="9.43" fill="#c7fa10"/>
<rect x="201.64" y="313.45" width="9.88" height="9.43" fill="#adfa20"/>
<rect x="210.52" y="313.45" width="9.88" height="9.43" fill="#6af743"/>
<rect x="219.40" y="313.45" width="9.88" height="9.43" fill="#0af087"/>
<rect x="228.28" y="313.45" width="9.88" height="9.43" fill="#03f39e"/>
<rect x="237.16" y="313.45" width="5.44" height="9.43" fill="#00f7bc"/>
<rect x="32.94" y="321.88" width="9.88" height="9.43" fill="#e1fa00"/>
<rect x="41.82" y="321.88" width="9.88" height="9.43" fill="#e1fa00"/>
<rect x="50.70" y="321.88" width="9.88" height="9.43" fill="#e1fa00"/>
<rect x="59.58" y="321.88" width="9.88" height="9.43" fill="#03f39e"/>
<rect x="68.46" y="321.88" width="9.88" height="9.43" fill="#46f555"/>
<rect x="77.34" y="321.88" width="9.88" height="9.43" fill="#a0fa28"/>
<rect x="86.21" y="321.88" width="9.88" height="9.43" fill="#e1fa00"/>
<rect x="95.09" y="321.88" width="9.88" height="9.43" fill="#e1fa00"/>
<rect x="103.97" y="321.88" width="9.88" height="9.43" fill="#f9f600"/>
<rect x="112.85" y="321.88" width="9.88" height="9.43" fill="#ffe700"/>
<rect x="121.73" y="321.88" width="9.88" height="9.43" fill="#ffd400"/>
<rect x="130.61" y="321.88" width="9.88" height="9.43" fill="#ffc900"/>
<rect x="139.49" y="321.88" width="9.88" height="9.43" fill="#ffc900"/>
<rect x="148.37" y="321.88" width="9.88" height="9.43" fill="#ffd400"/>
<rect x="157.25" y="321.88" width="9.88" height="9.43" fill="#ffe700"/>
<rect x="166.13" y="321.88" width="9.88" height="9.43" fill="#fff000"/>
<rect x="175.01" y="321.88" width="9.88" height="9.43" fill="#f9f600"/>
<rect x="183.89" y="321.88" width="9.88" height="9.43" fill="#e1fa00"/>
<rect x="192.76" y="321.88" width="9.88" height="9.43" fill="#bafa18"/>
<rect x="201.64" y="321.88" width="9.88" height="9.43" fill="#a0fa28"/>
<rect x="210.52" y="321.88" width="9.88" height="9.43" fill="#46f555"/>
<rect x="219.40" y="321.88" width="9.88" height="9.43" fill="#03f39e"/>
<rect x="228.28" y="321.88" width="9.88" height="9.43" fill="#00fae1"/>
<rect x="237.16" y="321.88" width="5.44" height="9.43" fill="#00f0f9"/>
<rect x="41.82" y="330.31" width="9.88" height="9.43" fill="#adfa20"/>
<rect x="50.70" y="330.31" width="9.88" height="9.43" fill="#e1fa00"/>
<rect x="59.58" y="330.31" width="9.88" height="9.43" fill="#00f5aa"/>
<rect x="68.46" y="330.31" width="9.88" height="9.43" fill="#07f293"/>
<rect x="77.34" y="330.31" width="9.88" height="9.43" fill="#0af087"/>
<rect x="86.21" y="330.31" width="9.88" height="9.43" fill="#46f555"/>
<rect x="95.09" y="330.31" width="9.88" height="9.43" fill="#a0fa28"/>
<rect x="103.97" y="330.31" width="9.88" height="9.43" fill="#7cf83a"/>
<rect x="112.85" y="330.31" width="9.88" height="9.43" fill="#ffe700"/>
<rect x="121.73" y="330.31" width="9.88" height="9.43" fill="#ffd400"/>
<rect x="130.61" y="330.31" width="9.88" height="9.43" fill="#ffc900"/>
<rect x="139.49" y="330.31" width="9.88" height="9.43" fill="#ffc900"/>
<rect x="148.37" y="330.31" width="9.88" height="9.43" fill="#ffd400"/>
<rect x="157.25" y="330.31" width="9.88" height="9.43" fill="#ffde00"/>
<rect x="166.13" y="330.31" width="9.88" height="9.43" fill="#ffe700"/>
<rect x="175.01" y="330.31" width="9.88" height="9.43" fill="#f9f600"/>
<rect x="183.89" y="330.31" width="9.88" height="9.43" fill="#e1fa00"/>
<rect x="192.76" y="330.31" width="9.88" height="9.43" fill="#bafa18"/>
<rect x="201.64" y="330.31" width="9.88" height="9.43" fill="#8ef931"/>
<rect x="210.52" y="330.31" width="9.88" height="9.43" fill="#0af087"/>
<rect x="219.40" y="330.31" width="9.88" height="9.43" fill="#03f39e"/>
<rect x="228.28" y="330.31" width="9.88" height="9.43" fill="#00fae1"/>
<rect x="237.16" y="330.31" width="5.44" height="9.43" fill="#00f0f9"/>
<rect x="59.58" y="338.75" width="9.88" height="9.43" fill="#6af743"/>
<rect x="68.46" y="338.75" width="9.88" height="9.43" fill="#46f555"/>
<rect x="77.34" y="338.75" width="9.88" height="9.43" fill="#07f293"/>
<rect x="86.21" y="338.75" width="9.88" height="9.43" fill="#00f7bc"/>
<rect x="95.09" y="338.75" width="9.88" height="9.43" fill="#28f26e"/>
<rect x="103.97" y="338.75" width="9.88" height="9.43" fill="#c7fa10"/>
<rect x="112.85" y="338.75" width="9.88" height="9.43" fill="#ffe700"/>
<rect x="121.73" y="338.75" width="9.88" height="9.43" fill="#ffd400"/>
<rect x="130.61" y="338.75" width="9.88" height="9.43" fill="#ffc900"/>
<rect x="139.49" y="338.75" width="9.88" height="9.43" fill="#ffc900"/>
<rect x="148.37" y="338.75" width="9.88" height="9.43" fill="#ffbf00"/>
<rect x="157.25" y="338.75" width="9.88" height="9.43" fill="#ffd400"/>
<rect x="166.13" y="338.75" width="9.88" height="9.43" fill="#ffe700"/>
<rect x="175.01" y="338.75" width="9.88" height="9.43" fill="#f9f600"/>
<rect x="183.89" y="338.75" width="9.88" height="9.43" fill="#e1fa00"/>
<rect x="192.76" y="338.75" width="9.88" height="9.43" fill="#adfa20"/>
<rect x="201.64" y="338.75" width="9.88" height="9.43" fill="#6af743"/>
<rect x="210.52" y="338.75" width="9.88" height="9.43" fill="#07f293"/>
<rect x="219.40" y="338.75" width="9.88" height="9.43" fill="#03f39e"/>
<rect x="228.28" y="338.75" width="9.88" height="9.43" fill="#00f7bc"/>
<rect x="237.16" y="338.75" width="5.44" height="9.43" fill="#00e1ff"/>
<rect x="50.70" y="347.17" width="9.88" height="9.43" fill="#bafa18"/>
<rect x="59.58" y="347.17" width="9.88" height="9.43" fill="#bafa18"/>
<rect x="68.46" y="347.17" width="9.88" height="9.43" fill="#6af743"/>
<rect x="77.34" y="347.17" width="9.88" height="9.43" fill="#6af743"/>
<rect x="86.21" y="347.17" width="9.88" height="9.43" fill="#6af743"/>
<rect x="95.09" y="347.17" width="9.88" height="9.43" fill="#bafa18"/>
<rect x="103.97" y="347.17" width="9.88" height="9.43" fill="#e1fa00"/>
<rect x="112.85" y="347.17" width="9.88" height="9.43" fill="#fff000"/>
<rect x="121.73" y="347.17" width="9.88" height="9.43" fill="#ffd400"/>
<rect x="130.61" y="347.17" width="9.88" height="9.43" fill="#ffc900"/>
<rect x="139.49" y="347.17" width="9.88" height="9.43" fill="#ffbf00"/>
<rect x="148.37" y="347.17" width="9.88" height="9.43" fill="#ffbf00"/>
<rect x="157.25" y="347.17" width="9.88" height="9.43" fill="#ffd400"/>
<rect x="166.13" y="347.17" width="9.88" height="9.43" fill="#ffe700"/>
<rect x="175.01" y="347.17" width="9.88" height="9.43" fill="#f9f600"/>
<rect x="183.89" y="347.17" width="9.88" height="9.43" fill="#e1fa00"/>
<rect x="192.76" y="347.17" width="9.88" height="9.43" fill="#adfa20"/>
<rect x="201.64" y="347.17" width="9.88" height="9.43" fill="#6af743"/>
<rect x="210.52" y="347.17" width="9.88" height="9.43" fill="#19f17b"/>
<rect x="219.40" y="347.17" width="9.88" height="9.43" fill="#07f293"/>
<rect x="228.28" y="347.17" width="9.88" height="9.43" fill="#00f5aa"/>
<rect x="237.16" y="347.17" width="5.44" height="9.43" fill="#00eaff"/>
<rect x="59.58" y="355.61" width="9.88" height="9.43" fill="#f9f600"/>
<rect x="68.46" y="355.61" width="9.88" height="9.43" fill="#f9f600"/>
<rect x="77.34" y="355.61" width="9.88" height="9.43" fill="#e1fa00"/>
<rect x="86.21" y="355.61" width="9.88" height="9.43" fill="#c7fa10"/>
<rect x="95.09" y="355.61" width="9.88" height="9.43" fill="#6af743"/>
<rect x="103.97" y="355.61" width="9.88" height="9.43" fill="#e1fa00"/>
<rect x="112.85" y="355.61" width="9.88" height="9.43" fill="#f9f600"/>
<rect x="121.73" y="355.61" width="9.88" height="9.43" fill="#ffe700"/>
<rect x="130.61" y="355.61" width="9.88" height="9.43" fill="#ffd400"/>
<rect x="139.49" y="355.61" width="9.88" height="9.43" fill="#ffc900"/>
<rect x="148.37" y="355.61" width="9.88" height="9.43" fill="#ffc900"/>
<rect x="157.25" y="355.61" width="9.88" height="9.43" fill="#ffd400"/>
<rect x="166.13" y="355.61" width="9.88" height="9.43" fill="#ffe700"/>
<rect x="175.01" y="355.61" width="9.88" height="9.43" fill="#f9f600"/>
<rect x="183.89" y="355.61" width="9.88" height="9.43" fill="#e1fa00"/>
<rect x="192.76" y="355.61" width="9.88" height="9.43" fill="#bafa18"/>
<rect x="201.64" y="355.61" width="9.88" height="9.43" fill="#6af743"/>
<rect x="210.52" y="355.61" width="9.88" height="9.43" fill="#46f555"/>
<rect x="219.40" y="355.61" width="9.88" height="9.43" fill="#19f17b"/>
<rect x="228.28" y="355.61" width="9.88" height="9.43" fill="#07f293"/>
<rect x="237.16" y="355.61" width="5.44" height="9.43" fill="#00f5aa"/>
<rect x="68.46" y="364.03" width="9.88" height="9.43" fill="#fff000"/>
<rect x="77.34" y="364.03" width="9.88" height="9.43" fill="#ffe700"/>
<rect x="86.21" y="364.03" width="9.88" height="9.43" fill="#fff000"/>
<rect x="95.09" y="364.03" width="9.88" height="9.43" fill="#e1fa00"/>
<rect x="103.97" y="364.03" width="9.88" height="9.43" fill="#e1fa00"/>
<rect x="112.85" y="364.03" width="9.88" height="9.43" fill="#f9f600"/>
<rect x="121.73" y="364.03" width="9.88" height="9.43" fill="#ffe700"/>
<rect x="130.61" y="364.03" width="9.88" height="9.43" fill="#ffde00"/>
<rect x="139.49" y="364.03" width="9.88" height="9.43" fill="#ffd400"/>
<rect x="148.37" y="364.03" width="9.88" height="9.43" fill="#ffd400"/>
<rect x="157.25" y="364.03" width="9.88" height="9.43" fill="#ffde00"/>
<rect x="166.13" y="364.03" width="9.88" height="9.43" fill="#ffe700"/>
<rect x="175.01" y="364.03" width="9.88" height="9.43" fill="#f9f600"/>
<rect x="183.89" y="364.03" width="9.88" height="9.43" fill="#e1fa00"/>
<rect x="192.76" y="364.03" width="9.88" height="9.43" fill="#c7fa10"/>
<rect x="201.64" y="364.03" width="9.88" height="9.43" fill="#a0fa28"/>
<rect x="210.52" y="364.03" width="9.88" height="9.43" fill="#46f555"/>
<rect x="219.40" y="364.03" width="9.88" height="9.43" fill="#19f17b"/>
<rect x="228.28" y="364.03" width="9.88" height="9.43" fill="#19f17b"/>
<rect x="237.16" y="364.03" width="5.44" height="9.43" fill="#07f293"/>
<rect x="68.46" y="372.46" width="9.88" height="9.43" fill="#fff000"/>
<rect x="77.34" y="372.46" width="9.88" height="9.43" fill="#ffe700"/>
<rect x="86.21" y="372.46" width="9.88" height="9.43" fill="#ffde00"/>
<rect x="95.09" y="372.46" width="9.88" height="9.43" fill="#e1fa00"/>
<rect x="103.97" y="372.46" width="9.88" height="9.43" fill="#e1fa00"/>
<rect x="112.85" y="372.46" width="9.88" height="9.43" fill="#f9f600"/>
<rect x="121.73" y="372.46" width="9.88" height="9.43" fill="#ffe700"/>
<rect x="130.61" y="372.46" width="9.88" height="9.43" fill="#ffe700"/>
<rect x="139.49" y="372.46" width="9.88" height="9.43" fill="#ffde00"/>
<rect x="148.37" y="372.46" width="9.88" height="9.43" fill="#ffde00"/>
<rect x="157.25" y="372.46" width="9.88" height="9.43" fill="#ffe700"/>
<rect x="166.13" y="372.46" width="9.88" height="9.43" fill="#ffe700"/>
<rect x="175.01" y="372.46" width="9.88" height="9.43" fill="#fff000"/>
<rect x="183.89" y="372.46" width="9.88" height="9.43" fill="#f9f600"/>
<rect x="192.76" y="372.46" width="9.88" height="9.43" fill="#e1fa00"/>
<rect x="201.64" y="372.46" width="9.88" height="9.43" fill="#bafa18"/>
<rect x="210.52" y="372.46" width="9.88" height="9.43" fill="#a0fa28"/>
<rect x="219.40" y="372.46" width="9.88" height="9.43" fill="#6af743"/>
<rect x="228.28" y="372.46" width="9.88" height="9.43" fill="#46f555"/>
<rect x="237.16" y="372.46" width="5.44" height="9.43" fill="#19f17b"/>
<rect x="68.46" y="380.89" width="9.88" height="9.43" fill="#ffe700"/>
<rect x="77.34" y="380.89" width="9.88" height="9.43" fill="#ffe700"/>
<rect x="86.21" y="380.89" width="9.88" height="9.43" fill="#ffe700"/>
<rect x="95.09" y="380.89" width="9.88" height="9.43" fill="#e1fa00"/>
<rect x="103.97" y="380.89" width="9.88" height="9.43" fill="#e1fa00"/>
<rect x="112.85" y="380.89" width="9.88" height="9.43" fill="#f9f600"/>
<rect x="121.73" y="380.89" width="9.88" height="9.43" fill="#fff000"/>
<rect x="130.61" y="380.89" width="9.88" height="9.43" fill="#ffe700"/>
<rect x="139.49" y="380.89" width="9.88" height="9.43" fill="#ffe700"/>
<rect x="148.37" y="380.89" width="9.88" height="9.43" fill="#ffe700"/>
<rect x="157.25" y="380.89" width="9.88" height="9.43" fill="#ffe700"/>
<rect x="166.13" y="380.89" width="9.88" height="9.43" fill="#ffe700"/>
<rect x="175.01" y="380.89" width="9.88" height="9.43" fill="#fff000"/>
<rect x="183.89" y="380.89" width="9.88" height="9.43" fill="#f9f600"/>
<rect x="192.76" y="380.89" width="9.88" height="9.43" fill="#e1fa00"/>
<rect x="201.64" y="380.89" width="9.88" height="9.43" fill="#c7fa10"/>
<rect x="210.52" y="380.89" width="9.88" height="9.43" fill="#adfa20"/>
<rect x="219.40" y="380.89" width="9.88" height="9.43" fill="#a0fa28"/>
<rect x="228.28" y="380.89" width="9.88" height="9.43" fill="#6af743"/>
<rect x="237.16" y="380.89" width="5.44" height="9.43" fill="#46f555"/>
<rect x="77.34" y="389.32" width="9.88" height="9.43" fill="#ffe700"/>
<rect x="86.21" y="389.32" width="9.88" height="9.43" fill="#ffe700"/>
<rect x="95.09" y="389.32" width="9.88" height="9.43" fill="#e1fa00"/>
<rect x="103.97" y="389.32" width="9.88" height="9.43" fill="#f9f600"/>
<rect x="112.85" y="389.32" width="9.88" height="9.43" fill="#f9f600"/>
<rect x="121.73" y="389.32" width="9.88" height="9.43" fill="#f9f600"/>
<rect x="130.61" y="389.32" width="9.88" height="9.43" fill="#ffe700"/>
<rect x="139.49" y="389.32" width="9.88" height="9.43" fill="#ffe700"/>
<rect x="148.37" y="389.32" width="9.88" height="9.43" fill="#ffe700"/>
<rect x="157.25" y="389.32" width="9.88" height="9.43" fill="#ffe700"/>
<rect x="166.13" y="389.32" width="9.88" height="9.43" fill="#fff000"/>
<rect x="175.01" y="389.32" width="9.88" height="9.43" fill="#f9f600"/>
<rect x="183.89" y="389.32" width="9.88" height="9.43" fill="#f9f600"/>
<rect x="192.76" y="389.32" width="9.88" height="9.43" fill="#e1fa00"/>
<rect x="201.64" y="389.32" width="9.88" height="9.43" fill="#c7fa10"/>
<rect x="210.52" y="389.32" width="9.88" height="9.43" fill="#bafa18"/>
<rect x="86.21" y="397.75" width="9.88" height="9.43" fill="#f9f600"/>
<rect x="95.09" y="397.75" width="9.88" height="9.43" fill="#f9f600"/>
<rect x="121.73" y="397.75" width="9.88" height="9.43" fill="#f9f600"/>
<rect x="130.61" y="397.75" width="9.88" height="9.43" fill="#fff000"/>
<rect x="139.49" y="397.75" width="9.88" height="9.43" fill="#ffe700"/>
<rect x="148.37" y="397.75" width="9.88" height="9.43" fill="#ffe700"/>
<rect x="157.25" y="397.75" width="9.88" height="9.43" fill="#fff000"/>
<rect x="166.13" y="397.75" width="9.88" height="9.43" fill="#f9f600"/>
<rect x="175.01" y="397.75" width="9.88" height="9.43" fill="#f9f600"/>
<rect x="183.89" y="397.75" width="9.88" height="9.43" fill="#e1fa00"/>
<rect x="192.76" y="397.75" width="9.88" height="9.43" fill="#e1fa00"/>
<rect x="201.64" y="397.75" width="9.88" height="9.43" fill="#e1fa00"/>
<rect x="121.73" y="406.18" width="9.88" height="5.22" fill="#e1fa00"/>
<rect x="130.61" y="406.18" width="9.88" height="5.22" fill="#f9f600"/>
<rect x="139.49" y="406.18" width="9.88" height="5.22" fill="#fff000"/>
<rect x="148.37" y="406.18" width="9.88" height="5.22" fill="#fff000"/>
<rect x="157.25" y="406.18" width="9.88" height="5.22" fill="#fff000"/>
<rect x="166.13" y="406.18" width="9.88" height="5.22" fill="#f9f600"/>
<rect x="175.01" y="406.18" width="9.88" height="5.22" fill="#f9f600"/>
<rect x="183.89" y="406.18" width="9.88" height="5.22" fill="#e1fa00"/>
<rect x="192.76" y="406.18" width="9.88" height="5.22" fill="#e1fa00"/></g>
<g clip-path="url(#cpc)" fill="none" stroke="#111" stroke-width="0.9" stroke-linejoin="round">
<path d="M41.8 290.5 L44.9 290.5 L48.2 289.5 L50.2 288.6 L48.9 286.9 L51.5 284.9 L54.2 283.3 L56.1 280.3 L58.1 277.7 L60.5 275.1 L61.4 271.8 L63.4 269.1 L66.0 266.5 L69.3 264.5 L73.9 263.6 L79.2 262.9 L83.1 262.0 L86.4 262.0 L88.0 260.9 L89.6 262.7 L93.5 263.9 L96.8 264.5 L100.1 263.9 L104.1 263.2 L108.0 262.7 L111.2 262.9 L116.4 263.4 L120.4 263.1 L123.0 261.9 L128.3 261.2 L132.9 262.5 L135.5 264.4 L136.8 267.0 L138.8 268.1 L140.8 266.4 L141.4 265.1 L144.1 267.7 L146.7 270.3 L149.3 272.3 L151.9 271.6 L154.5 270.8 L158.2 272.1 L161.8 273.0 L164.5 275.8 L168.2 278.0 L171.4 278.5 L174.1 278.5 L175.0 276.7 L177.3 273.9 L175.4 271.2 L173.2 267.6 L171.8 265.3 L171.4 263.9 L173.6 263.9 L178.2 263.5 L180.0 261.3 L180.0 260.0 L182.3 260.9 L185.4 260.4 L187.3 258.6 L189.5 255.9 L191.4 258.6 L192.7 260.4 L196.4 261.8 L198.6 263.9 L200.4 266.2 L204.5 264.4 L207.0 262.5 L210.3 261.2 L212.9 260.6 L216.2 257.9 L218.2 255.9 L220.8 257.3 L222.8 255.9 L224.8 254.0 L223.4 259.2 L221.5 263.1 L220.1 267.0 L218.8 271.6 L220.1 276.2 L222.1 280.2 L224.1 284.1 L226.1 288.1 L227.6 291.4 L228.3 295.5 L226.8 301.7 L224.5 306.2 L223.7 312.3 L226.0 316.9 L226.8 323.0 L226.0 328.4 L223.7 332.2 L221.4 334.5 L219.1 333.0 L215.3 333.0 L211.5 334.5 L208.4 337.6 L203.9 339.9 L200.1 340.7 L197.8 342.2 L194.7 343.7 L188.6 343.7 L187.1 343.9 L186.4 347.2 L185.8 351.7 L182.5 353.0 L178.5 352.4 L175.9 351.7 L172.6 351.0 L170.0 353.0 L165.4 355.0 L164.7 357.0 L166.0 360.3 L166.7 365.5 L168.0 368.8 L171.3 371.4 L175.2 373.4 L177.2 376.0 L176.6 380.0 L177.2 383.3 L174.6 382.6 L171.3 381.3 L169.3 380.6 L168.0 382.0 L166.0 380.0 L164.7 377.4 L162.7 375.4 L160.1 376.0 L157.1 376.8 L152.0 378.1 L148.2 380.7 L144.3 380.7 L140.5 378.7 L138.0 379.4 L137.3 381.9 L138.6 385.1 L136.1 386.4 L132.9 388.9 L129.1 391.4 L122.7 392.0 L118.9 393.3 L116.3 395.8 L110.8 394.3 L104.4 392.5 L100.7 391.9 L96.8 393.1 L93.1 395.5 L90.5 395.0 L87.9 393.8 L85.5 393.1 L83.0 390.8 L83.6 388.4 L86.2 386.0 L87.9 382.4 L88.6 377.6 L87.4 373.4 L84.2 371.5 L81.1 372.2 L79.1 375.2 L77.9 378.8 L75.3 381.1 L71.5 380.6 L68.3 378.8 L67.0 375.2 L67.7 371.5 L66.4 369.1 L67.0 365.5 L65.7 360.7 L63.8 358.2 L62.5 354.7 L60.6 351.0 L61.0 350.2 L58.7 345.6 L57.1 341.0 L54.8 334.9 L53.3 330.3 L51.8 327.2 L48.7 322.6 L47.2 318.0 L47.9 313.4 L46.4 308.8 L44.1 304.3 L42.6 299.7 L41.8 295.1Z"/>
<path d="M141.4 265.1 L145.4 263.1 L150.0 261.2 L152.6 257.9 L153.9 254.0 L154.5 251.0 L153.6 248.0 L154.6 246.1 L155.9 243.5 L157.2 240.8"/>
<path d="M224.8 254.0 L225.4 251.3 L224.8 249.4 L225.4 247.4 L227.4 245.4 L225.4 244.1 L224.1 242.8 L223.4 241.5"/>
<path d="M28.5 323.8 L29.5 324.9 L32.6 327.3 L35.7 330.3 L38.0 333.4 L39.5 337.2"/>
<path d="M116.3 395.8 L118.3 398.4 L120.8 401.5 L122.1 404.7 L124.0 403.5 L126.5 402.4 L129.7 404.7 L132.9 406.6 L135.4 408.5 L137.3 410.4"/>
<path d="M95.0 392.6 L96.5 395.6 L99.4 396.3 L101.6 398.5 L102.4 402.9 L101.6 407.3 L100.9 410.4"/>
<path d="M194.4 410.4 L197.4 404.9 L196.7 400.4 L198.2 395.9 L200.4 395.2 L204.1 394.4 L206.3 393.7 L208.5 395.9 L210.7 397.4 L214.5 396.7 L219.7 394.4 L224.9 391.5 L230.8 388.6 L235.3 386.3 L241.6 386.3"/>
<path d="M41.5 339.8 L42.5 339.3 L43.0 340.8 L42.0 341.3 L41.5 339.8"/>
<path d="M47.5 351.7 L48.5 351.2 L49.0 352.7 L48.0 353.2 L47.5 351.7"/>
<path d="M66.0 362.7 L67.0 363.2 L66.8 365.2 L66.0 364.7 L66.0 362.7"/>
<path d="M73.3 381.7 L74.0 382.2 L73.8 383.2 L73.3 381.7"/>
</g>
<text x="135.1" y="240.0" class="ttl" text-anchor="middle">Average Temperature</text>
<text x="23.9" y="244.2" class="tk" text-anchor="end">15</text>
<line x1="26.6" y1="241.8" x2="28.5" y2="241.8" class="tick"/>
<line x1="240.0" y1="241.8" x2="241.6" y2="241.8" class="tick"/>
<text x="23.9" y="261.1" class="tk" text-anchor="end">14.5</text>
<line x1="26.6" y1="258.7" x2="28.5" y2="258.7" class="tick"/>
<line x1="240.0" y1="258.7" x2="241.6" y2="258.7" class="tick"/>
<text x="23.9" y="277.9" class="tk" text-anchor="end">14</text>
<line x1="26.6" y1="275.5" x2="28.5" y2="275.5" class="tick"/>
<line x1="240.0" y1="275.5" x2="241.6" y2="275.5" class="tick"/>
<text x="23.9" y="294.8" class="tk" text-anchor="end">13.5</text>
<line x1="26.6" y1="292.4" x2="28.5" y2="292.4" class="tick"/>
<line x1="240.0" y1="292.4" x2="241.6" y2="292.4" class="tick"/>
<text x="23.9" y="311.6" class="tk" text-anchor="end">13</text>
<line x1="26.6" y1="309.2" x2="28.5" y2="309.2" class="tick"/>
<line x1="240.0" y1="309.2" x2="241.6" y2="309.2" class="tick"/>
<text x="23.9" y="328.5" class="tk" text-anchor="end">12.5</text>
<line x1="26.6" y1="326.1" x2="28.5" y2="326.1" class="tick"/>
<line x1="240.0" y1="326.1" x2="241.6" y2="326.1" class="tick"/>
<text x="23.9" y="345.4" class="tk" text-anchor="end">12</text>
<line x1="26.6" y1="343.0" x2="28.5" y2="343.0" class="tick"/>
<line x1="240.0" y1="343.0" x2="241.6" y2="343.0" class="tick"/>
<text x="23.9" y="362.2" class="tk" text-anchor="end">11.5</text>
<line x1="26.6" y1="359.8" x2="28.5" y2="359.8" class="tick"/>
<line x1="240.0" y1="359.8" x2="241.6" y2="359.8" class="tick"/>
<text x="23.9" y="379.1" class="tk" text-anchor="end">11</text>
<line x1="26.6" y1="376.7" x2="28.5" y2="376.7" class="tick"/>
<line x1="240.0" y1="376.7" x2="241.6" y2="376.7" class="tick"/>
<text x="23.9" y="395.9" class="tk" text-anchor="end">10.5</text>
<line x1="26.6" y1="393.5" x2="28.5" y2="393.5" class="tick"/>
<line x1="240.0" y1="393.5" x2="241.6" y2="393.5" class="tick"/>
<text x="23.9" y="412.8" class="tk" text-anchor="end">10</text>
<line x1="26.6" y1="410.4" x2="28.5" y2="410.4" class="tick"/>
<line x1="240.0" y1="410.4" x2="241.6" y2="410.4" class="tick"/>
<text x="28.5" y="421.9" class="tk" text-anchor="middle">102</text>
<line x1="28.5" y1="410.4" x2="28.5" y2="412.3" class="tick"/>
<text x="64.0" y="421.9" class="tk" text-anchor="middle">103</text>
<line x1="64.0" y1="410.4" x2="64.0" y2="412.3" class="tick"/>
<text x="99.5" y="421.9" class="tk" text-anchor="middle">104</text>
<line x1="99.5" y1="410.4" x2="99.5" y2="412.3" class="tick"/>
<text x="135.1" y="421.9" class="tk" text-anchor="middle">105</text>
<line x1="135.1" y1="410.4" x2="135.1" y2="412.3" class="tick"/>
<text x="170.6" y="421.9" class="tk" text-anchor="middle">106</text>
<line x1="170.6" y1="410.4" x2="170.6" y2="412.3" class="tick"/>
<text x="206.1" y="421.9" class="tk" text-anchor="middle">107</text>
<line x1="206.1" y1="410.4" x2="206.1" y2="412.3" class="tick"/>
<text x="241.6" y="421.9" class="tk" text-anchor="middle">108</text>
<line x1="241.6" y1="410.4" x2="241.6" y2="412.3" class="tick"/>
<line x1="28.5" y1="241.8" x2="28.5" y2="410.4" class="ax"/>
<line x1="28.5" y1="410.4" x2="241.6" y2="410.4" class="ax"/>
<line x1="241.6" y1="241.8" x2="241.6" y2="410.4" class="ax"/>
<rect x="247.0" y="270.0" width="8.2" height="113.3" fill="url(#jet)" stroke="#777" stroke-width="0.4"/>
<text x="258.0" y="272.9" class="tk">35</text>
<text x="258.0" y="301.2" class="tk">30</text>
<text x="258.0" y="329.5" class="tk">25</text>
<text x="258.0" y="357.9" class="tk">20</text>
<text x="258.0" y="386.2" class="tk">15</text>
<text x="251.1" y="266.6" class="tk" text-anchor="middle">[C]</text>
<g clip-path="url(#cpd)"><rect x="307.10" y="241.60" width="14.10" height="5.40" fill="#07f293"/>
<rect x="320.20" y="241.60" width="21.00" height="5.40" fill="#07f293"/>
<rect x="340.20" y="241.60" width="21.00" height="5.40" fill="#07f293"/>
<rect x="360.20" y="241.60" width="21.00" height="5.40" fill="#07f293"/>
<rect x="380.20" y="241.60" width="21.00" height="5.40" fill="#07f293"/>
<rect x="400.20" y="241.60" width="21.00" height="5.40" fill="#19f17b"/>
<rect x="420.20" y="241.60" width="21.00" height="5.40" fill="#03f39e"/>
<rect x="440.20" y="241.60" width="21.00" height="5.40" fill="#03f39e"/>
<rect x="460.20" y="241.60" width="21.00" height="5.40" fill="#f9f600"/>
<rect x="480.20" y="241.60" width="21.00" height="5.40" fill="#f9f600"/>
<rect x="500.20" y="241.60" width="21.60" height="5.40" fill="#f9f600"/>
<rect x="307.10" y="246.00" width="14.10" height="19.40" fill="#07f293"/>
<rect x="320.20" y="246.00" width="21.00" height="19.40" fill="#07f293"/>
<rect x="340.20" y="246.00" width="21.00" height="19.40" fill="#07f293"/>
<rect x="360.20" y="246.00" width="21.00" height="19.40" fill="#07f293"/>
<rect x="380.20" y="246.00" width="21.00" height="19.40" fill="#6af743"/>
<rect x="400.20" y="246.00" width="21.00" height="19.40" fill="#19f17b"/>
<rect x="420.20" y="246.00" width="21.00" height="19.40" fill="#03f39e"/>
<rect x="440.20" y="246.00" width="21.00" height="19.40" fill="#03f39e"/>
<rect x="460.20" y="246.00" width="21.00" height="19.40" fill="#f9f600"/>
<rect x="480.20" y="246.00" width="21.00" height="19.40" fill="#f9f600"/>
<rect x="500.20" y="246.00" width="21.60" height="19.40" fill="#adfa20"/>
<rect x="307.10" y="264.40" width="14.10" height="20.03" fill="#07f293"/>
<rect x="320.20" y="264.40" width="21.00" height="20.03" fill="#07f293"/>
<rect x="340.20" y="264.40" width="21.00" height="20.03" fill="#19f17b"/>
<rect x="360.20" y="264.40" width="21.00" height="20.03" fill="#a0fa28"/>
<rect x="380.20" y="264.40" width="21.00" height="20.03" fill="#6af743"/>
<rect x="400.20" y="264.40" width="21.00" height="20.03" fill="#28f26e"/>
<rect x="420.20" y="264.40" width="21.00" height="20.03" fill="#ffd400"/>
<rect x="440.20" y="264.40" width="21.00" height="20.03" fill="#ffd400"/>
<rect x="460.20" y="264.40" width="21.00" height="20.03" fill="#07f293"/>
<rect x="480.20" y="264.40" width="21.00" height="20.03" fill="#07f293"/>
<rect x="500.20" y="264.40" width="21.60" height="20.03" fill="#07f293"/>
<rect x="307.10" y="283.43" width="14.10" height="20.03" fill="#07f293"/>
<rect x="320.20" y="283.43" width="21.00" height="20.03" fill="#07f293"/>
<rect x="340.20" y="283.43" width="21.00" height="20.03" fill="#07f293"/>
<rect x="360.20" y="283.43" width="21.00" height="20.03" fill="#a0fa28"/>
<rect x="380.20" y="283.43" width="21.00" height="20.03" fill="#6af743"/>
<rect x="400.20" y="283.43" width="21.00" height="20.03" fill="#19f17b"/>
<rect x="420.20" y="283.43" width="21.00" height="20.03" fill="#ffc900"/>
<rect x="440.20" y="283.43" width="21.00" height="20.03" fill="#ffc900"/>
<rect x="460.20" y="283.43" width="21.00" height="20.03" fill="#07f293"/>
<rect x="480.20" y="283.43" width="21.00" height="20.03" fill="#07f293"/>
<rect x="500.20" y="283.43" width="21.60" height="20.03" fill="#07f293"/>
<rect x="307.10" y="302.46" width="14.10" height="20.03" fill="#07f293"/>
<rect x="320.20" y="302.46" width="21.00" height="20.03" fill="#07f293"/>
<rect x="340.20" y="302.46" width="21.00" height="20.03" fill="#07f293"/>
<rect x="360.20" y="302.46" width="21.00" height="20.03" fill="#7cf83a"/>
<rect x="380.20" y="302.46" width="21.00" height="20.03" fill="#bafa18"/>
<rect x="400.20" y="302.46" width="21.00" height="20.03" fill="#6af743"/>
<rect x="420.20" y="302.46" width="21.00" height="20.03" fill="#46f555"/>
<rect x="440.20" y="302.46" width="21.00" height="20.03" fill="#46f555"/>
<rect x="460.20" y="302.46" width="21.00" height="20.03" fill="#28f26e"/>
<rect x="480.20" y="302.46" width="21.00" height="20.03" fill="#28f26e"/>
<rect x="500.20" y="302.46" width="21.60" height="20.03" fill="#00f0f9"/>
<rect x="307.10" y="321.49" width="14.10" height="20.03" fill="#ec0000"/>
<rect x="320.20" y="321.49" width="21.00" height="20.03" fill="#ff4600"/>
<rect x="340.20" y="321.49" width="21.00" height="20.03" fill="#07f293"/>
<rect x="360.20" y="321.49" width="21.00" height="20.03" fill="#f9f600"/>
<rect x="380.20" y="321.49" width="21.00" height="20.03" fill="#46f555"/>
<rect x="400.20" y="321.49" width="21.00" height="20.03" fill="#a0fa28"/>
<rect x="420.20" y="321.49" width="21.00" height="20.03" fill="#bafa18"/>
<rect x="440.20" y="321.49" width="21.00" height="20.03" fill="#bafa18"/>
<rect x="460.20" y="321.49" width="21.00" height="20.03" fill="#bafa18"/>
<rect x="480.20" y="321.49" width="21.00" height="20.03" fill="#6af743"/>
<rect x="500.20" y="321.49" width="21.60" height="20.03" fill="#f9f600"/>
<rect x="307.10" y="340.52" width="14.10" height="20.03" fill="#ec0000"/>
<rect x="320.20" y="340.52" width="21.00" height="20.03" fill="#ec0000"/>
<rect x="340.20" y="340.52" width="21.00" height="20.03" fill="#ff8c00"/>
<rect x="360.20" y="340.52" width="21.00" height="20.03" fill="#07f293"/>
<rect x="380.20" y="340.52" width="21.00" height="20.03" fill="#0af087"/>
<rect x="400.20" y="340.52" width="21.00" height="20.03" fill="#19f17b"/>
<rect x="420.20" y="340.52" width="21.00" height="20.03" fill="#bafa18"/>
<rect x="440.20" y="340.52" width="21.00" height="20.03" fill="#bafa18"/>
<rect x="460.20" y="340.52" width="21.00" height="20.03" fill="#46f555"/>
<rect x="480.20" y="340.52" width="21.00" height="20.03" fill="#19f17b"/>
<rect x="500.20" y="340.52" width="21.60" height="20.03" fill="#ff9600"/>
<rect x="307.10" y="359.55" width="14.10" height="20.03" fill="#ec0000"/>
<rect x="320.20" y="359.55" width="21.00" height="20.03" fill="#ec0000"/>
<rect x="340.20" y="359.55" width="21.00" height="20.03" fill="#ff4600"/>
<rect x="360.20" y="359.55" width="21.00" height="20.03" fill="#fff000"/>
<rect x="380.20" y="359.55" width="21.00" height="20.03" fill="#03f39e"/>
<rect x="400.20" y="359.55" width="21.00" height="20.03" fill="#0af087"/>
<rect x="420.20" y="359.55" width="21.00" height="20.03" fill="#0af087"/>
<rect x="440.20" y="359.55" width="21.00" height="20.03" fill="#0af087"/>
<rect x="460.20" y="359.55" width="21.00" height="20.03" fill="#0af087"/>
<rect x="480.20" y="359.55" width="21.00" height="20.03" fill="#0af087"/>
<rect x="500.20" y="359.55" width="21.60" height="20.03" fill="#0af087"/>
<rect x="307.10" y="378.58" width="14.10" height="20.03" fill="#ec0000"/>
<rect x="320.20" y="378.58" width="21.00" height="20.03" fill="#ec0000"/>
<rect x="340.20" y="378.58" width="21.00" height="20.03" fill="#ec0000"/>
<rect x="360.20" y="378.58" width="21.00" height="20.03" fill="#f70c00"/>
<rect x="380.20" y="378.58" width="21.00" height="20.03" fill="#fd1e00"/>
<rect x="400.20" y="378.58" width="21.00" height="20.03" fill="#07f293"/>
<rect x="420.20" y="378.58" width="21.00" height="20.03" fill="#07f293"/>
<rect x="440.20" y="378.58" width="21.00" height="20.03" fill="#07f293"/>
<rect x="460.20" y="378.58" width="21.00" height="20.03" fill="#07f293"/>
<rect x="480.20" y="378.58" width="21.00" height="20.03" fill="#07f293"/>
<rect x="500.20" y="378.58" width="21.60" height="20.03" fill="#ec0000"/>
<rect x="307.10" y="397.61" width="14.10" height="13.39" fill="#ec0000"/>
<rect x="320.20" y="397.61" width="21.00" height="13.39" fill="#ec0000"/>
<rect x="340.20" y="397.61" width="21.00" height="13.39" fill="#ec0000"/>
<rect x="360.20" y="397.61" width="21.00" height="13.39" fill="#ec0000"/>
<rect x="380.20" y="397.61" width="21.00" height="13.39" fill="#cc0000"/>
<rect x="400.20" y="397.61" width="21.00" height="13.39" fill="#fc1400"/>
<rect x="420.20" y="397.61" width="21.00" height="13.39" fill="#03f39e"/>
<rect x="440.20" y="397.61" width="21.00" height="13.39" fill="#03f39e"/>
<rect x="460.20" y="397.61" width="21.00" height="13.39" fill="#03f39e"/>
<rect x="480.20" y="397.61" width="21.00" height="13.39" fill="#ec0000"/>
<rect x="500.20" y="397.61" width="21.60" height="13.39" fill="#a40000"/></g>
<g clip-path="url(#cpd)" fill="none" stroke="#111" stroke-width="0.9" stroke-linejoin="round">
<path d="M320.4 290.2 L323.5 290.2 L326.8 289.2 L328.8 288.3 L327.5 286.6 L330.1 284.6 L332.8 283.1 L334.7 280.1 L336.7 277.5 L339.1 274.9 L340.0 271.6 L342.0 268.9 L344.6 266.3 L347.9 264.3 L352.5 263.4 L357.8 262.6 L361.7 261.7 L365.0 261.7 L366.7 260.6 L368.3 262.4 L372.2 263.7 L375.5 264.3 L378.8 263.7 L382.8 263.0 L386.7 262.4 L389.9 262.6 L395.1 263.2 L399.0 262.9 L401.6 261.6 L406.9 260.9 L411.5 262.2 L414.1 264.2 L415.4 266.8 L417.4 267.9 L419.4 266.2 L420.0 264.9 L422.7 267.5 L425.3 270.1 L427.9 272.1 L430.5 271.4 L433.1 270.6 L436.8 271.9 L440.4 272.8 L443.1 275.6 L446.8 277.8 L450.0 278.3 L452.7 278.3 L453.6 276.5 L455.9 273.7 L454.0 271.0 L451.8 267.4 L450.4 265.1 L450.0 263.7 L452.2 263.7 L456.8 263.3 L458.6 261.0 L458.6 259.7 L460.9 260.6 L464.0 260.1 L465.9 258.3 L468.1 255.6 L470.0 258.3 L471.3 260.1 L475.0 261.5 L477.2 263.7 L479.0 266.0 L483.1 264.2 L485.7 262.2 L489.0 260.9 L491.6 260.3 L494.9 257.6 L496.9 255.6 L499.5 257.0 L501.5 255.6 L503.5 253.8 L502.1 258.9 L500.2 262.9 L498.8 266.8 L497.5 271.4 L498.8 276.0 L500.8 280.0 L502.8 283.8 L504.8 287.8 L506.3 291.1 L507.0 295.2 L505.5 301.4 L503.2 306.0 L502.4 312.0 L504.7 316.6 L505.5 322.7 L504.7 328.1 L502.4 331.9 L500.1 334.2 L497.8 332.7 L494.0 332.7 L490.2 334.2 L487.1 337.3 L482.5 339.6 L478.7 340.3 L476.4 341.8 L473.3 343.3 L467.2 343.3 L465.7 343.5 L465.0 346.8 L464.4 351.4 L461.1 352.7 L457.1 352.1 L454.5 351.4 L451.2 350.7 L448.6 352.7 L444.0 354.7 L443.3 356.7 L444.6 360.0 L445.3 365.2 L446.6 368.4 L449.9 371.0 L453.8 373.0 L455.8 375.6 L455.2 379.6 L455.8 382.9 L453.2 382.2 L449.9 380.9 L447.9 380.2 L446.6 381.6 L444.6 379.6 L443.3 377.0 L441.3 375.0 L438.7 375.6 L435.7 376.4 L430.6 377.7 L426.8 380.3 L422.9 380.3 L419.1 378.3 L416.6 379.0 L415.9 381.5 L417.2 384.7 L414.7 386.0 L411.5 388.5 L407.7 391.1 L401.3 391.7 L397.5 393.0 L395.0 395.5 L389.5 394.0 L383.1 392.2 L379.4 391.6 L375.5 392.8 L371.8 395.2 L369.2 394.7 L366.6 393.5 L364.1 392.8 L361.6 390.5 L362.2 388.0 L364.8 385.6 L366.6 382.0 L367.3 377.2 L366.0 373.0 L362.8 371.1 L359.7 371.8 L357.7 374.8 L356.5 378.4 L353.9 380.7 L350.1 380.2 L346.9 378.4 L345.6 374.8 L346.3 371.1 L345.0 368.7 L345.6 365.2 L344.3 360.4 L342.4 357.9 L341.1 354.4 L339.2 350.7 L339.6 349.9 L337.3 345.2 L335.7 340.6 L333.4 334.6 L331.9 330.0 L330.4 326.9 L327.3 322.3 L325.8 317.7 L326.5 313.1 L325.0 308.6 L322.7 304.0 L321.2 299.4 L320.4 294.8Z"/>
<path d="M420.0 264.9 L424.0 262.9 L428.6 260.9 L431.2 257.6 L432.5 253.8 L433.1 250.8 L432.2 247.8 L433.2 245.9 L434.5 243.3 L435.8 240.6"/>
<path d="M503.5 253.8 L504.1 251.1 L503.5 249.2 L504.1 247.2 L506.1 245.2 L504.1 243.9 L502.8 242.6 L502.1 241.3"/>
<path d="M307.1 323.5 L308.1 324.6 L311.2 327.0 L314.3 330.0 L316.6 333.1 L318.1 336.9"/>
<path d="M395.0 395.5 L396.9 398.0 L399.4 401.1 L400.7 404.3 L402.6 403.1 L405.1 402.0 L408.3 404.3 L411.5 406.2 L414.0 408.1 L415.9 410.0"/>
<path d="M373.7 392.3 L375.2 395.3 L378.1 396.0 L380.3 398.1 L381.1 402.5 L380.3 406.9 L379.6 410.0"/>
<path d="M473.0 410.0 L476.0 404.5 L475.3 400.0 L476.8 395.6 L479.0 394.9 L482.7 394.1 L485.0 393.4 L487.2 395.6 L489.4 397.0 L493.2 396.3 L498.4 394.1 L503.6 391.2 L509.5 388.2 L514.0 385.9 L520.3 385.9"/>
<path d="M320.1 339.5 L321.1 339.0 L321.6 340.4 L320.6 340.9 L320.1 339.5"/>
<path d="M326.1 351.4 L327.1 350.9 L327.6 352.4 L326.6 352.9 L326.1 351.4"/>
<path d="M344.6 362.4 L345.6 362.9 L345.4 364.9 L344.6 364.4 L344.6 362.4"/>
<path d="M351.9 381.3 L352.6 381.8 L352.4 382.8 L351.9 381.3"/>
</g>
<text x="413.9" y="239.8" class="ttl" text-anchor="middle">Annual ET</text>
<text x="302.5" y="244.0" class="tk" text-anchor="end">15</text>
<line x1="305.2" y1="241.6" x2="307.1" y2="241.6" class="tick"/>
<text x="302.5" y="260.8" class="tk" text-anchor="end">14.5</text>
<line x1="305.2" y1="258.4" x2="307.1" y2="258.4" class="tick"/>
<text x="302.5" y="277.7" class="tk" text-anchor="end">14</text>
<line x1="305.2" y1="275.3" x2="307.1" y2="275.3" class="tick"/>
<text x="302.5" y="294.5" class="tk" text-anchor="end">13.5</text>
<line x1="305.2" y1="292.1" x2="307.1" y2="292.1" class="tick"/>
<text x="302.5" y="311.4" class="tk" text-anchor="end">13</text>
<line x1="305.2" y1="309.0" x2="307.1" y2="309.0" class="tick"/>
<text x="302.5" y="328.2" class="tk" text-anchor="end">12.5</text>
<line x1="305.2" y1="325.8" x2="307.1" y2="325.8" class="tick"/>
<text x="302.5" y="345.0" class="tk" text-anchor="end">12</text>
<line x1="305.2" y1="342.6" x2="307.1" y2="342.6" class="tick"/>
<text x="302.5" y="361.9" class="tk" text-anchor="end">11.5</text>
<line x1="305.2" y1="359.5" x2="307.1" y2="359.5" class="tick"/>
<text x="302.5" y="378.7" class="tk" text-anchor="end">11</text>
<line x1="305.2" y1="376.3" x2="307.1" y2="376.3" class="tick"/>
<text x="302.5" y="395.6" class="tk" text-anchor="end">10.5</text>
<line x1="305.2" y1="393.2" x2="307.1" y2="393.2" class="tick"/>
<text x="302.5" y="412.4" class="tk" text-anchor="end">10</text>
<line x1="305.2" y1="410.0" x2="307.1" y2="410.0" class="tick"/>
<text x="307.1" y="421.5" class="tk" text-anchor="middle">102</text>
<line x1="307.1" y1="410.0" x2="307.1" y2="411.9" class="tick"/>
<text x="342.7" y="421.5" class="tk" text-anchor="middle">103</text>
<line x1="342.7" y1="410.0" x2="342.7" y2="411.9" class="tick"/>
<text x="378.3" y="421.5" class="tk" text-anchor="middle">104</text>
<line x1="378.3" y1="410.0" x2="378.3" y2="411.9" class="tick"/>
<text x="413.9" y="421.5" class="tk" text-anchor="middle">105</text>
<line x1="413.9" y1="410.0" x2="413.9" y2="411.9" class="tick"/>
<text x="449.6" y="421.5" class="tk" text-anchor="middle">106</text>
<line x1="449.6" y1="410.0" x2="449.6" y2="411.9" class="tick"/>
<text x="485.2" y="421.5" class="tk" text-anchor="middle">107</text>
<line x1="485.2" y1="410.0" x2="485.2" y2="411.9" class="tick"/>
<text x="520.8" y="421.5" class="tk" text-anchor="middle">108</text>
<line x1="520.8" y1="410.0" x2="520.8" y2="411.9" class="tick"/>
<line x1="307.1" y1="241.6" x2="307.1" y2="410.0" class="ax"/>
<line x1="307.1" y1="410.0" x2="520.8" y2="410.0" class="ax"/>
<rect x="521.2" y="270.1" width="8.2" height="113.1" fill="url(#jet)" stroke="#777" stroke-width="0.4"/>
<text x="532.2" y="273.0" class="tk">2000</text>
<text x="532.2" y="301.3" class="tk">1500</text>
<text x="532.2" y="329.5" class="tk">1000</text>
<text x="532.2" y="357.8" class="tk">500</text>
<text x="532.2" y="386.1" class="tk">0</text>
<text x="525.3" y="266.7" class="tk" text-anchor="middle">[mm]</text>
<text x="139.8" y="218.9" class="cap" text-anchor="middle">(<tspan font-weight="bold">a</tspan>)</text>
<text x="418.3" y="218.9" class="cap" text-anchor="middle">(<tspan font-weight="bold">b</tspan>)</text>
<text x="139.8" y="448.6" class="cap" text-anchor="middle">(<tspan font-weight="bold">c</tspan>)</text>
<text x="418.6" y="448.6" class="cap" text-anchor="middle">(<tspan font-weight="bold">d</tspan>)</text>
</svg>
</body></html>
